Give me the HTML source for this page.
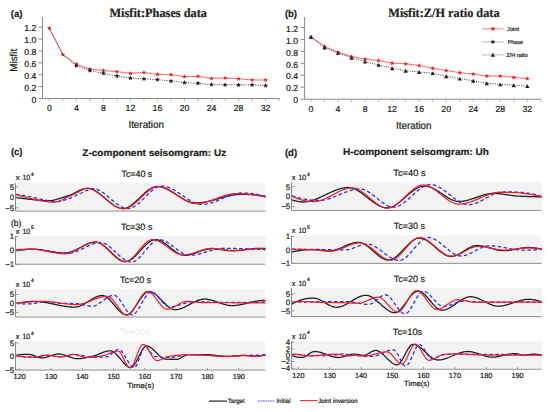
<!DOCTYPE html><html><head><meta charset="utf-8"><style>html,body{margin:0;padding:0;background:#fff;}svg{display:block}text{text-rendering:geometricPrecision}</style></head><body>
<svg width="550" height="412" viewBox="0 0 550 412">
<rect width="550" height="412" fill="#fff"/>
<text x="10.8" y="16.8" font-family="&quot;Liberation Sans&quot;, sans-serif" font-size="9.6" font-weight="bold" text-anchor="start" fill="#231f20" stroke="#231f20" stroke-width="0.22" textLength="11.6" lengthAdjust="spacingAndGlyphs">(a)</text>
<text x="284.9" y="17.0" font-family="&quot;Liberation Sans&quot;, sans-serif" font-size="9.8" font-weight="bold" text-anchor="start" fill="#231f20" stroke="#231f20" stroke-width="0.22" textLength="12.1" lengthAdjust="spacingAndGlyphs">(b)</text>
<text x="10.9" y="155.2" font-family="&quot;Liberation Sans&quot;, sans-serif" font-size="9.6" font-weight="bold" text-anchor="start" fill="#231f20" stroke="#231f20" stroke-width="0.22" textLength="11.6" lengthAdjust="spacingAndGlyphs">(c)</text>
<text x="284.9" y="156.4" font-family="&quot;Liberation Sans&quot;, sans-serif" font-size="9.8" font-weight="bold" text-anchor="start" fill="#231f20" stroke="#231f20" stroke-width="0.22" textLength="12.2" lengthAdjust="spacingAndGlyphs">(d)</text>
<text x="109.5" y="16.6" font-family="&quot;Liberation Serif&quot;, serif" font-size="12.8" font-weight="bold" text-anchor="start" fill="#231f20" stroke="#231f20" stroke-width="0.22" textLength="97.5" lengthAdjust="spacingAndGlyphs">Misfit:Phases data</text>
<text x="388.3" y="17.4" font-family="&quot;Liberation Serif&quot;, serif" font-size="12.8" font-weight="bold" text-anchor="start" fill="#231f20" stroke="#231f20" stroke-width="0.22" textLength="111.3" lengthAdjust="spacingAndGlyphs">Misfit:Z/H ratio data</text>
<text transform="translate(17,71.8) rotate(-90)" font-family="&quot;Liberation Sans&quot;, sans-serif" font-size="10.1" fill="#231f20" stroke="#231f20" stroke-width="0.22" textLength="23.1" lengthAdjust="spacingAndGlyphs">Misfit</text>
<path d="M42.5,17 V98.5 H279.7" stroke="#888888" stroke-width="1" fill="none"/>
<path d="M38.5,98.50 H42.5" stroke="#888888" stroke-width="1"/>
<text x="36.4" y="102.70" font-family="&quot;Liberation Sans&quot;, sans-serif" font-size="8.7" text-anchor="end" fill="#231f20" stroke="#231f20" stroke-width="0.22">0</text>
<path d="M38.5,86.62 H42.5" stroke="#888888" stroke-width="1"/>
<text x="36.4" y="90.82" font-family="&quot;Liberation Sans&quot;, sans-serif" font-size="8.7" text-anchor="end" fill="#231f20" stroke="#231f20" stroke-width="0.22">0.2</text>
<path d="M38.5,74.74 H42.5" stroke="#888888" stroke-width="1"/>
<text x="36.4" y="78.94" font-family="&quot;Liberation Sans&quot;, sans-serif" font-size="8.7" text-anchor="end" fill="#231f20" stroke="#231f20" stroke-width="0.22">0.4</text>
<path d="M38.5,62.86 H42.5" stroke="#888888" stroke-width="1"/>
<text x="36.4" y="67.06" font-family="&quot;Liberation Sans&quot;, sans-serif" font-size="8.7" text-anchor="end" fill="#231f20" stroke="#231f20" stroke-width="0.22">0.6</text>
<path d="M38.5,50.98 H42.5" stroke="#888888" stroke-width="1"/>
<text x="36.4" y="55.18" font-family="&quot;Liberation Sans&quot;, sans-serif" font-size="8.7" text-anchor="end" fill="#231f20" stroke="#231f20" stroke-width="0.22">0.8</text>
<path d="M38.5,39.10 H42.5" stroke="#888888" stroke-width="1"/>
<text x="36.4" y="43.30" font-family="&quot;Liberation Sans&quot;, sans-serif" font-size="8.7" text-anchor="end" fill="#231f20" stroke="#231f20" stroke-width="0.22">1.0</text>
<path d="M38.5,27.22 H42.5" stroke="#888888" stroke-width="1"/>
<text x="36.4" y="31.42" font-family="&quot;Liberation Sans&quot;, sans-serif" font-size="8.7" text-anchor="end" fill="#231f20" stroke="#231f20" stroke-width="0.22">1.2</text>
<path d="M49.30,98.5 V101.5" stroke="#9a9a9a" stroke-width="0.7"/>
<text x="49.30" y="111.1" font-family="&quot;Liberation Sans&quot;, sans-serif" font-size="8.7" text-anchor="middle" fill="#231f20" stroke="#231f20" stroke-width="0.22">0</text>
<path d="M62.82,98.5 V101.5" stroke="#9a9a9a" stroke-width="0.7"/>
<path d="M76.34,98.5 V101.5" stroke="#9a9a9a" stroke-width="0.7"/>
<text x="76.34" y="111.1" font-family="&quot;Liberation Sans&quot;, sans-serif" font-size="8.7" text-anchor="middle" fill="#231f20" stroke="#231f20" stroke-width="0.22">4</text>
<path d="M89.86,98.5 V101.5" stroke="#9a9a9a" stroke-width="0.7"/>
<path d="M103.38,98.5 V101.5" stroke="#9a9a9a" stroke-width="0.7"/>
<text x="103.38" y="111.1" font-family="&quot;Liberation Sans&quot;, sans-serif" font-size="8.7" text-anchor="middle" fill="#231f20" stroke="#231f20" stroke-width="0.22">8</text>
<path d="M116.90,98.5 V101.5" stroke="#9a9a9a" stroke-width="0.7"/>
<path d="M130.42,98.5 V101.5" stroke="#9a9a9a" stroke-width="0.7"/>
<text x="130.42" y="111.1" font-family="&quot;Liberation Sans&quot;, sans-serif" font-size="8.7" text-anchor="middle" fill="#231f20" stroke="#231f20" stroke-width="0.22">12</text>
<path d="M143.94,98.5 V101.5" stroke="#9a9a9a" stroke-width="0.7"/>
<path d="M157.46,98.5 V101.5" stroke="#9a9a9a" stroke-width="0.7"/>
<text x="157.46" y="111.1" font-family="&quot;Liberation Sans&quot;, sans-serif" font-size="8.7" text-anchor="middle" fill="#231f20" stroke="#231f20" stroke-width="0.22">16</text>
<path d="M170.98,98.5 V101.5" stroke="#9a9a9a" stroke-width="0.7"/>
<path d="M184.50,98.5 V101.5" stroke="#9a9a9a" stroke-width="0.7"/>
<text x="184.50" y="111.1" font-family="&quot;Liberation Sans&quot;, sans-serif" font-size="8.7" text-anchor="middle" fill="#231f20" stroke="#231f20" stroke-width="0.22">20</text>
<path d="M198.02,98.5 V101.5" stroke="#9a9a9a" stroke-width="0.7"/>
<path d="M211.54,98.5 V101.5" stroke="#9a9a9a" stroke-width="0.7"/>
<text x="211.54" y="111.1" font-family="&quot;Liberation Sans&quot;, sans-serif" font-size="8.7" text-anchor="middle" fill="#231f20" stroke="#231f20" stroke-width="0.22">24</text>
<path d="M225.06,98.5 V101.5" stroke="#9a9a9a" stroke-width="0.7"/>
<path d="M238.58,98.5 V101.5" stroke="#9a9a9a" stroke-width="0.7"/>
<text x="238.58" y="111.1" font-family="&quot;Liberation Sans&quot;, sans-serif" font-size="8.7" text-anchor="middle" fill="#231f20" stroke="#231f20" stroke-width="0.22">28</text>
<path d="M252.10,98.5 V101.5" stroke="#9a9a9a" stroke-width="0.7"/>
<path d="M265.62,98.5 V101.5" stroke="#9a9a9a" stroke-width="0.7"/>
<text x="265.62" y="111.1" font-family="&quot;Liberation Sans&quot;, sans-serif" font-size="8.7" text-anchor="middle" fill="#231f20" stroke="#231f20" stroke-width="0.22">32</text>
<path d="M279.14,98.5 V101.5" stroke="#9a9a9a" stroke-width="0.7"/>
<text x="128.4" y="128.0" font-family="&quot;Liberation Sans&quot;, sans-serif" font-size="10.4" text-anchor="start" fill="#231f20" stroke="#231f20" stroke-width="0.22" textLength="35.6" lengthAdjust="spacingAndGlyphs">Iteration</text>
<path d="M49.30,28.10 62.82,54.60 76.34,64.20 89.86,69.00 103.38,70.50 116.90,71.60 130.42,73.30 143.94,72.50 157.46,74.40 170.98,74.70 184.50,76.70 198.02,76.40 211.54,78.40 225.06,78.00 238.58,78.80 252.10,80.00 265.62,80.00" stroke="#f55a5a" stroke-width="0.9" fill="none"/>
<polygon points="49.30,25.70 49.93,27.23 51.58,27.36 50.33,28.43 50.71,30.04 49.30,29.18 47.89,30.04 48.27,28.43 47.02,27.36 48.67,27.23" fill="#ee1c24"/>
<polygon points="62.82,52.20 63.45,53.73 65.10,53.86 63.85,54.93 64.23,56.54 62.82,55.68 61.41,56.54 61.79,54.93 60.54,53.86 62.19,53.73" fill="#ee1c24"/>
<polygon points="76.34,61.80 76.97,63.33 78.62,63.46 77.37,64.53 77.75,66.14 76.34,65.28 74.93,66.14 75.31,64.53 74.06,63.46 75.71,63.33" fill="#ee1c24"/>
<polygon points="89.86,66.60 90.49,68.13 92.14,68.26 90.89,69.33 91.27,70.94 89.86,70.08 88.45,70.94 88.83,69.33 87.58,68.26 89.23,68.13" fill="#ee1c24"/>
<polygon points="103.38,68.10 104.01,69.63 105.66,69.76 104.41,70.83 104.79,72.44 103.38,71.58 101.97,72.44 102.35,70.83 101.10,69.76 102.75,69.63" fill="#ee1c24"/>
<polygon points="116.90,69.20 117.53,70.73 119.18,70.86 117.93,71.93 118.31,73.54 116.90,72.68 115.49,73.54 115.87,71.93 114.62,70.86 116.27,70.73" fill="#ee1c24"/>
<polygon points="130.42,70.90 131.05,72.43 132.70,72.56 131.45,73.63 131.83,75.24 130.42,74.38 129.01,75.24 129.39,73.63 128.14,72.56 129.79,72.43" fill="#ee1c24"/>
<polygon points="143.94,70.10 144.57,71.63 146.22,71.76 144.97,72.83 145.35,74.44 143.94,73.58 142.53,74.44 142.91,72.83 141.66,71.76 143.31,71.63" fill="#ee1c24"/>
<polygon points="157.46,72.00 158.09,73.53 159.74,73.66 158.49,74.73 158.87,76.34 157.46,75.48 156.05,76.34 156.43,74.73 155.18,73.66 156.83,73.53" fill="#ee1c24"/>
<polygon points="170.98,72.30 171.61,73.83 173.26,73.96 172.01,75.03 172.39,76.64 170.98,75.78 169.57,76.64 169.95,75.03 168.70,73.96 170.35,73.83" fill="#ee1c24"/>
<polygon points="184.50,74.30 185.13,75.83 186.78,75.96 185.53,77.03 185.91,78.64 184.50,77.78 183.09,78.64 183.47,77.03 182.22,75.96 183.87,75.83" fill="#ee1c24"/>
<polygon points="198.02,74.00 198.65,75.53 200.30,75.66 199.05,76.73 199.43,78.34 198.02,77.48 196.61,78.34 196.99,76.73 195.74,75.66 197.39,75.53" fill="#ee1c24"/>
<polygon points="211.54,76.00 212.17,77.53 213.82,77.66 212.57,78.73 212.95,80.34 211.54,79.48 210.13,80.34 210.51,78.73 209.26,77.66 210.91,77.53" fill="#ee1c24"/>
<polygon points="225.06,75.60 225.69,77.13 227.34,77.26 226.09,78.33 226.47,79.94 225.06,79.08 223.65,79.94 224.03,78.33 222.78,77.26 224.43,77.13" fill="#ee1c24"/>
<polygon points="238.58,76.40 239.21,77.93 240.86,78.06 239.61,79.13 239.99,80.74 238.58,79.88 237.17,80.74 237.55,79.13 236.30,78.06 237.95,77.93" fill="#ee1c24"/>
<polygon points="252.10,77.60 252.73,79.13 254.38,79.26 253.13,80.33 253.51,81.94 252.10,81.08 250.69,81.94 251.07,80.33 249.82,79.26 251.47,79.13" fill="#ee1c24"/>
<polygon points="265.62,77.60 266.25,79.13 267.90,79.26 266.65,80.33 267.03,81.94 265.62,81.08 264.21,81.94 264.59,80.33 263.34,79.26 264.99,79.13" fill="#ee1c24"/>
<path d="M49.30,28.10 62.82,54.60 76.34,65.70 89.86,70.50 103.38,73.40 116.90,76.00 130.42,78.20 143.94,78.90 157.46,79.60 170.98,81.10 184.50,82.70 198.02,83.30 211.54,84.60 225.06,84.90 238.58,85.00 252.10,84.90 265.62,85.60" stroke="#231f20" stroke-width="0.9" stroke-dasharray="1 1.4" fill="none"/>
<polygon points="76.34,63.10 77.03,64.75 78.81,64.90 77.45,66.06 77.87,67.80 76.34,66.87 74.81,67.80 75.23,66.06 73.87,64.90 75.65,64.75" fill="#231f20"/>
<polygon points="89.86,67.90 90.55,69.55 92.33,69.70 90.97,70.86 91.39,72.60 89.86,71.67 88.33,72.60 88.75,70.86 87.39,69.70 89.17,69.55" fill="#231f20"/>
<polygon points="103.38,70.80 104.07,72.45 105.85,72.60 104.49,73.76 104.91,75.50 103.38,74.57 101.85,75.50 102.27,73.76 100.91,72.60 102.69,72.45" fill="#231f20"/>
<polygon points="116.90,73.40 117.59,75.05 119.37,75.20 118.01,76.36 118.43,78.10 116.90,77.17 115.37,78.10 115.79,76.36 114.43,75.20 116.21,75.05" fill="#231f20"/>
<polygon points="130.42,75.60 131.11,77.25 132.89,77.40 131.53,78.56 131.95,80.30 130.42,79.37 128.89,80.30 129.31,78.56 127.95,77.40 129.73,77.25" fill="#231f20"/>
<polygon points="143.94,76.30 144.63,77.95 146.41,78.10 145.05,79.26 145.47,81.00 143.94,80.07 142.41,81.00 142.83,79.26 141.47,78.10 143.25,77.95" fill="#231f20"/>
<polygon points="157.46,77.00 158.15,78.65 159.93,78.80 158.57,79.96 158.99,81.70 157.46,80.77 155.93,81.70 156.35,79.96 154.99,78.80 156.77,78.65" fill="#231f20"/>
<polygon points="170.98,78.50 171.67,80.15 173.45,80.30 172.09,81.46 172.51,83.20 170.98,82.27 169.45,83.20 169.87,81.46 168.51,80.30 170.29,80.15" fill="#231f20"/>
<polygon points="184.50,80.10 185.19,81.75 186.97,81.90 185.61,83.06 186.03,84.80 184.50,83.87 182.97,84.80 183.39,83.06 182.03,81.90 183.81,81.75" fill="#231f20"/>
<polygon points="198.02,80.70 198.71,82.35 200.49,82.50 199.13,83.66 199.55,85.40 198.02,84.47 196.49,85.40 196.91,83.66 195.55,82.50 197.33,82.35" fill="#231f20"/>
<polygon points="211.54,82.00 212.23,83.65 214.01,83.80 212.65,84.96 213.07,86.70 211.54,85.77 210.01,86.70 210.43,84.96 209.07,83.80 210.85,83.65" fill="#231f20"/>
<polygon points="225.06,82.30 225.75,83.95 227.53,84.10 226.17,85.26 226.59,87.00 225.06,86.07 223.53,87.00 223.95,85.26 222.59,84.10 224.37,83.95" fill="#231f20"/>
<polygon points="238.58,82.40 239.27,84.05 241.05,84.20 239.69,85.36 240.11,87.10 238.58,86.17 237.05,87.10 237.47,85.36 236.11,84.20 237.89,84.05" fill="#231f20"/>
<polygon points="252.10,82.30 252.79,83.95 254.57,84.10 253.21,85.26 253.63,87.00 252.10,86.07 250.57,87.00 250.99,85.26 249.63,84.10 251.41,83.95" fill="#231f20"/>
<polygon points="265.62,83.00 266.31,84.65 268.09,84.80 266.73,85.96 267.15,87.70 265.62,86.77 264.09,87.70 264.51,85.96 263.15,84.80 264.93,84.65" fill="#231f20"/>
<path d="M304.6,17 V99.2 H541.3" stroke="#888888" stroke-width="1" fill="none"/>
<path d="M300.6,99.20 H304.6" stroke="#888888" stroke-width="1"/>
<text x="298.2" y="103.40" font-family="&quot;Liberation Sans&quot;, sans-serif" font-size="8.7" text-anchor="end" fill="#231f20" stroke="#231f20" stroke-width="0.22">0</text>
<path d="M300.6,87.24 H304.6" stroke="#888888" stroke-width="1"/>
<text x="298.2" y="91.44" font-family="&quot;Liberation Sans&quot;, sans-serif" font-size="8.7" text-anchor="end" fill="#231f20" stroke="#231f20" stroke-width="0.22">0.2</text>
<path d="M300.6,75.28 H304.6" stroke="#888888" stroke-width="1"/>
<text x="298.2" y="79.48" font-family="&quot;Liberation Sans&quot;, sans-serif" font-size="8.7" text-anchor="end" fill="#231f20" stroke="#231f20" stroke-width="0.22">0.4</text>
<path d="M300.6,63.32 H304.6" stroke="#888888" stroke-width="1"/>
<text x="298.2" y="67.52" font-family="&quot;Liberation Sans&quot;, sans-serif" font-size="8.7" text-anchor="end" fill="#231f20" stroke="#231f20" stroke-width="0.22">0.6</text>
<path d="M300.6,51.36 H304.6" stroke="#888888" stroke-width="1"/>
<text x="298.2" y="55.56" font-family="&quot;Liberation Sans&quot;, sans-serif" font-size="8.7" text-anchor="end" fill="#231f20" stroke="#231f20" stroke-width="0.22">0.8</text>
<path d="M300.6,39.40 H304.6" stroke="#888888" stroke-width="1"/>
<text x="298.2" y="43.60" font-family="&quot;Liberation Sans&quot;, sans-serif" font-size="8.7" text-anchor="end" fill="#231f20" stroke="#231f20" stroke-width="0.22">1.0</text>
<path d="M300.6,27.44 H304.6" stroke="#888888" stroke-width="1"/>
<text x="298.2" y="31.64" font-family="&quot;Liberation Sans&quot;, sans-serif" font-size="8.7" text-anchor="end" fill="#231f20" stroke="#231f20" stroke-width="0.22">1.2</text>
<path d="M311.00,99.2 V102.2" stroke="#9a9a9a" stroke-width="0.7"/>
<text x="311.00" y="111.9" font-family="&quot;Liberation Sans&quot;, sans-serif" font-size="8.7" text-anchor="middle" fill="#231f20" stroke="#231f20" stroke-width="0.22">0</text>
<path d="M324.52,99.2 V102.2" stroke="#9a9a9a" stroke-width="0.7"/>
<path d="M338.04,99.2 V102.2" stroke="#9a9a9a" stroke-width="0.7"/>
<text x="338.04" y="111.9" font-family="&quot;Liberation Sans&quot;, sans-serif" font-size="8.7" text-anchor="middle" fill="#231f20" stroke="#231f20" stroke-width="0.22">4</text>
<path d="M351.56,99.2 V102.2" stroke="#9a9a9a" stroke-width="0.7"/>
<path d="M365.08,99.2 V102.2" stroke="#9a9a9a" stroke-width="0.7"/>
<text x="365.08" y="111.9" font-family="&quot;Liberation Sans&quot;, sans-serif" font-size="8.7" text-anchor="middle" fill="#231f20" stroke="#231f20" stroke-width="0.22">8</text>
<path d="M378.60,99.2 V102.2" stroke="#9a9a9a" stroke-width="0.7"/>
<path d="M392.12,99.2 V102.2" stroke="#9a9a9a" stroke-width="0.7"/>
<text x="392.12" y="111.9" font-family="&quot;Liberation Sans&quot;, sans-serif" font-size="8.7" text-anchor="middle" fill="#231f20" stroke="#231f20" stroke-width="0.22">12</text>
<path d="M405.64,99.2 V102.2" stroke="#9a9a9a" stroke-width="0.7"/>
<path d="M419.16,99.2 V102.2" stroke="#9a9a9a" stroke-width="0.7"/>
<text x="419.16" y="111.9" font-family="&quot;Liberation Sans&quot;, sans-serif" font-size="8.7" text-anchor="middle" fill="#231f20" stroke="#231f20" stroke-width="0.22">16</text>
<path d="M432.68,99.2 V102.2" stroke="#9a9a9a" stroke-width="0.7"/>
<path d="M446.20,99.2 V102.2" stroke="#9a9a9a" stroke-width="0.7"/>
<text x="446.20" y="111.9" font-family="&quot;Liberation Sans&quot;, sans-serif" font-size="8.7" text-anchor="middle" fill="#231f20" stroke="#231f20" stroke-width="0.22">20</text>
<path d="M459.72,99.2 V102.2" stroke="#9a9a9a" stroke-width="0.7"/>
<path d="M473.24,99.2 V102.2" stroke="#9a9a9a" stroke-width="0.7"/>
<text x="473.24" y="111.9" font-family="&quot;Liberation Sans&quot;, sans-serif" font-size="8.7" text-anchor="middle" fill="#231f20" stroke="#231f20" stroke-width="0.22">24</text>
<path d="M486.76,99.2 V102.2" stroke="#9a9a9a" stroke-width="0.7"/>
<path d="M500.28,99.2 V102.2" stroke="#9a9a9a" stroke-width="0.7"/>
<text x="500.28" y="111.9" font-family="&quot;Liberation Sans&quot;, sans-serif" font-size="8.7" text-anchor="middle" fill="#231f20" stroke="#231f20" stroke-width="0.22">28</text>
<path d="M513.80,99.2 V102.2" stroke="#9a9a9a" stroke-width="0.7"/>
<path d="M527.32,99.2 V102.2" stroke="#9a9a9a" stroke-width="0.7"/>
<text x="527.32" y="111.9" font-family="&quot;Liberation Sans&quot;, sans-serif" font-size="8.7" text-anchor="middle" fill="#231f20" stroke="#231f20" stroke-width="0.22">32</text>
<path d="M540.84,99.2 V102.2" stroke="#9a9a9a" stroke-width="0.7"/>
<text x="396.0" y="129.3" font-family="&quot;Liberation Sans&quot;, sans-serif" font-size="10.4" text-anchor="start" fill="#231f20" stroke="#231f20" stroke-width="0.22" textLength="35.5" lengthAdjust="spacingAndGlyphs">Iteration</text>
<path d="M311.00,37.00 324.52,46.40 338.04,52.30 351.56,56.60 365.08,59.20 378.60,60.50 392.12,63.20 405.64,63.80 419.16,65.50 432.68,68.30 446.20,70.50 459.72,72.70 473.24,74.00 486.76,76.00 500.28,76.00 513.80,77.30 527.32,78.60" stroke="#f55a5a" stroke-width="0.9" fill="none"/>
<polygon points="311.00,34.60 311.63,36.13 313.28,36.26 312.03,37.33 312.41,38.94 311.00,38.08 309.59,38.94 309.97,37.33 308.72,36.26 310.37,36.13" fill="#ee1c24"/>
<polygon points="324.52,44.00 325.15,45.53 326.80,45.66 325.55,46.73 325.93,48.34 324.52,47.48 323.11,48.34 323.49,46.73 322.24,45.66 323.89,45.53" fill="#ee1c24"/>
<polygon points="338.04,49.90 338.67,51.43 340.32,51.56 339.07,52.63 339.45,54.24 338.04,53.38 336.63,54.24 337.01,52.63 335.76,51.56 337.41,51.43" fill="#ee1c24"/>
<polygon points="351.56,54.20 352.19,55.73 353.84,55.86 352.59,56.93 352.97,58.54 351.56,57.68 350.15,58.54 350.53,56.93 349.28,55.86 350.93,55.73" fill="#ee1c24"/>
<polygon points="365.08,56.80 365.71,58.33 367.36,58.46 366.11,59.53 366.49,61.14 365.08,60.28 363.67,61.14 364.05,59.53 362.80,58.46 364.45,58.33" fill="#ee1c24"/>
<polygon points="378.60,58.10 379.23,59.63 380.88,59.76 379.63,60.83 380.01,62.44 378.60,61.58 377.19,62.44 377.57,60.83 376.32,59.76 377.97,59.63" fill="#ee1c24"/>
<polygon points="392.12,60.80 392.75,62.33 394.40,62.46 393.15,63.53 393.53,65.14 392.12,64.28 390.71,65.14 391.09,63.53 389.84,62.46 391.49,62.33" fill="#ee1c24"/>
<polygon points="405.64,61.40 406.27,62.93 407.92,63.06 406.67,64.13 407.05,65.74 405.64,64.88 404.23,65.74 404.61,64.13 403.36,63.06 405.01,62.93" fill="#ee1c24"/>
<polygon points="419.16,63.10 419.79,64.63 421.44,64.76 420.19,65.83 420.57,67.44 419.16,66.58 417.75,67.44 418.13,65.83 416.88,64.76 418.53,64.63" fill="#ee1c24"/>
<polygon points="432.68,65.90 433.31,67.43 434.96,67.56 433.71,68.63 434.09,70.24 432.68,69.38 431.27,70.24 431.65,68.63 430.40,67.56 432.05,67.43" fill="#ee1c24"/>
<polygon points="446.20,68.10 446.83,69.63 448.48,69.76 447.23,70.83 447.61,72.44 446.20,71.58 444.79,72.44 445.17,70.83 443.92,69.76 445.57,69.63" fill="#ee1c24"/>
<polygon points="459.72,70.30 460.35,71.83 462.00,71.96 460.75,73.03 461.13,74.64 459.72,73.78 458.31,74.64 458.69,73.03 457.44,71.96 459.09,71.83" fill="#ee1c24"/>
<polygon points="473.24,71.60 473.87,73.13 475.52,73.26 474.27,74.33 474.65,75.94 473.24,75.08 471.83,75.94 472.21,74.33 470.96,73.26 472.61,73.13" fill="#ee1c24"/>
<polygon points="486.76,73.60 487.39,75.13 489.04,75.26 487.79,76.33 488.17,77.94 486.76,77.08 485.35,77.94 485.73,76.33 484.48,75.26 486.13,75.13" fill="#ee1c24"/>
<polygon points="500.28,73.60 500.91,75.13 502.56,75.26 501.31,76.33 501.69,77.94 500.28,77.08 498.87,77.94 499.25,76.33 498.00,75.26 499.65,75.13" fill="#ee1c24"/>
<polygon points="513.80,74.90 514.43,76.43 516.08,76.56 514.83,77.63 515.21,79.24 513.80,78.38 512.39,79.24 512.77,77.63 511.52,76.56 513.17,76.43" fill="#ee1c24"/>
<polygon points="527.32,76.20 527.95,77.73 529.60,77.86 528.35,78.93 528.73,80.54 527.32,79.68 525.91,80.54 526.29,78.93 525.04,77.86 526.69,77.73" fill="#ee1c24"/>
<path d="M311.00,37.00 324.52,47.50 338.04,52.90 351.56,57.70 365.08,61.60 378.60,64.90 392.12,68.20 405.64,70.80 419.16,72.00 432.68,73.10 446.20,76.20 459.72,78.60 473.24,80.80 486.76,83.20 500.28,84.40 513.80,85.20 527.32,86.10" stroke="#231f20" stroke-width="0.9" stroke-dasharray="1 1.4" fill="none"/>
<polygon points="308.85,38.94 313.15,38.94 311.00,35.06" fill="#231f20"/>
<polygon points="322.37,49.44 326.67,49.44 324.52,45.56" fill="#231f20"/>
<polygon points="335.89,54.84 340.19,54.84 338.04,50.96" fill="#231f20"/>
<polygon points="349.41,59.64 353.71,59.64 351.56,55.77" fill="#231f20"/>
<polygon points="362.93,63.54 367.23,63.54 365.08,59.66" fill="#231f20"/>
<polygon points="376.45,66.84 380.75,66.84 378.60,62.97" fill="#231f20"/>
<polygon points="389.97,70.14 394.27,70.14 392.12,66.27" fill="#231f20"/>
<polygon points="403.49,72.73 407.79,72.73 405.64,68.86" fill="#231f20"/>
<polygon points="417.01,73.94 421.31,73.94 419.16,70.06" fill="#231f20"/>
<polygon points="430.53,75.03 434.83,75.03 432.68,71.16" fill="#231f20"/>
<polygon points="444.05,78.14 448.35,78.14 446.20,74.27" fill="#231f20"/>
<polygon points="457.57,80.53 461.87,80.53 459.72,76.66" fill="#231f20"/>
<polygon points="471.09,82.73 475.39,82.73 473.24,78.86" fill="#231f20"/>
<polygon points="484.61,85.14 488.91,85.14 486.76,81.27" fill="#231f20"/>
<polygon points="498.13,86.34 502.43,86.34 500.28,82.47" fill="#231f20"/>
<polygon points="511.65,87.14 515.95,87.14 513.80,83.27" fill="#231f20"/>
<polygon points="525.17,88.03 529.47,88.03 527.32,84.16" fill="#231f20"/>
<path d="M481.8,28.8 H503.7" stroke="#f9a0a0" stroke-width="1.3"/>
<polygon points="492.90,26.20 493.59,27.85 495.37,28.00 494.01,29.16 494.43,30.90 492.90,29.97 491.37,30.90 491.79,29.16 490.43,28.00 492.21,27.85" fill="#ee1c24"/>
<path d="M481.8,41.9 H503.7" stroke="#aaa" stroke-width="1.1" stroke-dasharray="1 0.6"/>
<polygon points="492.90,39.30 493.59,40.95 495.37,41.10 494.01,42.26 494.43,44.00 492.90,43.07 491.37,44.00 491.79,42.26 490.43,41.10 492.21,40.95" fill="#231f20"/>
<path d="M481.8,54.9 H503.7" stroke="#aaa" stroke-width="1.1" stroke-dasharray="1 0.6"/>
<polygon points="490.70,56.68 495.10,56.68 492.90,52.72" fill="#231f20"/>
<text x="507.1" y="30.6" font-family="&quot;Liberation Sans&quot;, sans-serif" font-size="5.6" text-anchor="start" fill="#231f20" stroke="#231f20" stroke-width="0.22" textLength="12.0" lengthAdjust="spacingAndGlyphs">Joint</text>
<text x="507.8" y="43.6" font-family="&quot;Liberation Sans&quot;, sans-serif" font-size="5.6" text-anchor="start" fill="#231f20" stroke="#231f20" stroke-width="0.22" textLength="15.1" lengthAdjust="spacingAndGlyphs">Phase</text>
<text x="506.2" y="56.6" font-family="&quot;Liberation Sans&quot;, sans-serif" font-size="5.6" text-anchor="start" fill="#231f20" stroke="#231f20" stroke-width="0.22" textLength="21.4" lengthAdjust="spacingAndGlyphs">Z/H ratio</text>
<text x="82.3" y="156.3" font-family="&quot;Liberation Sans&quot;, sans-serif" font-size="9.6" font-weight="bold" text-anchor="start" fill="#231f20" stroke="#231f20" stroke-width="0.22" textLength="143.9" lengthAdjust="spacingAndGlyphs">Z-component seisomgram: Uz</text>
<text x="342.9" y="154.9" font-family="&quot;Liberation Sans&quot;, sans-serif" font-size="9.6" font-weight="bold" text-anchor="start" fill="#231f20" stroke="#231f20" stroke-width="0.22" textLength="146.0" lengthAdjust="spacingAndGlyphs">H-component seisomgram: Uh</text>
<rect x="15.5" y="182.8" width="250.00" height="27.10" fill="#f3f3f3"/>
<path d="M16.00,197.48 16.60,197.57 17.20,197.66 17.80,197.74 18.40,197.83 19.00,197.92 19.60,198.00 20.20,198.09 20.80,198.17 21.40,198.26 22.00,198.34 22.60,198.42 23.20,198.50 23.80,198.58 24.40,198.65 25.00,198.73 25.60,198.80 26.20,198.87 26.80,198.95 27.40,199.02 28.00,199.08 28.60,199.15 29.20,199.22 29.80,199.28 30.40,199.34 31.00,199.41 31.60,199.47 32.20,199.54 32.80,199.61 33.40,199.67 34.00,199.74 34.60,199.81 35.20,199.88 35.80,199.95 36.40,200.01 37.00,200.08 37.60,200.14 38.20,200.21 38.80,200.27 39.40,200.33 40.00,200.39 40.60,200.44 41.20,200.49 41.80,200.54 42.40,200.59 43.00,200.63 43.60,200.67 44.20,200.70 44.80,200.73 45.40,200.75 46.00,200.77 46.60,200.79 47.20,200.80 47.80,200.80 48.40,200.79 49.00,200.77 49.60,200.73 50.20,200.68 50.80,200.62 51.40,200.54 52.00,200.45 52.60,200.35 53.20,200.24 53.80,200.11 54.40,199.98 55.00,199.84 55.60,199.69 56.20,199.53 56.80,199.37 57.40,199.20 58.00,199.02 58.60,198.84 59.20,198.65 59.80,198.46 60.40,198.27 61.00,198.07 61.60,197.87 62.20,197.67 62.80,197.47 63.40,197.27 64.00,197.06 64.60,196.86 65.20,196.66 65.80,196.46 66.40,196.27 67.00,196.07 67.60,195.88 68.20,195.70 68.80,195.51 69.40,195.30 70.00,195.07 70.60,194.83 71.20,194.57 71.80,194.30 72.40,194.02 73.00,193.73 73.60,193.44 74.20,193.14 74.80,192.83 75.40,192.52 76.00,192.21 76.60,191.90 77.20,191.60 77.80,191.29 78.40,191.00 79.00,190.71 79.60,190.43 80.20,190.15 80.80,189.90 81.40,189.65 82.00,189.42 82.60,189.21 83.20,189.01 83.80,188.84 84.40,188.68 85.00,188.55 85.60,188.45 86.20,188.37 86.80,188.32 87.40,188.30 88.00,188.31 88.60,188.36 89.20,188.44 89.80,188.55 90.40,188.69 91.00,188.86 91.60,189.05 92.20,189.28 92.80,189.53 93.40,189.80 94.00,190.10 94.60,190.42 95.20,190.76 95.80,191.13 96.40,191.50 97.00,191.90 97.60,192.31 98.20,192.74 98.80,193.18 99.40,193.64 100.00,194.10 100.60,194.58 101.20,195.07 101.80,195.56 102.40,196.06 103.00,196.56 103.60,197.07 104.20,197.59 104.80,198.10 105.40,198.61 106.00,199.13 106.60,199.64 107.20,200.15 107.80,200.66 108.40,201.16 109.00,201.65 109.60,202.14 110.20,202.62 110.80,203.08 111.40,203.54 112.00,203.98 112.60,204.41 113.20,204.83 113.80,205.23 114.40,205.61 115.00,205.98 115.60,206.32 116.20,206.65 116.80,206.95 117.40,207.23 118.00,207.48 118.60,207.71 119.20,207.91 119.80,208.09 120.40,208.23 121.00,208.35 121.60,208.43 122.20,208.48 122.80,208.50 123.40,208.48 124.00,208.42 124.60,208.33 125.20,208.19 125.80,208.03 126.40,207.83 127.00,207.60 127.60,207.33 128.20,207.04 128.80,206.73 129.40,206.38 130.00,206.01 130.60,205.62 131.20,205.21 131.80,204.77 132.40,204.32 133.00,203.84 133.60,203.36 134.20,202.85 134.80,202.34 135.40,201.81 136.00,201.27 136.60,200.72 137.20,200.16 137.80,199.60 138.40,199.03 139.00,198.46 139.60,197.88 140.20,197.31 140.80,196.73 141.40,196.16 142.00,195.59 142.60,195.02 143.20,194.47 143.80,193.91 144.40,193.37 145.00,192.84 145.60,192.32 146.20,191.81 146.80,191.32 147.40,190.84 148.00,190.38 148.60,189.94 149.20,189.52 149.80,189.12 150.40,188.74 151.00,188.39 151.60,188.06 152.20,187.76 152.80,187.49 153.40,187.25 154.00,187.04 154.60,186.86 155.20,186.71 155.80,186.61 156.40,186.54 157.00,186.50 157.60,186.51 158.20,186.53 158.80,186.58 159.40,186.66 160.00,186.75 160.60,186.87 161.20,187.00 161.80,187.16 162.40,187.33 163.00,187.52 163.60,187.73 164.20,187.95 164.80,188.19 165.40,188.45 166.00,188.71 166.60,188.99 167.20,189.29 167.80,189.59 168.40,189.91 169.00,190.23 169.60,190.57 170.20,190.91 170.80,191.26 171.40,191.62 172.00,191.99 172.60,192.36 173.20,192.73 173.80,193.11 174.40,193.49 175.00,193.88 175.60,194.27 176.20,194.65 176.80,195.04 177.40,195.43 178.00,195.81 178.60,196.20 179.20,196.58 179.80,196.96 180.40,197.33 181.00,197.70 181.60,198.06 182.20,198.41 182.80,198.76 183.40,199.10 184.00,199.43 184.60,199.75 185.20,200.06 185.80,200.36 186.40,200.65 187.00,200.92 187.60,201.18 188.20,201.43 188.80,201.66 189.40,201.88 190.00,202.08 190.60,202.26 191.20,202.42 191.80,202.57 192.40,202.69 193.00,202.80 193.60,202.88 194.20,202.94 194.80,202.98 195.40,203.00 196.00,203.00 196.60,202.99 197.20,202.97 197.80,202.94 198.40,202.90 199.00,202.86 199.60,202.80 200.20,202.75 200.80,202.68 201.40,202.61 202.00,202.53 202.60,202.44 203.20,202.35 203.80,202.25 204.40,202.15 205.00,202.04 205.60,201.93 206.20,201.81 206.80,201.68 207.40,201.55 208.00,201.42 208.60,201.29 209.20,201.14 209.80,201.00 210.40,200.85 211.00,200.70 211.60,200.55 212.20,200.39 212.80,200.23 213.40,200.07 214.00,199.91 214.60,199.75 215.20,199.58 215.80,199.41 216.40,199.24 217.00,199.07 217.60,198.91 218.20,198.74 218.80,198.56 219.40,198.39 220.00,198.23 220.60,198.06 221.20,197.89 221.80,197.72 222.40,197.55 223.00,197.39 223.60,197.23 224.20,197.07 224.80,196.91 225.40,196.75 226.00,196.60 226.60,196.45 227.20,196.30 227.80,196.16 228.40,196.01 229.00,195.88 229.60,195.75 230.20,195.62 230.80,195.49 231.40,195.37 232.00,195.26 232.60,195.15 233.20,195.05 233.80,194.95 234.40,194.86 235.00,194.77 235.60,194.69 236.20,194.62 236.80,194.55 237.40,194.50 238.00,194.44 238.60,194.40 239.20,194.36 239.80,194.33 240.40,194.31 241.00,194.30 241.60,194.30 242.20,194.30 242.80,194.31 243.40,194.31 244.00,194.32 244.60,194.34 245.20,194.35 245.80,194.37 246.40,194.39 247.00,194.41 247.60,194.44 248.20,194.47 248.80,194.50 249.40,194.53 250.00,194.57 250.60,194.61 251.20,194.65 251.80,194.69 252.40,194.74 253.00,194.79 253.60,194.85 254.20,194.90 254.80,194.96 255.40,195.02 256.00,195.09 256.60,195.15 257.20,195.23 257.80,195.30 258.40,195.37 259.00,195.45 259.60,195.54 260.20,195.62 260.80,195.71 261.40,195.80 262.00,195.89 262.60,195.99 263.20,196.09 263.80,196.19 264.40,196.30 265.00,196.41 265.50,196.50" stroke="#231f20" stroke-width="1.3" fill="none" stroke-linejoin="round"/>
<path d="M16.00,194.37 16.60,194.45 17.20,194.54 17.80,194.63 18.40,194.71 19.00,194.80 19.60,194.90 20.20,194.99 20.80,195.09 21.40,195.18 22.00,195.28 22.60,195.38 23.20,195.48 23.80,195.58 24.40,195.68 25.00,195.79 25.60,195.89 26.20,196.00 26.80,196.11 27.40,196.22 28.00,196.33 28.60,196.44 29.20,196.55 29.80,196.66 30.40,196.78 31.00,196.90 31.60,197.02 32.20,197.15 32.80,197.28 33.40,197.41 34.00,197.55 34.60,197.68 35.20,197.82 35.80,197.96 36.40,198.10 37.00,198.25 37.60,198.39 38.20,198.53 38.80,198.66 39.40,198.80 40.00,198.94 40.60,199.07 41.20,199.20 41.80,199.32 42.40,199.44 43.00,199.56 43.60,199.68 44.20,199.81 44.80,199.94 45.40,200.08 46.00,200.22 46.60,200.36 47.20,200.49 47.80,200.63 48.40,200.77 49.00,200.90 49.60,201.02 50.20,201.15 50.80,201.26 51.40,201.37 52.00,201.46 52.60,201.55 53.20,201.63 53.80,201.69 54.40,201.74 55.00,201.78 55.60,201.80 56.20,201.80 56.80,201.78 57.40,201.74 58.00,201.68 58.60,201.60 59.20,201.50 59.80,201.38 60.40,201.26 61.00,201.11 61.60,200.96 62.20,200.79 62.80,200.62 63.40,200.44 64.00,200.25 64.60,200.06 65.20,199.87 65.80,199.67 66.40,199.48 67.00,199.28 67.60,199.09 68.20,198.90 68.80,198.71 69.40,198.49 70.00,198.27 70.60,198.03 71.20,197.78 71.80,197.51 72.40,197.24 73.00,196.96 73.60,196.67 74.20,196.38 74.80,196.09 75.40,195.79 76.00,195.49 76.60,195.19 77.20,194.90 77.80,194.60 78.40,194.32 79.00,194.03 79.60,193.76 80.20,193.50 80.80,193.24 81.40,192.99 82.00,192.72 82.60,192.44 83.20,192.14 83.80,191.84 84.40,191.54 85.00,191.24 85.60,190.93 86.20,190.64 86.80,190.35 87.40,190.07 88.00,189.81 88.60,189.56 89.20,189.34 89.80,189.14 90.40,188.97 91.00,188.82 91.60,188.71 92.20,188.64 92.80,188.60 93.40,188.61 94.00,188.65 94.60,188.72 95.20,188.83 95.80,188.97 96.40,189.14 97.00,189.33 97.60,189.56 98.20,189.81 98.80,190.08 99.40,190.38 100.00,190.70 100.60,191.05 101.20,191.41 101.80,191.79 102.40,192.19 103.00,192.61 103.60,193.04 104.20,193.48 104.80,193.94 105.40,194.41 106.00,194.89 106.60,195.38 107.20,195.87 107.80,196.38 108.40,196.88 109.00,197.40 109.60,197.91 110.20,198.43 110.80,198.94 111.40,199.46 112.00,199.98 112.60,200.49 113.20,200.99 113.80,201.49 114.40,201.99 115.00,202.47 115.60,202.95 116.20,203.41 116.80,203.87 117.40,204.31 118.00,204.74 118.60,205.15 119.20,205.54 119.80,205.92 120.40,206.27 121.00,206.61 121.60,206.92 122.20,207.21 122.80,207.48 123.40,207.72 124.00,207.94 124.60,208.12 125.20,208.28 125.80,208.41 126.40,208.51 127.00,208.57 127.60,208.60 128.20,208.59 128.80,208.54 129.40,208.46 130.00,208.33 130.60,208.17 131.20,207.98 131.80,207.75 132.40,207.49 133.00,207.20 133.60,206.88 134.20,206.53 134.80,206.16 135.40,205.76 136.00,205.34 136.60,204.90 137.20,204.44 137.80,203.95 138.40,203.46 139.00,202.94 139.60,202.41 140.20,201.87 140.80,201.32 141.40,200.76 142.00,200.18 142.60,199.61 143.20,199.02 143.80,198.43 144.40,197.84 145.00,197.25 145.60,196.66 146.20,196.07 146.80,195.48 147.40,194.90 148.00,194.32 148.60,193.76 149.20,193.20 149.80,192.65 150.40,192.11 151.00,191.59 151.60,191.08 152.20,190.58 152.80,190.11 153.40,189.65 154.00,189.22 154.60,188.80 155.20,188.41 155.80,188.05 156.40,187.71 157.00,187.40 157.60,187.12 158.20,186.87 158.80,186.65 159.40,186.47 160.00,186.32 160.60,186.21 161.20,186.14 161.80,186.10 162.40,186.11 163.00,186.13 163.60,186.19 164.20,186.26 164.80,186.36 165.40,186.47 166.00,186.61 166.60,186.77 167.20,186.94 167.80,187.14 168.40,187.35 169.00,187.58 169.60,187.82 170.20,188.08 170.80,188.36 171.40,188.65 172.00,188.95 172.60,189.26 173.20,189.59 173.80,189.92 174.40,190.27 175.00,190.62 175.60,190.99 176.20,191.36 176.80,191.74 177.40,192.12 178.00,192.52 178.60,192.91 179.20,193.31 179.80,193.72 180.40,194.12 181.00,194.53 181.60,194.94 182.20,195.35 182.80,195.76 183.40,196.17 184.00,196.58 184.60,196.99 185.20,197.39 185.80,197.79 186.40,198.18 187.00,198.57 187.60,198.95 188.20,199.33 188.80,199.70 189.40,200.06 190.00,200.41 190.60,200.75 191.20,201.08 191.80,201.40 192.40,201.71 193.00,202.00 193.60,202.28 194.20,202.55 194.80,202.80 195.40,203.04 196.00,203.26 196.60,203.46 197.20,203.65 197.80,203.81 198.40,203.96 199.00,204.09 199.60,204.20 200.20,204.28 200.80,204.34 201.40,204.38 202.00,204.40 202.60,204.39 203.20,204.37 203.80,204.34 204.40,204.29 205.00,204.23 205.60,204.15 206.20,204.06 206.80,203.96 207.40,203.85 208.00,203.72 208.60,203.59 209.20,203.44 209.80,203.29 210.40,203.12 211.00,202.94 211.60,202.76 212.20,202.57 212.80,202.37 213.40,202.16 214.00,201.95 214.60,201.73 215.20,201.51 215.80,201.28 216.40,201.04 217.00,200.80 217.60,200.56 218.20,200.31 218.80,200.06 219.40,199.81 220.00,199.56 220.60,199.30 221.20,199.04 221.80,198.79 222.40,198.53 223.00,198.27 223.60,198.01 224.20,197.76 224.80,197.50 225.40,197.25 226.00,197.00 226.60,196.76 227.20,196.52 227.80,196.28 228.40,196.05 229.00,195.82 229.60,195.59 230.20,195.38 230.80,195.17 231.40,194.96 232.00,194.77 232.60,194.58 233.20,194.40 233.80,194.22 234.40,194.06 235.00,193.91 235.60,193.77 236.20,193.63 236.80,193.51 237.40,193.40 238.00,193.31 238.60,193.22 239.20,193.15 239.80,193.09 240.40,193.05 241.00,193.02 241.60,193.00 242.20,193.00 242.80,193.00 243.40,193.01 244.00,193.02 244.60,193.04 245.20,193.06 245.80,193.08 246.40,193.11 247.00,193.14 247.60,193.17 248.20,193.21 248.80,193.26 249.40,193.30 250.00,193.35 250.60,193.41 251.20,193.47 251.80,193.54 252.40,193.60 253.00,193.68 253.60,193.76 254.20,193.84 254.80,193.93 255.40,194.02 256.00,194.11 256.60,194.22 257.20,194.32 257.80,194.43 258.40,194.55 259.00,194.67 259.60,194.79 260.20,194.92 260.80,195.06 261.40,195.20 262.00,195.35 262.60,195.50 263.20,195.65 263.80,195.81 264.40,195.98 265.00,196.15 265.50,196.30" stroke="#2b2bff" stroke-width="1.3" fill="none" stroke-dasharray="3.6 2.4"/>
<path d="M16.00,194.46 16.60,194.65 17.20,194.84 17.80,195.03 18.40,195.21 19.00,195.40 19.60,195.58 20.20,195.76 20.80,195.94 21.40,196.11 22.00,196.29 22.60,196.46 23.20,196.63 23.80,196.79 24.40,196.96 25.00,197.12 25.60,197.27 26.20,197.42 26.80,197.57 27.40,197.72 28.00,197.86 28.60,198.00 29.20,198.13 29.80,198.26 30.40,198.38 31.00,198.51 31.60,198.64 32.20,198.77 32.80,198.90 33.40,199.03 34.00,199.17 34.60,199.30 35.20,199.43 35.80,199.57 36.40,199.70 37.00,199.83 37.60,199.96 38.20,200.09 38.80,200.22 39.40,200.34 40.00,200.47 40.60,200.59 41.20,200.71 41.80,200.82 42.40,200.93 43.00,201.04 43.60,201.15 44.20,201.25 44.80,201.35 45.40,201.44 46.00,201.53 46.60,201.61 47.20,201.68 47.80,201.76 48.40,201.82 49.00,201.88 49.60,201.93 50.20,201.98 50.80,202.02 51.40,202.05 52.00,202.07 52.60,202.09 53.20,202.10 53.80,202.10 54.40,202.07 55.00,202.01 55.60,201.92 56.20,201.82 56.80,201.68 57.40,201.53 58.00,201.36 58.60,201.17 59.20,200.96 59.80,200.74 60.40,200.50 61.00,200.26 61.60,200.00 62.20,199.73 62.80,199.46 63.40,199.19 64.00,198.91 64.60,198.63 65.20,198.34 65.80,198.07 66.40,197.79 67.00,197.52 67.60,197.26 68.20,197.00 68.80,196.74 69.40,196.47 70.00,196.18 70.60,195.88 71.20,195.57 71.80,195.25 72.40,194.93 73.00,194.60 73.60,194.28 74.20,193.96 74.80,193.64 75.40,193.33 76.00,193.02 76.60,192.73 77.20,192.45 77.80,192.17 78.40,191.86 79.00,191.54 79.60,191.21 80.20,190.88 80.80,190.55 81.40,190.22 82.00,189.91 82.60,189.61 83.20,189.34 83.80,189.09 84.40,188.87 85.00,188.69 85.60,188.55 86.20,188.45 86.80,188.40 87.40,188.41 88.00,188.44 88.60,188.51 89.20,188.61 89.80,188.74 90.40,188.90 91.00,189.08 91.60,189.29 92.20,189.52 92.80,189.77 93.40,190.05 94.00,190.35 94.60,190.67 95.20,191.01 95.80,191.37 96.40,191.75 97.00,192.14 97.60,192.54 98.20,192.96 98.80,193.39 99.40,193.84 100.00,194.29 100.60,194.76 101.20,195.23 101.80,195.71 102.40,196.20 103.00,196.69 103.60,197.18 104.20,197.68 104.80,198.18 105.40,198.68 106.00,199.18 106.60,199.69 107.20,200.18 107.80,200.68 108.40,201.17 109.00,201.65 109.60,202.13 110.20,202.60 110.80,203.06 111.40,203.51 112.00,203.95 112.60,204.38 113.20,204.79 113.80,205.20 114.40,205.58 115.00,205.95 115.60,206.30 116.20,206.64 116.80,206.95 117.40,207.24 118.00,207.51 118.60,207.76 119.20,207.99 119.80,208.19 120.40,208.36 121.00,208.51 121.60,208.62 122.20,208.71 122.80,208.77 123.40,208.80 124.00,208.79 124.60,208.75 125.20,208.66 125.80,208.54 126.40,208.39 127.00,208.20 127.60,207.98 128.20,207.73 128.80,207.46 129.40,207.15 130.00,206.81 130.60,206.46 131.20,206.07 131.80,205.67 132.40,205.24 133.00,204.80 133.60,204.33 134.20,203.85 134.80,203.36 135.40,202.85 136.00,202.32 136.60,201.79 137.20,201.24 137.80,200.69 138.40,200.13 139.00,199.56 139.60,198.99 140.20,198.42 140.80,197.84 141.40,197.27 142.00,196.69 142.60,196.12 143.20,195.55 143.80,194.98 144.40,194.42 145.00,193.87 145.60,193.33 146.20,192.80 146.80,192.28 147.40,191.78 148.00,191.28 148.60,190.81 149.20,190.35 149.80,189.91 150.40,189.49 151.00,189.10 151.60,188.72 152.20,188.37 152.80,188.05 153.40,187.75 154.00,187.48 154.60,187.24 155.20,187.03 155.80,186.85 156.40,186.71 157.00,186.61 157.60,186.53 158.20,186.50 158.80,186.51 159.40,186.54 160.00,186.59 160.60,186.67 161.20,186.77 161.80,186.89 162.40,187.03 163.00,187.20 163.60,187.38 164.20,187.59 164.80,187.81 165.40,188.04 166.00,188.30 166.60,188.57 167.20,188.85 167.80,189.15 168.40,189.46 169.00,189.78 169.60,190.12 170.20,190.46 170.80,190.82 171.40,191.18 172.00,191.55 172.60,191.93 173.20,192.32 173.80,192.71 174.40,193.11 175.00,193.51 175.60,193.91 176.20,194.32 176.80,194.73 177.40,195.13 178.00,195.54 178.60,195.95 179.20,196.36 179.80,196.76 180.40,197.16 181.00,197.55 181.60,197.94 182.20,198.33 182.80,198.71 183.40,199.08 184.00,199.44 184.60,199.79 185.20,200.14 185.80,200.47 186.40,200.79 187.00,201.10 187.60,201.40 188.20,201.68 188.80,201.95 189.40,202.20 190.00,202.43 190.60,202.65 191.20,202.85 191.80,203.03 192.40,203.19 193.00,203.33 193.60,203.45 194.20,203.55 194.80,203.62 195.40,203.67 196.00,203.70 196.60,203.70 197.20,203.68 197.80,203.66 198.40,203.62 199.00,203.56 199.60,203.50 200.20,203.42 200.80,203.33 201.40,203.24 202.00,203.13 202.60,203.01 203.20,202.88 203.80,202.74 204.40,202.60 205.00,202.44 205.60,202.28 206.20,202.11 206.80,201.93 207.40,201.75 208.00,201.56 208.60,201.36 209.20,201.16 209.80,200.96 210.40,200.75 211.00,200.54 211.60,200.32 212.20,200.10 212.80,199.88 213.40,199.65 214.00,199.42 214.60,199.20 215.20,198.97 215.80,198.74 216.40,198.51 217.00,198.28 217.60,198.05 218.20,197.82 218.80,197.60 219.40,197.37 220.00,197.15 220.60,196.94 221.20,196.72 221.80,196.51 222.40,196.30 223.00,196.10 223.60,195.91 224.20,195.71 224.80,195.53 225.40,195.35 226.00,195.18 226.60,195.01 227.20,194.86 227.80,194.71 228.40,194.57 229.00,194.43 229.60,194.31 230.20,194.20 230.80,194.10 231.40,194.01 232.00,193.92 232.60,193.86 233.20,193.80 233.80,193.75 234.40,193.72 235.00,193.70 235.60,193.70 236.20,193.70 236.80,193.70 237.40,193.71 238.00,193.72 238.60,193.72 239.20,193.74 239.80,193.75 240.40,193.76 241.00,193.78 241.60,193.80 242.20,193.82 242.80,193.85 243.40,193.87 244.00,193.90 244.60,193.94 245.20,193.97 245.80,194.01 246.40,194.05 247.00,194.09 247.60,194.14 248.20,194.19 248.80,194.24 249.40,194.30 250.00,194.36 250.60,194.42 251.20,194.48 251.80,194.55 252.40,194.63 253.00,194.70 253.60,194.78 254.20,194.86 254.80,194.95 255.40,195.04 256.00,195.14 256.60,195.24 257.20,195.34 257.80,195.44 258.40,195.56 259.00,195.67 259.60,195.79 260.20,195.91 260.80,196.04 261.40,196.17 262.00,196.31 262.60,196.45 263.20,196.60 263.80,196.75 264.40,196.90 265.00,197.06 265.50,197.20" stroke="#ee1c24" stroke-width="1.2" fill="none" stroke-linejoin="round"/>
<path d="M15.5,182.8 V211.1 H265.5" stroke="#888888" stroke-width="1" fill="none"/>
<path d="M15.5,186.8 H18.5" stroke="#888888" stroke-width="0.8"/>
<text x="14.20" y="189.60" font-family="&quot;Liberation Sans&quot;, sans-serif" font-size="7.9" text-anchor="end" fill="#231f20" stroke="#231f20" stroke-width="0.22">5</text>
<path d="M15.5,197.2 H18.5" stroke="#888888" stroke-width="0.8"/>
<text x="14.20" y="200.00" font-family="&quot;Liberation Sans&quot;, sans-serif" font-size="7.9" text-anchor="end" fill="#231f20" stroke="#231f20" stroke-width="0.22">0</text>
<path d="M15.5,207.8 H18.5" stroke="#888888" stroke-width="0.8"/>
<text x="14.20" y="210.60" font-family="&quot;Liberation Sans&quot;, sans-serif" font-size="7.9" text-anchor="end" fill="#231f20" stroke="#231f20" stroke-width="0.22">−5</text>
<text x="15.80" y="180.4" font-family="&quot;Liberation Sans&quot;, sans-serif" font-size="7.4" text-anchor="start" fill="#231f20" stroke="#231f20" stroke-width="0.22">x</text>
<text x="22.40" y="180.4" font-family="&quot;Liberation Sans&quot;, sans-serif" font-size="7.6" text-anchor="start" fill="#231f20" stroke="#231f20" stroke-width="0.22" textLength="7.7" lengthAdjust="spacingAndGlyphs">10</text>
<text x="31.00" y="175.90" font-family="&quot;Liberation Sans&quot;, sans-serif" font-size="5.0" text-anchor="start" fill="#231f20" stroke="#231f20" stroke-width="0.22">4</text>
<text x="121.5" y="176.6" font-family="&quot;Liberation Sans&quot;, sans-serif" font-size="9.2" text-anchor="start" fill="#231f20" stroke="#231f20" stroke-width="0.22" textLength="30.8" lengthAdjust="spacingAndGlyphs">Tc=40 s</text>
<rect x="15.5" y="236.0" width="250.00" height="27.00" fill="#f3f3f3"/>
<path d="M16.00,250.81 16.60,250.71 17.20,250.61 17.80,250.51 18.40,250.42 19.00,250.32 19.60,250.23 20.20,250.15 20.80,250.06 21.40,249.98 22.00,249.91 22.60,249.83 23.20,249.76 23.80,249.70 24.40,249.63 25.00,249.57 25.60,249.52 26.20,249.47 26.80,249.42 27.40,249.38 28.00,249.34 28.60,249.31 29.20,249.28 29.80,249.25 30.40,249.23 31.00,249.22 31.60,249.21 32.20,249.20 32.80,249.20 33.40,249.21 34.00,249.22 34.60,249.25 35.20,249.28 35.80,249.32 36.40,249.36 37.00,249.41 37.60,249.47 38.20,249.53 38.80,249.59 39.40,249.67 40.00,249.74 40.60,249.82 41.20,249.91 41.80,250.00 42.40,250.09 43.00,250.18 43.60,250.28 44.20,250.38 44.80,250.49 45.40,250.59 46.00,250.70 46.60,250.80 47.20,250.91 47.80,251.02 48.40,251.13 49.00,251.24 49.60,251.35 50.20,251.46 50.80,251.57 51.40,251.67 52.00,251.78 52.60,251.88 53.20,251.98 53.80,252.08 54.40,252.18 55.00,252.27 55.60,252.36 56.20,252.45 56.80,252.53 57.40,252.61 58.00,252.68 58.60,252.75 59.20,252.81 59.80,252.87 60.40,252.92 61.00,252.97 61.60,253.01 62.20,253.04 62.80,253.07 63.40,253.09 64.00,253.10 64.60,253.10 65.20,253.08 65.80,253.05 66.40,252.98 67.00,252.90 67.60,252.80 68.20,252.68 68.80,252.54 69.40,252.38 70.00,252.21 70.60,252.02 71.20,251.82 71.80,251.60 72.40,251.37 73.00,251.13 73.60,250.87 74.20,250.61 74.80,250.34 75.40,250.06 76.00,249.77 76.60,249.47 77.20,249.17 77.80,248.87 78.40,248.56 79.00,248.25 79.60,247.94 80.20,247.62 80.80,247.31 81.40,247.00 82.00,246.69 82.60,246.38 83.20,246.08 83.80,245.78 84.40,245.48 85.00,245.20 85.60,244.92 86.20,244.65 86.80,244.39 87.40,244.13 88.00,243.89 88.60,243.66 89.20,243.45 89.80,243.25 90.40,243.06 91.00,242.89 91.60,242.74 92.20,242.60 92.80,242.48 93.40,242.38 94.00,242.30 94.60,242.25 95.20,242.21 95.80,242.20 96.40,242.22 97.00,242.29 97.60,242.40 98.20,242.56 98.80,242.75 99.40,242.98 100.00,243.24 100.60,243.54 101.20,243.87 101.80,244.23 102.40,244.62 103.00,245.04 103.60,245.47 104.20,245.94 104.80,246.42 105.40,246.92 106.00,247.44 106.60,247.97 107.20,248.51 107.80,249.07 108.40,249.63 109.00,250.21 109.60,250.78 110.20,251.36 110.80,251.95 111.40,252.53 112.00,253.11 112.60,253.69 113.20,254.26 113.80,254.82 114.40,255.37 115.00,255.91 115.60,256.44 116.20,256.95 116.80,257.44 117.40,257.92 118.00,258.37 118.60,258.81 119.20,259.21 119.80,259.59 120.40,259.94 121.00,260.26 121.60,260.55 122.20,260.80 122.80,261.02 123.40,261.20 124.00,261.34 124.60,261.44 125.20,261.49 125.80,261.50 126.40,261.45 127.00,261.36 127.60,261.22 128.20,261.03 128.80,260.80 129.40,260.53 130.00,260.22 130.60,259.87 131.20,259.48 131.80,259.07 132.40,258.62 133.00,258.14 133.60,257.64 134.20,257.11 134.80,256.56 135.40,255.98 136.00,255.39 136.60,254.79 137.20,254.17 137.80,253.54 138.40,252.90 139.00,252.25 139.60,251.59 140.20,250.93 140.80,250.28 141.40,249.62 142.00,248.96 142.60,248.31 143.20,247.67 143.80,247.04 144.40,246.41 145.00,245.81 145.60,245.21 146.20,244.64 146.80,244.08 147.40,243.55 148.00,243.04 148.60,242.56 149.20,242.11 149.80,241.68 150.40,241.29 151.00,240.94 151.60,240.62 152.20,240.34 152.80,240.10 153.40,239.91 154.00,239.76 154.60,239.66 155.20,239.61 155.80,239.60 156.40,239.64 157.00,239.72 157.60,239.83 158.20,239.98 158.80,240.15 159.40,240.36 160.00,240.60 160.60,240.86 161.20,241.15 161.80,241.47 162.40,241.80 163.00,242.16 163.60,242.54 164.20,242.93 164.80,243.34 165.40,243.77 166.00,244.20 166.60,244.65 167.20,245.11 167.80,245.58 168.40,246.05 169.00,246.53 169.60,247.01 170.20,247.49 170.80,247.97 171.40,248.45 172.00,248.93 172.60,249.40 173.20,249.87 173.80,250.32 174.40,250.77 175.00,251.21 175.60,251.63 176.20,252.04 176.80,252.43 177.40,252.80 178.00,253.16 178.60,253.49 179.20,253.80 179.80,254.08 180.40,254.34 181.00,254.58 181.60,254.78 182.20,254.95 182.80,255.09 183.40,255.20 184.00,255.27 184.60,255.30 185.20,255.30 185.80,255.27 186.40,255.23 187.00,255.17 187.60,255.10 188.20,255.01 188.80,254.90 189.40,254.78 190.00,254.65 190.60,254.50 191.20,254.34 191.80,254.18 192.40,254.00 193.00,253.81 193.60,253.62 194.20,253.42 194.80,253.22 195.40,253.01 196.00,252.79 196.60,252.57 197.20,252.35 197.80,252.13 198.40,251.91 199.00,251.69 199.60,251.46 200.20,251.25 200.80,251.03 201.40,250.82 202.00,250.61 202.60,250.41 203.20,250.22 203.80,250.03 204.40,249.85 205.00,249.68 205.60,249.52 206.20,249.38 206.80,249.24 207.40,249.12 208.00,249.01 208.60,248.92 209.20,248.84 209.80,248.78 210.40,248.73 211.00,248.71 211.60,248.70 212.20,248.71 212.80,248.72 213.40,248.75 214.00,248.78 214.60,248.82 215.20,248.87 215.80,248.92 216.40,248.98 217.00,249.04 217.60,249.11 218.20,249.18 218.80,249.26 219.40,249.34 220.00,249.43 220.60,249.51 221.20,249.60 221.80,249.68 222.40,249.77 223.00,249.86 223.60,249.95 224.20,250.03 224.80,250.12 225.40,250.20 226.00,250.28 226.60,250.35 227.20,250.42 227.80,250.49 228.40,250.55 229.00,250.61 229.60,250.66 230.20,250.70 230.80,250.74 231.40,250.77 232.00,250.79 232.60,250.80 233.20,250.80 233.80,250.79 234.40,250.78 235.00,250.76 235.60,250.73 236.20,250.70 236.80,250.66 237.40,250.62 238.00,250.57 238.60,250.52 239.20,250.46 239.80,250.40 240.40,250.33 241.00,250.26 241.60,250.19 242.20,250.11 242.80,250.04 243.40,249.96 244.00,249.88 244.60,249.79 245.20,249.71 245.80,249.63 246.40,249.54 247.00,249.46 247.60,249.37 248.20,249.29 248.80,249.21 249.40,249.13 250.00,249.05 250.60,248.97 251.20,248.90 251.80,248.83 252.40,248.76 253.00,248.69 253.60,248.63 254.20,248.57 254.80,248.52 255.40,248.47 256.00,248.43 256.60,248.39 257.20,248.36 257.80,248.34 258.40,248.32 259.00,248.31 259.60,248.30 260.20,248.30 260.80,248.31 261.40,248.32 262.00,248.34 262.60,248.36 263.20,248.38 263.80,248.41 264.40,248.44 265.00,248.47 265.50,248.50" stroke="#231f20" stroke-width="1.3" fill="none" stroke-linejoin="round"/>
<path d="M16.00,250.15 16.60,250.09 17.20,250.03 17.80,249.98 18.40,249.92 19.00,249.87 19.60,249.82 20.20,249.77 20.80,249.73 21.40,249.69 22.00,249.64 22.60,249.61 23.20,249.57 23.80,249.53 24.40,249.50 25.00,249.47 25.60,249.44 26.20,249.42 26.80,249.40 27.40,249.38 28.00,249.36 28.60,249.34 29.20,249.33 29.80,249.32 30.40,249.31 31.00,249.30 31.60,249.30 32.20,249.30 32.80,249.31 33.40,249.32 34.00,249.33 34.60,249.35 35.20,249.38 35.80,249.41 36.40,249.45 37.00,249.49 37.60,249.54 38.20,249.59 38.80,249.64 39.40,249.70 40.00,249.76 40.60,249.83 41.20,249.89 41.80,249.96 42.40,250.04 43.00,250.12 43.60,250.19 44.20,250.28 44.80,250.36 45.40,250.44 46.00,250.53 46.60,250.62 47.20,250.71 47.80,250.80 48.40,250.89 49.00,250.98 49.60,251.08 50.20,251.17 50.80,251.26 51.40,251.35 52.00,251.45 52.60,251.54 53.20,251.63 53.80,251.72 54.40,251.81 55.00,251.90 55.60,251.98 56.20,252.07 56.80,252.15 57.40,252.23 58.00,252.31 58.60,252.39 59.20,252.46 59.80,252.53 60.40,252.60 61.00,252.66 61.60,252.72 62.20,252.78 62.80,252.83 63.40,252.88 64.00,252.92 64.60,252.96 65.20,253.00 65.80,253.03 66.40,253.05 67.00,253.07 67.60,253.09 68.20,253.10 68.80,253.10 69.40,253.09 70.00,253.05 70.60,253.00 71.20,252.92 71.80,252.83 72.40,252.71 73.00,252.58 73.60,252.43 74.20,252.27 74.80,252.09 75.40,251.89 76.00,251.68 76.60,251.46 77.20,251.23 77.80,250.99 78.40,250.73 79.00,250.47 79.60,250.20 80.20,249.92 80.80,249.64 81.40,249.35 82.00,249.06 82.60,248.76 83.20,248.46 83.80,248.15 84.40,247.85 85.00,247.55 85.60,247.24 86.20,246.94 86.80,246.64 87.40,246.35 88.00,246.06 88.60,245.77 89.20,245.49 89.80,245.22 90.40,244.95 91.00,244.70 91.60,244.45 92.20,244.21 92.80,243.99 93.40,243.78 94.00,243.58 94.60,243.39 95.20,243.22 95.80,243.07 96.40,242.93 97.00,242.81 97.60,242.71 98.20,242.62 98.80,242.56 99.40,242.52 100.00,242.50 100.60,242.51 101.20,242.56 101.80,242.65 102.40,242.78 103.00,242.94 103.60,243.14 104.20,243.38 104.80,243.65 105.40,243.94 106.00,244.27 106.60,244.62 107.20,245.00 107.80,245.41 108.40,245.83 109.00,246.28 109.60,246.74 110.20,247.22 110.80,247.72 111.40,248.23 112.00,248.76 112.60,249.29 113.20,249.83 113.80,250.39 114.40,250.94 115.00,251.50 115.60,252.07 116.20,252.63 116.80,253.19 117.40,253.75 118.00,254.31 118.60,254.86 119.20,255.40 119.80,255.93 120.40,256.45 121.00,256.96 121.60,257.46 122.20,257.94 122.80,258.40 123.40,258.84 124.00,259.26 124.60,259.66 125.20,260.04 125.80,260.39 126.40,260.71 127.00,261.00 127.60,261.26 128.20,261.49 128.80,261.69 129.40,261.85 130.00,261.97 130.60,262.05 131.20,262.09 131.80,262.09 132.40,262.03 133.00,261.91 133.60,261.73 134.20,261.50 134.80,261.21 135.40,260.88 136.00,260.50 136.60,260.08 137.20,259.62 137.80,259.12 138.40,258.58 139.00,258.02 139.60,257.42 140.20,256.80 140.80,256.16 141.40,255.49 142.00,254.81 142.60,254.11 143.20,253.40 143.80,252.68 144.40,251.95 145.00,251.22 145.60,250.48 146.20,249.75 146.80,249.02 147.40,248.30 148.00,247.59 148.60,246.89 149.20,246.21 149.80,245.54 150.40,244.90 151.00,244.28 151.60,243.68 152.20,243.12 152.80,242.58 153.40,242.08 154.00,241.62 154.60,241.20 155.20,240.82 155.80,240.49 156.40,240.20 157.00,239.97 157.60,239.79 158.20,239.67 158.80,239.61 159.40,239.60 160.00,239.64 160.60,239.71 161.20,239.81 161.80,239.95 162.40,240.11 163.00,240.30 163.60,240.52 164.20,240.76 164.80,241.03 165.40,241.32 166.00,241.63 166.60,241.97 167.20,242.32 167.80,242.69 168.40,243.07 169.00,243.47 169.60,243.88 170.20,244.30 170.80,244.73 171.40,245.17 172.00,245.62 172.60,246.07 173.20,246.53 173.80,246.99 174.40,247.45 175.00,247.91 175.60,248.37 176.20,248.83 176.80,249.28 177.40,249.73 178.00,250.17 178.60,250.60 179.20,251.02 179.80,251.43 180.40,251.83 181.00,252.21 181.60,252.58 182.20,252.93 182.80,253.27 183.40,253.58 184.00,253.87 184.60,254.14 185.20,254.38 185.80,254.60 186.40,254.79 187.00,254.95 187.60,255.09 188.20,255.19 188.80,255.26 189.40,255.30 190.00,255.30 190.60,255.29 191.20,255.26 191.80,255.22 192.40,255.17 193.00,255.11 193.60,255.04 194.20,254.96 194.80,254.87 195.40,254.77 196.00,254.66 196.60,254.54 197.20,254.42 197.80,254.28 198.40,254.15 199.00,254.00 199.60,253.85 200.20,253.69 200.80,253.53 201.40,253.36 202.00,253.19 202.60,253.02 203.20,252.84 203.80,252.66 204.40,252.48 205.00,252.30 205.60,252.11 206.20,251.93 206.80,251.74 207.40,251.56 208.00,251.37 208.60,251.19 209.20,251.01 209.80,250.83 210.40,250.65 211.00,250.48 211.60,250.31 212.20,250.14 212.80,249.98 213.40,249.83 214.00,249.68 214.60,249.53 215.20,249.39 215.80,249.26 216.40,249.14 217.00,249.02 217.60,248.91 218.20,248.82 218.80,248.73 219.40,248.65 220.00,248.58 220.60,248.52 221.20,248.47 221.80,248.44 222.40,248.41 223.00,248.40 223.60,248.40 224.20,248.40 224.80,248.40 225.40,248.40 226.00,248.41 226.60,248.41 227.20,248.42 227.80,248.42 228.40,248.43 229.00,248.43 229.60,248.44 230.20,248.44 230.80,248.45 231.40,248.46 232.00,248.47 232.60,248.48 233.20,248.48 233.80,248.49 234.40,248.50 235.00,248.51 235.60,248.52 236.20,248.53 236.80,248.54 237.40,248.55 238.00,248.56 238.60,248.57 239.20,248.59 239.80,248.60 240.40,248.61 241.00,248.62 241.60,248.63 242.20,248.65 242.80,248.66 243.40,248.68 244.00,248.70 244.60,248.71 245.20,248.73 245.80,248.75 246.40,248.77 247.00,248.79 247.60,248.82 248.20,248.84 248.80,248.86 249.40,248.89 250.00,248.91 250.60,248.94 251.20,248.97 251.80,249.00 252.40,249.02 253.00,249.05 253.60,249.08 254.20,249.11 254.80,249.15 255.40,249.18 256.00,249.21 256.60,249.24 257.20,249.28 257.80,249.31 258.40,249.35 259.00,249.38 259.60,249.42 260.20,249.45 260.80,249.49 261.40,249.53 262.00,249.57 262.60,249.61 263.20,249.65 263.80,249.69 264.40,249.73 265.00,249.77 265.50,249.80" stroke="#2b2bff" stroke-width="1.3" fill="none" stroke-dasharray="3.6 2.4"/>
<path d="M16.00,249.66 16.60,249.61 17.20,249.57 17.80,249.53 18.40,249.49 19.00,249.46 19.60,249.43 20.20,249.40 20.80,249.37 21.40,249.35 22.00,249.33 22.60,249.31 23.20,249.29 23.80,249.27 24.40,249.26 25.00,249.25 25.60,249.24 26.20,249.23 26.80,249.22 27.40,249.21 28.00,249.21 28.60,249.21 29.20,249.20 29.80,249.20 30.40,249.20 31.00,249.20 31.60,249.20 32.20,249.22 32.80,249.24 33.40,249.26 34.00,249.30 34.60,249.34 35.20,249.39 35.80,249.45 36.40,249.51 37.00,249.58 37.60,249.65 38.20,249.73 38.80,249.81 39.40,249.90 40.00,249.99 40.60,250.08 41.20,250.18 41.80,250.29 42.40,250.39 43.00,250.50 43.60,250.61 44.20,250.73 44.80,250.84 45.40,250.96 46.00,251.08 46.60,251.20 47.20,251.32 47.80,251.44 48.40,251.56 49.00,251.68 49.60,251.80 50.20,251.92 50.80,252.04 51.40,252.16 52.00,252.27 52.60,252.39 53.20,252.50 53.80,252.61 54.40,252.71 55.00,252.82 55.60,252.92 56.20,253.01 56.80,253.10 57.40,253.19 58.00,253.27 58.60,253.35 59.20,253.42 59.80,253.49 60.40,253.55 61.00,253.61 61.60,253.66 62.20,253.70 62.80,253.74 63.40,253.76 64.00,253.78 64.60,253.80 65.20,253.80 65.80,253.79 66.40,253.74 67.00,253.68 67.60,253.58 68.20,253.46 68.80,253.32 69.40,253.16 70.00,252.98 70.60,252.78 71.20,252.55 71.80,252.32 72.40,252.06 73.00,251.79 73.60,251.51 74.20,251.21 74.80,250.91 75.40,250.59 76.00,250.26 76.60,249.93 77.20,249.59 77.80,249.24 78.40,248.89 79.00,248.54 79.60,248.18 80.20,247.82 80.80,247.46 81.40,247.11 82.00,246.75 82.60,246.40 83.20,246.05 83.80,245.71 84.40,245.38 85.00,245.06 85.60,244.74 86.20,244.44 86.80,244.14 87.40,243.86 88.00,243.59 88.60,243.34 89.20,243.11 89.80,242.89 90.40,242.69 91.00,242.51 91.60,242.35 92.20,242.21 92.80,242.10 93.40,242.01 94.00,241.95 94.60,241.91 95.20,241.90 95.80,241.93 96.40,242.01 97.00,242.13 97.60,242.30 98.20,242.50 98.80,242.74 99.40,243.02 100.00,243.34 100.60,243.68 101.20,244.06 101.80,244.47 102.40,244.90 103.00,245.35 103.60,245.83 104.20,246.33 104.80,246.85 105.40,247.39 106.00,247.94 106.60,248.50 107.20,249.08 107.80,249.66 108.40,250.25 109.00,250.85 109.60,251.45 110.20,252.05 110.80,252.65 111.40,253.25 112.00,253.84 112.60,254.43 113.20,255.01 113.80,255.57 114.40,256.13 115.00,256.67 115.60,257.20 116.20,257.70 116.80,258.19 117.40,258.65 118.00,259.09 118.60,259.51 119.20,259.89 119.80,260.25 120.40,260.58 121.00,260.87 121.60,261.12 122.20,261.34 122.80,261.52 123.40,261.65 124.00,261.75 124.60,261.79 125.20,261.79 125.80,261.73 126.40,261.61 127.00,261.44 127.60,261.21 128.20,260.93 128.80,260.60 129.40,260.23 130.00,259.82 130.60,259.37 131.20,258.88 131.80,258.35 132.40,257.80 133.00,257.22 133.60,256.61 134.20,255.97 134.80,255.32 135.40,254.65 136.00,253.96 136.60,253.26 137.20,252.56 137.80,251.84 138.40,251.12 139.00,250.40 139.60,249.68 140.20,248.96 140.80,248.25 141.40,247.55 142.00,246.86 142.60,246.19 143.20,245.53 143.80,244.90 144.40,244.28 145.00,243.70 145.60,243.14 146.20,242.61 146.80,242.11 147.40,241.65 148.00,241.23 148.60,240.86 149.20,240.52 149.80,240.23 150.40,240.00 151.00,239.81 151.60,239.68 152.20,239.61 152.80,239.60 153.40,239.63 154.00,239.69 154.60,239.79 155.20,239.91 155.80,240.07 156.40,240.25 157.00,240.46 157.60,240.70 158.20,240.96 158.80,241.24 159.40,241.54 160.00,241.87 160.60,242.21 161.20,242.57 161.80,242.94 162.40,243.33 163.00,243.73 163.60,244.14 164.20,244.56 164.80,244.99 165.40,245.43 166.00,245.87 166.60,246.32 167.20,246.77 167.80,247.22 168.40,247.68 169.00,248.13 169.60,248.58 170.20,249.02 170.80,249.46 171.40,249.90 172.00,250.32 172.60,250.74 173.20,251.14 173.80,251.53 174.40,251.91 175.00,252.28 175.60,252.62 176.20,252.95 176.80,253.26 177.40,253.55 178.00,253.82 178.60,254.06 179.20,254.28 179.80,254.47 180.40,254.64 181.00,254.77 181.60,254.88 182.20,254.95 182.80,254.99 183.40,255.00 184.00,254.98 184.60,254.95 185.20,254.91 185.80,254.84 186.40,254.77 187.00,254.67 187.60,254.57 188.20,254.45 188.80,254.33 189.40,254.19 190.00,254.04 190.60,253.88 191.20,253.72 191.80,253.54 192.40,253.36 193.00,253.17 193.60,252.98 194.20,252.78 194.80,252.58 195.40,252.38 196.00,252.17 196.60,251.96 197.20,251.75 197.80,251.54 198.40,251.33 199.00,251.13 199.60,250.92 200.20,250.72 200.80,250.52 201.40,250.32 202.00,250.13 202.60,249.95 203.20,249.77 203.80,249.60 204.40,249.44 205.00,249.28 205.60,249.14 206.20,249.01 206.80,248.89 207.40,248.78 208.00,248.68 208.60,248.59 209.20,248.52 209.80,248.47 210.40,248.43 211.00,248.41 211.60,248.40 212.20,248.41 212.80,248.42 213.40,248.45 214.00,248.48 214.60,248.52 215.20,248.57 215.80,248.62 216.40,248.68 217.00,248.74 217.60,248.81 218.20,248.88 218.80,248.96 219.40,249.04 220.00,249.13 220.60,249.21 221.20,249.30 221.80,249.38 222.40,249.47 223.00,249.56 223.60,249.65 224.20,249.73 224.80,249.82 225.40,249.90 226.00,249.98 226.60,250.05 227.20,250.12 227.80,250.19 228.40,250.25 229.00,250.31 229.60,250.36 230.20,250.40 230.80,250.44 231.40,250.47 232.00,250.49 232.60,250.50 233.20,250.50 233.80,250.50 234.40,250.49 235.00,250.47 235.60,250.45 236.20,250.43 236.80,250.40 237.40,250.37 238.00,250.34 238.60,250.30 239.20,250.26 239.80,250.21 240.40,250.17 241.00,250.12 241.60,250.07 242.20,250.01 242.80,249.96 243.40,249.90 244.00,249.84 244.60,249.79 245.20,249.73 245.80,249.67 246.40,249.61 247.00,249.55 247.60,249.49 248.20,249.44 248.80,249.38 249.40,249.32 250.00,249.27 250.60,249.22 251.20,249.17 251.80,249.12 252.40,249.07 253.00,249.03 253.60,248.99 254.20,248.95 254.80,248.92 255.40,248.89 256.00,248.86 256.60,248.84 257.20,248.82 257.80,248.81 258.40,248.80 259.00,248.80 259.60,248.81 260.20,248.82 260.80,248.84 261.40,248.87 262.00,248.91 262.60,248.95 263.20,249.00 263.80,249.05 264.40,249.10 265.00,249.16 265.50,249.20" stroke="#ee1c24" stroke-width="1.2" fill="none" stroke-linejoin="round"/>
<path d="M15.5,236.0 V264.2 H265.5" stroke="#888888" stroke-width="1" fill="none"/>
<path d="M15.5,236.4 H18.5" stroke="#888888" stroke-width="0.8"/>
<text x="14.20" y="239.20" font-family="&quot;Liberation Sans&quot;, sans-serif" font-size="7.9" text-anchor="end" fill="#231f20" stroke="#231f20" stroke-width="0.22">1</text>
<path d="M15.5,250.3 H18.5" stroke="#888888" stroke-width="0.8"/>
<text x="14.20" y="253.10" font-family="&quot;Liberation Sans&quot;, sans-serif" font-size="7.9" text-anchor="end" fill="#231f20" stroke="#231f20" stroke-width="0.22">0</text>
<path d="M15.5,264.4 H18.5" stroke="#888888" stroke-width="0.8"/>
<text x="14.20" y="267.20" font-family="&quot;Liberation Sans&quot;, sans-serif" font-size="7.9" text-anchor="end" fill="#231f20" stroke="#231f20" stroke-width="0.22">−1</text>
<text x="15.80" y="233.6" font-family="&quot;Liberation Sans&quot;, sans-serif" font-size="7.4" text-anchor="start" fill="#231f20" stroke="#231f20" stroke-width="0.22">x</text>
<text x="22.40" y="233.6" font-family="&quot;Liberation Sans&quot;, sans-serif" font-size="7.6" text-anchor="start" fill="#231f20" stroke="#231f20" stroke-width="0.22" textLength="7.7" lengthAdjust="spacingAndGlyphs">10</text>
<text x="31.00" y="229.10" font-family="&quot;Liberation Sans&quot;, sans-serif" font-size="5.0" text-anchor="start" fill="#231f20" stroke="#231f20" stroke-width="0.22">5</text>
<text x="121.1" y="229.5" font-family="&quot;Liberation Sans&quot;, sans-serif" font-size="9.2" text-anchor="start" fill="#231f20" stroke="#231f20" stroke-width="0.22" textLength="31.3" lengthAdjust="spacingAndGlyphs">Tc=30 s</text>
<rect x="15.5" y="289.2" width="250.00" height="26.60" fill="#f3f3f3"/>
<path d="M16.00,303.50 16.60,303.38 17.20,303.27 17.80,303.15 18.40,303.04 19.00,302.93 19.60,302.82 20.20,302.72 20.80,302.62 21.40,302.52 22.00,302.43 22.60,302.33 23.20,302.24 23.80,302.16 24.40,302.08 25.00,302.00 25.60,301.93 26.20,301.86 26.80,301.79 27.40,301.73 28.00,301.68 28.60,301.62 29.20,301.58 29.80,301.54 30.40,301.50 31.00,301.47 31.60,301.44 32.20,301.42 32.80,301.41 33.40,301.40 34.00,301.40 34.60,301.41 35.20,301.42 35.80,301.44 36.40,301.46 37.00,301.49 37.60,301.53 38.20,301.58 38.80,301.63 39.40,301.68 40.00,301.75 40.60,301.81 41.20,301.88 41.80,301.96 42.40,302.04 43.00,302.13 43.60,302.22 44.20,302.31 44.80,302.41 45.40,302.51 46.00,302.61 46.60,302.72 47.20,302.83 47.80,302.94 48.40,303.05 49.00,303.17 49.60,303.29 50.20,303.41 50.80,303.53 51.40,303.66 52.00,303.78 52.60,303.90 53.20,304.03 53.80,304.16 54.40,304.28 55.00,304.41 55.60,304.53 56.20,304.66 56.80,304.78 57.40,304.91 58.00,305.03 58.60,305.15 59.20,305.27 59.80,305.39 60.40,305.50 61.00,305.62 61.60,305.73 62.20,305.84 62.80,305.94 63.40,306.04 64.00,306.14 64.60,306.24 65.20,306.33 65.80,306.42 66.40,306.50 67.00,306.58 67.60,306.65 68.20,306.72 68.80,306.79 69.40,306.84 70.00,306.90 70.60,306.95 71.20,306.99 71.80,307.02 72.40,307.05 73.00,307.07 73.60,307.09 74.20,307.10 74.80,307.10 75.40,307.07 76.00,307.01 76.60,306.93 77.20,306.81 77.80,306.67 78.40,306.51 79.00,306.32 79.60,306.11 80.20,305.88 80.80,305.63 81.40,305.36 82.00,305.07 82.60,304.77 83.20,304.46 83.80,304.13 84.40,303.79 85.00,303.44 85.60,303.09 86.20,302.73 86.80,302.36 87.40,301.99 88.00,301.61 88.60,301.24 89.20,300.86 89.80,300.49 90.40,300.12 91.00,299.75 91.60,299.39 92.20,299.04 92.80,298.69 93.40,298.36 94.00,298.04 94.60,297.73 95.20,297.43 95.80,297.15 96.40,296.89 97.00,296.64 97.60,296.42 98.20,296.21 98.80,296.03 99.40,295.88 100.00,295.74 100.60,295.64 101.20,295.56 101.80,295.52 102.40,295.50 103.00,295.54 103.60,295.64 104.20,295.81 104.80,296.04 105.40,296.33 106.00,296.67 106.60,297.07 107.20,297.51 107.80,297.99 108.40,298.52 109.00,299.08 109.60,299.67 110.20,300.29 110.80,300.94 111.40,301.61 112.00,302.29 112.60,303.00 113.20,303.71 113.80,304.43 114.40,305.15 115.00,305.87 115.60,306.59 116.20,307.30 116.80,308.01 117.40,308.69 118.00,309.36 118.60,310.01 119.20,310.63 119.80,311.22 120.40,311.78 121.00,312.31 121.60,312.79 122.20,313.23 122.80,313.63 123.40,313.97 124.00,314.26 124.60,314.49 125.20,314.66 125.80,314.76 126.40,314.80 127.00,314.75 127.60,314.61 128.20,314.38 128.80,314.06 129.40,313.67 130.00,313.20 130.60,312.67 131.20,312.07 131.80,311.42 132.40,310.71 133.00,309.96 133.60,309.17 134.20,308.34 134.80,307.48 135.40,306.60 136.00,305.69 136.60,304.78 137.20,303.85 137.80,302.92 138.40,301.99 139.00,301.06 139.60,300.15 140.20,299.26 140.80,298.38 141.40,297.54 142.00,296.73 142.60,295.96 143.20,295.23 143.80,294.55 144.40,293.92 145.00,293.36 145.60,292.86 146.20,292.43 146.80,292.07 147.40,291.80 148.00,291.61 148.60,291.51 149.20,291.51 149.80,291.56 150.40,291.67 151.00,291.83 151.60,292.04 152.20,292.29 152.80,292.58 153.40,292.92 154.00,293.29 154.60,293.69 155.20,294.13 155.80,294.60 156.40,295.10 157.00,295.62 157.60,296.16 158.20,296.72 158.80,297.30 159.40,297.89 160.00,298.49 160.60,299.10 161.20,299.72 161.80,300.34 162.40,300.96 163.00,301.58 163.60,302.20 164.20,302.81 164.80,303.41 165.40,304.00 166.00,304.58 166.60,305.13 167.20,305.67 167.80,306.19 168.40,306.68 169.00,307.14 169.60,307.58 170.20,307.98 170.80,308.34 171.40,308.67 172.00,308.96 172.60,309.20 173.20,309.40 173.80,309.55 174.40,309.65 175.00,309.70 175.60,309.69 176.20,309.66 176.80,309.61 177.40,309.53 178.00,309.42 178.60,309.30 179.20,309.15 179.80,308.99 180.40,308.81 181.00,308.60 181.60,308.39 182.20,308.16 182.80,307.91 183.40,307.65 184.00,307.38 184.60,307.10 185.20,306.81 185.80,306.51 186.40,306.20 187.00,305.88 187.60,305.57 188.20,305.24 188.80,304.92 189.40,304.59 190.00,304.26 190.60,303.94 191.20,303.61 191.80,303.29 192.40,302.97 193.00,302.65 193.60,302.35 194.20,302.04 194.80,301.75 195.40,301.47 196.00,301.20 196.60,300.93 197.20,300.69 197.80,300.45 198.40,300.23 199.00,300.03 199.60,299.84 200.20,299.67 200.80,299.52 201.40,299.39 202.00,299.29 202.60,299.20 203.20,299.14 203.80,299.11 204.40,299.10 205.00,299.11 205.60,299.14 206.20,299.19 206.80,299.25 207.40,299.32 208.00,299.41 208.60,299.52 209.20,299.63 209.80,299.76 210.40,299.90 211.00,300.04 211.60,300.20 212.20,300.37 212.80,300.54 213.40,300.72 214.00,300.91 214.60,301.10 215.20,301.30 215.80,301.50 216.40,301.71 217.00,301.91 217.60,302.12 218.20,302.33 218.80,302.54 219.40,302.75 220.00,302.96 220.60,303.16 221.20,303.37 221.80,303.56 222.40,303.76 223.00,303.95 223.60,304.13 224.20,304.30 224.80,304.47 225.40,304.63 226.00,304.78 226.60,304.92 227.20,305.05 227.80,305.17 228.40,305.27 229.00,305.36 229.60,305.44 230.20,305.50 230.80,305.55 231.40,305.58 232.00,305.60 232.60,305.60 233.20,305.58 233.80,305.56 234.40,305.53 235.00,305.48 235.60,305.43 236.20,305.37 236.80,305.30 237.40,305.22 238.00,305.14 238.60,305.05 239.20,304.95 239.80,304.84 240.40,304.73 241.00,304.62 241.60,304.50 242.20,304.37 242.80,304.24 243.40,304.11 244.00,303.97 244.60,303.83 245.20,303.69 245.80,303.55 246.40,303.40 247.00,303.26 247.60,303.11 248.20,302.96 248.80,302.82 249.40,302.67 250.00,302.53 250.60,302.38 251.20,302.24 251.80,302.11 252.40,301.97 253.00,301.84 253.60,301.71 254.20,301.58 254.80,301.46 255.40,301.35 256.00,301.24 256.60,301.13 257.20,301.04 257.80,300.95 258.40,300.86 259.00,300.79 259.60,300.72 260.20,300.66 260.80,300.61 261.40,300.57 262.00,300.53 262.60,300.51 263.20,300.50 263.80,300.50 264.40,300.53 265.00,300.57 265.50,300.60" stroke="#231f20" stroke-width="1.3" fill="none" stroke-linejoin="round"/>
<path d="M16.00,303.27 16.60,303.35 17.20,303.42 17.80,303.48 18.40,303.54 19.00,303.59 19.60,303.64 20.20,303.68 20.80,303.72 21.40,303.75 22.00,303.78 22.60,303.81 23.20,303.83 23.80,303.85 24.40,303.86 25.00,303.87 25.60,303.88 26.20,303.89 26.80,303.89 27.40,303.90 28.00,303.90 28.60,303.90 29.20,303.90 29.80,303.90 30.40,303.89 31.00,303.87 31.60,303.82 32.20,303.76 32.80,303.67 33.40,303.58 34.00,303.47 34.60,303.35 35.20,303.22 35.80,303.09 36.40,302.95 37.00,302.81 37.60,302.67 38.20,302.53 38.80,302.40 39.40,302.27 40.00,302.15 40.60,302.04 41.20,301.94 41.80,301.86 42.40,301.79 43.00,301.74 43.60,301.71 44.20,301.70 44.80,301.71 45.40,301.73 46.00,301.76 46.60,301.81 47.20,301.86 47.80,301.93 48.40,302.00 49.00,302.07 49.60,302.15 50.20,302.24 50.80,302.33 51.40,302.42 52.00,302.52 52.60,302.61 53.20,302.71 53.80,302.80 54.40,302.89 55.00,302.97 55.60,303.05 56.20,303.13 56.80,303.20 57.40,303.26 58.00,303.31 58.60,303.35 59.20,303.38 59.80,303.40 60.40,303.40 61.00,303.41 61.60,303.42 62.20,303.42 62.80,303.43 63.40,303.43 64.00,303.43 64.60,303.44 65.20,303.44 65.80,303.44 66.40,303.45 67.00,303.45 67.60,303.45 68.20,303.45 68.80,303.45 69.40,303.46 70.00,303.46 70.60,303.46 71.20,303.47 71.80,303.47 72.40,303.47 73.00,303.48 73.60,303.48 74.20,303.49 74.80,303.50 75.40,303.51 76.00,303.54 76.60,303.58 77.20,303.64 77.80,303.72 78.40,303.81 79.00,303.91 79.60,304.02 80.20,304.13 80.80,304.26 81.40,304.39 82.00,304.53 82.60,304.67 83.20,304.81 83.80,304.95 84.40,305.09 85.00,305.22 85.60,305.36 86.20,305.49 86.80,305.61 87.40,305.73 88.00,305.83 88.60,305.93 89.20,306.01 89.80,306.08 90.40,306.13 91.00,306.17 91.60,306.20 92.20,306.20 92.80,306.16 93.40,306.07 94.00,305.94 94.60,305.78 95.20,305.57 95.80,305.33 96.40,305.06 97.00,304.75 97.60,304.42 98.20,304.07 98.80,303.70 99.40,303.30 100.00,302.89 100.60,302.47 101.20,302.04 101.80,301.60 102.40,301.15 103.00,300.70 103.60,300.25 104.20,299.80 104.80,299.36 105.40,298.93 106.00,298.51 106.60,298.10 107.20,297.70 107.80,297.33 108.40,296.98 109.00,296.65 109.60,296.34 110.20,296.07 110.80,295.83 111.40,295.62 112.00,295.46 112.60,295.33 113.20,295.24 113.80,295.20 114.40,295.23 115.00,295.37 115.60,295.63 116.20,295.99 116.80,296.45 117.40,297.00 118.00,297.62 118.60,298.32 119.20,299.09 119.80,299.90 120.40,300.77 121.00,301.67 121.60,302.60 122.20,303.55 122.80,304.52 123.40,305.48 124.00,306.45 124.60,307.40 125.20,308.33 125.80,309.23 126.40,310.10 127.00,310.91 127.60,311.68 128.20,312.38 128.80,313.00 129.40,313.55 130.00,314.01 130.60,314.37 131.20,314.63 131.80,314.77 132.40,314.79 133.00,314.68 133.60,314.44 134.20,314.09 134.80,313.62 135.40,313.06 136.00,312.41 136.60,311.67 137.20,310.86 137.80,309.98 138.40,309.05 139.00,308.07 139.60,307.05 140.20,306.00 140.80,304.93 141.40,303.85 142.00,302.77 142.60,301.69 143.20,300.62 143.80,299.58 144.40,298.56 145.00,297.59 145.60,296.67 146.20,295.80 146.80,295.00 147.40,294.28 148.00,293.64 148.60,293.09 149.20,292.64 149.80,292.31 150.40,292.09 151.00,292.00 151.60,292.03 152.20,292.15 152.80,292.36 153.40,292.64 154.00,293.00 154.60,293.42 155.20,293.90 155.80,294.43 156.40,295.01 157.00,295.62 157.60,296.28 158.20,296.95 158.80,297.66 159.40,298.37 160.00,299.10 160.60,299.82 161.20,300.55 161.80,301.26 162.40,301.96 163.00,302.64 163.60,303.28 164.20,303.89 164.80,304.46 165.40,304.99 166.00,305.46 166.60,305.87 167.20,306.21 167.80,306.48 168.40,306.67 169.00,306.78 169.60,306.80 170.20,306.78 170.80,306.75 171.40,306.71 172.00,306.64 172.60,306.57 173.20,306.48 173.80,306.37 174.40,306.26 175.00,306.13 175.60,306.00 176.20,305.85 176.80,305.70 177.40,305.54 178.00,305.38 178.60,305.20 179.20,305.03 179.80,304.85 180.40,304.67 181.00,304.48 181.60,304.30 182.20,304.11 182.80,303.93 183.40,303.74 184.00,303.56 184.60,303.38 185.20,303.21 185.80,303.04 186.40,302.88 187.00,302.72 187.60,302.57 188.20,302.43 188.80,302.30 189.40,302.18 190.00,302.07 190.60,301.98 191.20,301.89 191.80,301.82 192.40,301.77 193.00,301.73 193.60,301.71 194.20,301.70 194.80,301.70 195.40,301.70 196.00,301.71 196.60,301.72 197.20,301.72 197.80,301.73 198.40,301.74 199.00,301.76 199.60,301.77 200.20,301.78 200.80,301.80 201.40,301.82 202.00,301.83 202.60,301.85 203.20,301.87 203.80,301.89 204.40,301.91 205.00,301.93 205.60,301.95 206.20,301.97 206.80,301.99 207.40,302.01 208.00,302.03 208.60,302.05 209.20,302.07 209.80,302.09 210.40,302.11 211.00,302.13 211.60,302.15 212.20,302.17 212.80,302.19 213.40,302.20 214.00,302.22 214.60,302.23 215.20,302.25 215.80,302.26 216.40,302.27 217.00,302.28 217.60,302.29 218.20,302.29 218.80,302.30 219.40,302.30 220.00,302.30 220.60,302.30 221.20,302.30 221.80,302.30 222.40,302.30 223.00,302.30 223.60,302.30 224.20,302.30 224.80,302.30 225.40,302.30 226.00,302.30 226.60,302.30 227.20,302.30 227.80,302.30 228.40,302.30 229.00,302.30 229.60,302.30 230.20,302.30 230.80,302.30 231.40,302.30 232.00,302.30 232.60,302.30 233.20,302.30 233.80,302.30 234.40,302.30 235.00,302.30 235.60,302.30 236.20,302.30 236.80,302.29 237.40,302.29 238.00,302.29 238.60,302.29 239.20,302.29 239.80,302.29 240.40,302.29 241.00,302.29 241.60,302.29 242.20,302.29 242.80,302.29 243.40,302.29 244.00,302.29 244.60,302.28 245.20,302.28 245.80,302.28 246.40,302.28 247.00,302.28 247.60,302.28 248.20,302.28 248.80,302.27 249.40,302.27 250.00,302.27 250.60,302.27 251.20,302.27 251.80,302.27 252.40,302.26 253.00,302.26 253.60,302.26 254.20,302.26 254.80,302.26 255.40,302.25 256.00,302.25 256.60,302.25 257.20,302.25 257.80,302.24 258.40,302.24 259.00,302.24 259.60,302.23 260.20,302.23 260.80,302.23 261.40,302.22 262.00,302.22 262.60,302.22 263.20,302.21 263.80,302.21 264.40,302.21 265.00,302.20 265.50,302.20" stroke="#2b2bff" stroke-width="1.3" fill="none" stroke-dasharray="3.6 2.4"/>
<path d="M16.00,303.52 16.60,303.43 17.20,303.34 17.80,303.25 18.40,303.16 19.00,303.08 19.60,302.99 20.20,302.91 20.80,302.84 21.40,302.76 22.00,302.69 22.60,302.62 23.20,302.55 23.80,302.48 24.40,302.42 25.00,302.35 25.60,302.29 26.20,302.23 26.80,302.18 27.40,302.12 28.00,302.07 28.60,302.02 29.20,301.97 29.80,301.93 30.40,301.88 31.00,301.84 31.60,301.80 32.20,301.76 32.80,301.73 33.40,301.69 34.00,301.66 34.60,301.63 35.20,301.60 35.80,301.57 36.40,301.55 37.00,301.53 37.60,301.51 38.20,301.49 38.80,301.47 39.40,301.46 40.00,301.44 40.60,301.43 41.20,301.42 41.80,301.41 42.40,301.41 43.00,301.40 43.60,301.40 44.20,301.40 44.80,301.40 45.40,301.42 46.00,301.43 46.60,301.46 47.20,301.48 47.80,301.52 48.40,301.56 49.00,301.60 49.60,301.65 50.20,301.70 50.80,301.76 51.40,301.82 52.00,301.89 52.60,301.96 53.20,302.03 53.80,302.10 54.40,302.18 55.00,302.26 55.60,302.34 56.20,302.43 56.80,302.51 57.40,302.60 58.00,302.69 58.60,302.78 59.20,302.87 59.80,302.96 60.40,303.04 61.00,303.13 61.60,303.22 62.20,303.31 62.80,303.40 63.40,303.49 64.00,303.57 64.60,303.66 65.20,303.74 65.80,303.82 66.40,303.90 67.00,303.97 67.60,304.04 68.20,304.11 68.80,304.18 69.40,304.24 70.00,304.30 70.60,304.35 71.20,304.40 71.80,304.44 72.40,304.48 73.00,304.52 73.60,304.54 74.20,304.57 74.80,304.58 75.40,304.60 76.00,304.60 76.60,304.59 77.20,304.57 77.80,304.53 78.40,304.47 79.00,304.40 79.60,304.31 80.20,304.21 80.80,304.09 81.40,303.96 82.00,303.82 82.60,303.66 83.20,303.50 83.80,303.33 84.40,303.14 85.00,302.95 85.60,302.75 86.20,302.54 86.80,302.33 87.40,302.11 88.00,301.88 88.60,301.66 89.20,301.42 89.80,301.19 90.40,300.95 91.00,300.71 91.60,300.47 92.20,300.23 92.80,299.99 93.40,299.75 94.00,299.52 94.60,299.28 95.20,299.05 95.80,298.83 96.40,298.61 97.00,298.39 97.60,298.18 98.20,297.98 98.80,297.79 99.40,297.60 100.00,297.43 100.60,297.26 101.20,297.11 101.80,296.96 102.40,296.83 103.00,296.71 103.60,296.61 104.20,296.52 104.80,296.44 105.40,296.38 106.00,296.34 106.60,296.31 107.20,296.30 107.80,296.35 108.40,296.50 109.00,296.73 109.60,297.05 110.20,297.45 110.80,297.92 111.40,298.46 112.00,299.05 112.60,299.70 113.20,300.40 113.80,301.13 114.40,301.90 115.00,302.70 115.60,303.52 116.20,304.36 116.80,305.20 117.40,306.05 118.00,306.90 118.60,307.74 119.20,308.56 119.80,309.37 120.40,310.14 121.00,310.88 121.60,311.59 122.20,312.24 122.80,312.85 123.40,313.39 124.00,313.87 124.60,314.28 125.20,314.62 125.80,314.87 126.40,315.03 127.00,315.10 127.60,315.06 128.20,314.90 128.80,314.64 129.40,314.27 130.00,313.80 130.60,313.25 131.20,312.62 131.80,311.92 132.40,311.15 133.00,310.32 133.60,309.44 134.20,308.51 134.80,307.55 135.40,306.56 136.00,305.54 136.60,304.51 137.20,303.47 137.80,302.43 138.40,301.40 139.00,300.38 139.60,299.38 140.20,298.40 140.80,297.46 141.40,296.57 142.00,295.72 142.60,294.93 143.20,294.20 143.80,293.55 144.40,292.97 145.00,292.48 145.60,292.08 146.20,291.78 146.80,291.58 147.40,291.50 148.00,291.53 148.60,291.66 149.20,291.88 149.80,292.17 150.40,292.55 151.00,292.99 151.60,293.50 152.20,294.07 152.80,294.68 153.40,295.35 154.00,296.05 154.60,296.79 155.20,297.55 155.80,298.33 156.40,299.13 157.00,299.94 157.60,300.76 158.20,301.57 158.80,302.37 159.40,303.15 160.00,303.91 160.60,304.65 161.20,305.35 161.80,306.02 162.40,306.63 163.00,307.20 163.60,307.71 164.20,308.15 164.80,308.53 165.40,308.82 166.00,309.04 166.60,309.17 167.20,309.20 167.80,309.17 168.40,309.10 169.00,309.00 169.60,308.86 170.20,308.68 170.80,308.48 171.40,308.25 172.00,307.99 172.60,307.72 173.20,307.42 173.80,307.11 174.40,306.78 175.00,306.44 175.60,306.10 176.20,305.74 176.80,305.39 177.40,305.03 178.00,304.68 178.60,304.33 179.20,303.99 179.80,303.65 180.40,303.33 181.00,303.03 181.60,302.74 182.20,302.48 182.80,302.23 183.40,302.02 184.00,301.83 184.60,301.67 185.20,301.55 185.80,301.46 186.40,301.41 187.00,301.40 187.60,301.41 188.20,301.42 188.80,301.44 189.40,301.47 190.00,301.50 190.60,301.54 191.20,301.59 191.80,301.64 192.40,301.69 193.00,301.74 193.60,301.80 194.20,301.86 194.80,301.93 195.40,301.99 196.00,302.05 196.60,302.12 197.20,302.18 197.80,302.24 198.40,302.30 199.00,302.36 199.60,302.41 200.20,302.47 200.80,302.51 201.40,302.56 202.00,302.60 202.60,302.63 203.20,302.66 203.80,302.68 204.40,302.69 205.00,302.70 205.60,302.70 206.20,302.70 206.80,302.71 207.40,302.71 208.00,302.71 208.60,302.71 209.20,302.72 209.80,302.72 210.40,302.72 211.00,302.72 211.60,302.72 212.20,302.73 212.80,302.73 213.40,302.73 214.00,302.73 214.60,302.73 215.20,302.74 215.80,302.74 216.40,302.74 217.00,302.74 217.60,302.74 218.20,302.74 218.80,302.75 219.40,302.75 220.00,302.75 220.60,302.75 221.20,302.75 221.80,302.75 222.40,302.75 223.00,302.76 223.60,302.76 224.20,302.76 224.80,302.76 225.40,302.76 226.00,302.76 226.60,302.76 227.20,302.77 227.80,302.77 228.40,302.77 229.00,302.77 229.60,302.77 230.20,302.77 230.80,302.77 231.40,302.77 232.00,302.77 232.60,302.78 233.20,302.78 233.80,302.78 234.40,302.78 235.00,302.78 235.60,302.78 236.20,302.78 236.80,302.78 237.40,302.78 238.00,302.78 238.60,302.78 239.20,302.78 239.80,302.79 240.40,302.79 241.00,302.79 241.60,302.79 242.20,302.79 242.80,302.79 243.40,302.79 244.00,302.79 244.60,302.79 245.20,302.79 245.80,302.79 246.40,302.79 247.00,302.79 247.60,302.79 248.20,302.79 248.80,302.79 249.40,302.79 250.00,302.80 250.60,302.80 251.20,302.80 251.80,302.80 252.40,302.80 253.00,302.80 253.60,302.80 254.20,302.80 254.80,302.80 255.40,302.80 256.00,302.80 256.60,302.80 257.20,302.80 257.80,302.80 258.40,302.80 259.00,302.80 259.60,302.80 260.20,302.80 260.80,302.80 261.40,302.80 262.00,302.80 262.60,302.80 263.20,302.80 263.80,302.80 264.40,302.80 265.00,302.80 265.50,302.80" stroke="#ee1c24" stroke-width="1.2" fill="none" stroke-linejoin="round"/>
<path d="M15.5,289.2 V317.0 H265.5" stroke="#888888" stroke-width="1" fill="none"/>
<path d="M15.5,294.5 H18.5" stroke="#888888" stroke-width="0.8"/>
<text x="14.20" y="297.30" font-family="&quot;Liberation Sans&quot;, sans-serif" font-size="7.9" text-anchor="end" fill="#231f20" stroke="#231f20" stroke-width="0.22">5</text>
<path d="M15.5,303.3 H18.5" stroke="#888888" stroke-width="0.8"/>
<text x="14.20" y="306.10" font-family="&quot;Liberation Sans&quot;, sans-serif" font-size="7.9" text-anchor="end" fill="#231f20" stroke="#231f20" stroke-width="0.22">0</text>
<path d="M15.5,312.6 H18.5" stroke="#888888" stroke-width="0.8"/>
<text x="14.20" y="315.40" font-family="&quot;Liberation Sans&quot;, sans-serif" font-size="7.9" text-anchor="end" fill="#231f20" stroke="#231f20" stroke-width="0.22">−5</text>
<text x="15.80" y="286.5" font-family="&quot;Liberation Sans&quot;, sans-serif" font-size="7.4" text-anchor="start" fill="#231f20" stroke="#231f20" stroke-width="0.22">x</text>
<text x="22.40" y="286.5" font-family="&quot;Liberation Sans&quot;, sans-serif" font-size="7.6" text-anchor="start" fill="#231f20" stroke="#231f20" stroke-width="0.22" textLength="7.7" lengthAdjust="spacingAndGlyphs">10</text>
<text x="31.00" y="282.00" font-family="&quot;Liberation Sans&quot;, sans-serif" font-size="5.0" text-anchor="start" fill="#231f20" stroke="#231f20" stroke-width="0.22">4</text>
<text x="120.1" y="282.5" font-family="&quot;Liberation Sans&quot;, sans-serif" font-size="9.2" text-anchor="start" fill="#231f20" stroke="#231f20" stroke-width="0.22" textLength="31.1" lengthAdjust="spacingAndGlyphs">Tc=20 s</text>
<rect x="15.5" y="341.7" width="250.00" height="27.10" fill="#f3f3f3"/>
<path d="M16.00,355.38 16.60,355.25 17.20,355.13 17.80,355.02 18.40,354.93 19.00,354.84 19.60,354.76 20.20,354.70 20.80,354.64 21.40,354.59 22.00,354.55 22.60,354.51 23.20,354.48 23.80,354.46 24.40,354.44 25.00,354.43 25.60,354.42 26.20,354.41 26.80,354.40 27.40,354.40 28.00,354.40 28.60,354.40 29.20,354.41 29.80,354.46 30.40,354.54 31.00,354.66 31.60,354.81 32.20,354.98 32.80,355.18 33.40,355.39 34.00,355.62 34.60,355.85 35.20,356.09 35.80,356.33 36.40,356.57 37.00,356.80 37.60,357.02 38.20,357.22 38.80,357.40 39.40,357.57 40.00,357.70 40.60,357.80 41.20,357.87 41.80,357.90 42.40,357.89 43.00,357.85 43.60,357.79 44.20,357.70 44.80,357.59 45.40,357.46 46.00,357.31 46.60,357.15 47.20,356.97 47.80,356.78 48.40,356.59 49.00,356.38 49.60,356.18 50.20,355.97 50.80,355.76 51.40,355.55 52.00,355.35 52.60,355.15 53.20,354.96 53.80,354.78 54.40,354.62 55.00,354.47 55.60,354.33 56.20,354.22 56.80,354.13 57.40,354.06 58.00,354.01 58.60,354.00 59.20,354.01 59.80,354.05 60.40,354.12 61.00,354.21 61.60,354.32 62.20,354.45 62.80,354.59 63.40,354.76 64.00,354.93 64.60,355.12 65.20,355.32 65.80,355.53 66.40,355.74 67.00,355.96 67.60,356.18 68.20,356.41 68.80,356.63 69.40,356.85 70.00,357.07 70.60,357.28 71.20,357.48 71.80,357.68 72.40,357.86 73.00,358.03 73.60,358.18 74.20,358.32 74.80,358.44 75.40,358.54 76.00,358.62 76.60,358.67 77.20,358.70 77.80,358.70 78.40,358.69 79.00,358.66 79.60,358.62 80.20,358.57 80.80,358.52 81.40,358.45 82.00,358.37 82.60,358.29 83.20,358.19 83.80,358.09 84.40,357.99 85.00,357.88 85.60,357.76 86.20,357.64 86.80,357.52 87.40,357.39 88.00,357.26 88.60,357.13 89.20,357.00 89.80,356.87 90.40,356.74 91.00,356.61 91.60,356.48 92.20,356.36 92.80,356.22 93.40,356.06 94.00,355.89 94.60,355.70 95.20,355.50 95.80,355.29 96.40,355.07 97.00,354.84 97.60,354.60 98.20,354.36 98.80,354.11 99.40,353.87 100.00,353.62 100.60,353.37 101.20,353.13 101.80,352.89 102.40,352.65 103.00,352.42 103.60,352.20 104.20,351.99 104.80,351.80 105.40,351.61 106.00,351.44 106.60,351.29 107.20,351.15 107.80,351.04 108.40,350.94 109.00,350.87 109.60,350.82 110.20,350.80 110.80,350.82 111.40,350.92 112.00,351.09 112.60,351.35 113.20,351.67 113.80,352.05 114.40,352.49 115.00,352.98 115.60,353.53 116.20,354.11 116.80,354.73 117.40,355.39 118.00,356.07 118.60,356.77 119.20,357.49 119.80,358.23 120.40,358.96 121.00,359.70 121.60,360.44 122.20,361.17 122.80,361.88 123.40,362.57 124.00,363.24 124.60,363.88 125.20,364.49 125.80,365.05 126.40,365.57 127.00,366.04 127.60,366.45 128.20,366.80 128.80,367.09 129.40,367.30 130.00,367.44 130.60,367.50 131.20,367.44 131.80,367.21 132.40,366.82 133.00,366.29 133.60,365.64 134.20,364.86 134.80,363.99 135.40,363.02 136.00,361.99 136.60,360.89 137.20,359.74 137.80,358.56 138.40,357.35 139.00,356.15 139.60,354.94 140.20,353.76 140.80,352.61 141.40,351.51 142.00,350.48 142.60,349.51 143.20,348.64 143.80,347.86 144.40,347.21 145.00,346.68 145.60,346.29 146.20,346.06 146.80,346.00 147.40,346.05 148.00,346.17 148.60,346.36 149.20,346.62 149.80,346.93 150.40,347.29 151.00,347.70 151.60,348.15 152.20,348.65 152.80,349.17 153.40,349.72 154.00,350.30 154.60,350.89 155.20,351.50 155.80,352.11 156.40,352.73 157.00,353.35 157.60,353.96 158.20,354.56 158.80,355.14 159.40,355.70 160.00,356.24 160.60,356.75 161.20,357.22 161.80,357.64 162.40,358.03 163.00,358.36 163.60,358.64 164.20,358.86 164.80,359.01 165.40,359.09 166.00,359.11 166.60,359.13 167.20,359.15 167.80,359.17 168.40,359.18 169.00,359.20 169.60,359.21 170.20,359.23 170.80,359.24 171.40,359.25 172.00,359.26 172.60,359.27 173.20,359.28 173.80,359.29 174.40,359.29 175.00,359.30 175.60,359.30 176.20,359.30 176.80,359.30 177.40,359.24 178.00,359.12 178.60,358.95 179.20,358.72 179.80,358.46 180.40,358.17 181.00,357.85 181.60,357.51 182.20,357.16 182.80,356.81 183.40,356.46 184.00,356.13 184.60,355.81 185.20,355.52 185.80,355.26 186.40,355.04 187.00,354.87 187.60,354.75 188.20,354.70 188.80,354.69 189.40,354.69 190.00,354.68 190.60,354.67 191.20,354.67 191.80,354.66 192.40,354.66 193.00,354.65 193.60,354.65 194.20,354.64 194.80,354.64 195.40,354.63 196.00,354.63 196.60,354.63 197.20,354.62 197.80,354.62 198.40,354.62 199.00,354.61 199.60,354.61 200.20,354.61 200.80,354.61 201.40,354.61 202.00,354.60 202.60,354.60 203.20,354.60 203.80,354.60 204.40,354.60 205.00,354.60 205.60,354.60 206.20,354.60 206.80,354.61 207.40,354.63 208.00,354.66 208.60,354.69 209.20,354.73 209.80,354.77 210.40,354.82 211.00,354.87 211.60,354.93 212.20,354.99 212.80,355.06 213.40,355.13 214.00,355.20 214.60,355.27 215.20,355.35 215.80,355.42 216.40,355.50 217.00,355.58 217.60,355.65 218.20,355.73 218.80,355.80 219.40,355.88 220.00,355.95 220.60,356.02 221.20,356.09 221.80,356.15 222.40,356.21 223.00,356.26 223.60,356.31 224.20,356.36 224.80,356.40 225.40,356.43 226.00,356.46 226.60,356.48 227.20,356.49 227.80,356.50 228.40,356.50 229.00,356.48 229.60,356.46 230.20,356.43 230.80,356.40 231.40,356.35 232.00,356.31 232.60,356.25 233.20,356.20 233.80,356.14 234.40,356.07 235.00,356.01 235.60,355.94 236.20,355.88 236.80,355.82 237.40,355.75 238.00,355.69 238.60,355.64 239.20,355.59 239.80,355.54 240.40,355.50 241.00,355.46 241.60,355.43 242.20,355.41 242.80,355.40 243.40,355.40 244.00,355.41 244.60,355.43 245.20,355.45 245.80,355.49 246.40,355.53 247.00,355.57 247.60,355.62 248.20,355.67 248.80,355.73 249.40,355.79 250.00,355.84 250.60,355.90 251.20,355.95 251.80,356.00 252.40,356.05 253.00,356.09 253.60,356.13 254.20,356.16 254.80,356.18 255.40,356.20 256.00,356.20 256.60,356.19 257.20,356.16 257.80,356.11 258.40,356.05 259.00,355.97 259.60,355.88 260.20,355.78 260.80,355.67 261.40,355.54 262.00,355.41 262.60,355.27 263.20,355.12 263.80,354.96 264.40,354.80 265.00,354.64 265.50,354.50" stroke="#231f20" stroke-width="1.3" fill="none" stroke-linejoin="round"/>
<path d="M16.00,355.60 16.60,355.71 17.20,355.82 17.80,355.93 18.40,356.02 19.00,356.11 19.60,356.20 20.20,356.28 20.80,356.35 21.40,356.42 22.00,356.49 22.60,356.55 23.20,356.60 23.80,356.65 24.40,356.70 25.00,356.74 25.60,356.78 26.20,356.82 26.80,356.85 27.40,356.88 28.00,356.90 28.60,356.92 29.20,356.94 29.80,356.96 30.40,356.97 31.00,356.98 31.60,356.99 32.20,356.99 32.80,357.00 33.40,357.00 34.00,357.00 34.60,356.99 35.20,356.95 35.80,356.90 36.40,356.84 37.00,356.76 37.60,356.67 38.20,356.57 38.80,356.46 39.40,356.35 40.00,356.24 40.60,356.12 41.20,356.00 41.80,355.89 42.40,355.78 43.00,355.68 43.60,355.58 44.20,355.50 44.80,355.43 45.40,355.37 46.00,355.33 46.60,355.30 47.20,355.30 47.80,355.31 48.40,355.34 49.00,355.38 49.60,355.43 50.20,355.49 50.80,355.56 51.40,355.63 52.00,355.71 52.60,355.80 53.20,355.89 53.80,355.98 54.40,356.07 55.00,356.17 55.60,356.26 56.20,356.35 56.80,356.43 57.40,356.51 58.00,356.58 58.60,356.64 59.20,356.70 59.80,356.74 60.40,356.78 61.00,356.79 61.60,356.80 62.20,356.78 62.80,356.72 63.40,356.64 64.00,356.54 64.60,356.42 65.20,356.28 65.80,356.13 66.40,355.97 67.00,355.80 67.60,355.63 68.20,355.46 68.80,355.30 69.40,355.15 70.00,355.00 70.60,354.88 71.20,354.77 71.80,354.69 72.40,354.63 73.00,354.60 73.60,354.60 74.20,354.62 74.80,354.64 75.40,354.67 76.00,354.72 76.60,354.76 77.20,354.82 77.80,354.88 78.40,354.94 79.00,355.00 79.60,355.06 80.20,355.12 80.80,355.20 81.40,355.29 82.00,355.40 82.60,355.52 83.20,355.64 83.80,355.78 84.40,355.93 85.00,356.07 85.60,356.22 86.20,356.37 86.80,356.51 87.40,356.65 88.00,356.78 88.60,356.90 89.20,357.01 89.80,357.10 90.40,357.18 91.00,357.24 91.60,357.28 92.20,357.30 92.80,357.30 93.40,357.30 94.00,357.29 94.60,357.29 95.20,357.28 95.80,357.27 96.40,357.26 97.00,357.25 97.60,357.24 98.20,357.23 98.80,357.21 99.40,357.19 100.00,357.17 100.60,357.15 101.20,357.13 101.80,357.10 102.40,357.07 103.00,357.04 103.60,357.01 104.20,356.98 104.80,356.95 105.40,356.91 106.00,356.87 106.60,356.83 107.20,356.78 107.80,356.63 108.40,356.36 109.00,356.00 109.60,355.57 110.20,355.07 110.80,354.54 111.40,353.98 112.00,353.42 112.60,352.87 113.20,352.36 113.80,351.89 114.40,351.50 115.00,351.12 115.60,350.71 116.20,350.31 116.80,349.94 117.40,349.65 118.00,349.45 118.60,349.40 119.20,349.51 119.80,349.75 120.40,350.14 121.00,350.64 121.60,351.25 122.20,351.96 122.80,352.75 123.40,353.61 124.00,354.54 124.60,355.51 125.20,356.51 125.80,357.55 126.40,358.59 127.00,359.63 127.60,360.66 128.20,361.66 128.80,362.62 129.40,363.54 130.00,364.39 130.60,365.17 131.20,365.86 131.80,366.45 132.40,366.94 133.00,367.30 133.60,367.52 134.20,367.60 134.80,367.43 135.40,366.93 136.00,366.15 136.60,365.12 137.20,363.89 137.80,362.49 138.40,360.96 139.00,359.33 139.60,357.66 140.20,355.98 140.80,354.32 141.40,352.72 142.00,351.23 142.60,349.88 143.20,348.71 143.80,347.76 144.40,347.07 145.00,346.68 145.60,346.61 146.20,346.80 146.80,347.18 147.40,347.72 148.00,348.40 148.60,349.19 149.20,350.06 149.80,350.97 150.40,351.90 151.00,352.82 151.60,353.70 152.20,354.50 152.80,355.21 153.40,355.78 154.00,356.20 154.60,356.43 155.20,356.58 155.80,356.72 156.40,356.86 157.00,356.98 157.60,357.09 158.20,357.19 158.80,357.27 159.40,357.33 160.00,357.37 160.60,357.40 161.20,357.40 161.80,357.40 162.40,357.39 163.00,357.39 163.60,357.38 164.20,357.37 164.80,357.36 165.40,357.34 166.00,357.33 166.60,357.31 167.20,357.29 167.80,357.27 168.40,357.25 169.00,357.23 169.60,357.20 170.20,357.18 170.80,357.15 171.40,357.13 172.00,357.10 172.60,357.07 173.20,357.04 173.80,357.01 174.40,356.98 175.00,356.92 175.60,356.85 176.20,356.77 176.80,356.67 177.40,356.56 178.00,356.44 178.60,356.31 179.20,356.18 179.80,356.04 180.40,355.90 181.00,355.76 181.60,355.62 182.20,355.49 182.80,355.35 183.40,355.23 184.00,355.11 184.60,355.01 185.20,354.92 185.80,354.84 186.40,354.77 187.00,354.73 187.60,354.70 188.20,354.70 188.80,354.70 189.40,354.71 190.00,354.71 190.60,354.72 191.20,354.73 191.80,354.74 192.40,354.75 193.00,354.77 193.60,354.78 194.20,354.80 194.80,354.82 195.40,354.84 196.00,354.86 196.60,354.88 197.20,354.90 197.80,354.92 198.40,354.94 199.00,354.97 199.60,354.99 200.20,355.01 200.80,355.04 201.40,355.06 202.00,355.09 202.60,355.11 203.20,355.13 203.80,355.16 204.40,355.18 205.00,355.20 205.60,355.22 206.20,355.25 206.80,355.27 207.40,355.30 208.00,355.33 208.60,355.37 209.20,355.40 209.80,355.43 210.40,355.47 211.00,355.50 211.60,355.54 212.20,355.58 212.80,355.62 213.40,355.66 214.00,355.70 214.60,355.73 215.20,355.77 215.80,355.81 216.40,355.85 217.00,355.89 217.60,355.92 218.20,355.96 218.80,356.00 219.40,356.03 220.00,356.06 220.60,356.09 221.20,356.12 221.80,356.15 222.40,356.18 223.00,356.20 223.60,356.22 224.20,356.24 224.80,356.26 225.40,356.27 226.00,356.28 226.60,356.29 227.20,356.30 227.80,356.30 228.40,356.30 229.00,356.29 229.60,356.28 230.20,356.26 230.80,356.24 231.40,356.21 232.00,356.18 232.60,356.15 233.20,356.12 233.80,356.08 234.40,356.04 235.00,356.00 235.60,355.96 236.20,355.92 236.80,355.87 237.40,355.83 238.00,355.79 238.60,355.75 239.20,355.71 239.80,355.67 240.40,355.63 241.00,355.60 241.60,355.57 242.20,355.54 242.80,355.51 243.40,355.49 244.00,355.47 244.60,355.46 245.20,355.44 245.80,355.42 246.40,355.40 247.00,355.38 247.60,355.36 248.20,355.34 248.80,355.33 249.40,355.31 250.00,355.29 250.60,355.27 251.20,355.26 251.80,355.24 252.40,355.22 253.00,355.21 253.60,355.19 254.20,355.18 254.80,355.16 255.40,355.15 256.00,355.13 256.60,355.12 257.20,355.11 257.80,355.10 258.40,355.09 259.00,355.07 259.60,355.06 260.20,355.05 260.80,355.05 261.40,355.04 262.00,355.03 262.60,355.02 263.20,355.02 263.80,355.01 264.40,355.01 265.00,355.00 265.50,355.00" stroke="#2b2bff" stroke-width="1.3" fill="none" stroke-dasharray="3.6 2.4"/>
<path d="M16.00,355.62 16.60,355.75 17.20,355.87 17.80,355.99 18.40,356.10 19.00,356.20 19.60,356.30 20.20,356.39 20.80,356.47 21.40,356.55 22.00,356.63 22.60,356.69 23.20,356.76 23.80,356.81 24.40,356.87 25.00,356.92 25.60,356.96 26.20,357.00 26.80,357.03 27.40,357.06 28.00,357.09 28.60,357.11 29.20,357.13 29.80,357.15 30.40,357.17 31.00,357.18 31.60,357.19 32.20,357.19 32.80,357.20 33.40,357.20 34.00,357.20 34.60,357.18 35.20,357.14 35.80,357.09 36.40,357.01 37.00,356.92 37.60,356.81 38.20,356.69 38.80,356.57 39.40,356.44 40.00,356.30 40.60,356.17 41.20,356.03 41.80,355.90 42.40,355.77 43.00,355.65 43.60,355.53 44.20,355.44 44.80,355.35 45.40,355.28 46.00,355.23 46.60,355.21 47.20,355.20 47.80,355.21 48.40,355.24 49.00,355.29 49.60,355.34 50.20,355.41 50.80,355.49 51.40,355.57 52.00,355.67 52.60,355.76 53.20,355.87 53.80,355.97 54.40,356.08 55.00,356.18 55.60,356.28 56.20,356.38 56.80,356.48 57.40,356.57 58.00,356.65 58.60,356.72 59.20,356.79 59.80,356.84 60.40,356.87 61.00,356.89 61.60,356.90 62.20,356.87 62.80,356.81 63.40,356.72 64.00,356.61 64.60,356.47 65.20,356.31 65.80,356.14 66.40,355.95 67.00,355.76 67.60,355.57 68.20,355.38 68.80,355.19 69.40,355.02 70.00,354.86 70.60,354.72 71.20,354.59 71.80,354.50 72.40,354.43 73.00,354.40 73.60,354.41 74.20,354.45 74.80,354.52 75.40,354.61 76.00,354.73 76.60,354.87 77.20,355.03 77.80,355.20 78.40,355.38 79.00,355.57 79.60,355.77 80.20,355.96 80.80,356.16 81.40,356.35 82.00,356.53 82.60,356.70 83.20,356.85 83.80,356.99 84.40,357.11 85.00,357.20 85.60,357.26 86.20,357.30 86.80,357.30 87.40,357.29 88.00,357.29 88.60,357.27 89.20,357.25 89.80,357.23 90.40,357.20 91.00,357.17 91.60,357.13 92.20,357.09 92.80,357.05 93.40,357.00 94.00,356.95 94.60,356.90 95.20,356.84 95.80,356.77 96.40,356.71 97.00,356.64 97.60,356.56 98.20,356.49 98.80,356.41 99.40,356.32 100.00,356.24 100.60,356.15 101.20,356.06 101.80,355.96 102.40,355.86 103.00,355.76 103.60,355.66 104.20,355.55 104.80,355.44 105.40,355.27 106.00,355.05 106.60,354.79 107.20,354.51 107.80,354.21 108.40,353.91 109.00,353.63 109.60,353.36 110.20,353.13 110.80,352.93 111.40,352.72 112.00,352.50 112.60,352.27 113.20,352.06 113.80,351.85 114.40,351.65 115.00,351.47 115.60,351.31 116.20,351.18 116.80,351.08 117.40,351.02 118.00,351.00 118.60,351.12 119.20,351.47 119.80,352.02 120.40,352.75 121.00,353.63 121.60,354.63 122.20,355.73 122.80,356.91 123.40,358.14 124.00,359.40 124.60,360.66 125.20,361.89 125.80,363.07 126.40,364.17 127.00,365.18 127.60,366.05 128.20,366.78 128.80,367.33 129.40,367.68 130.00,367.80 130.60,367.66 131.20,367.25 131.80,366.60 132.40,365.74 133.00,364.69 133.60,363.49 134.20,362.15 134.80,360.71 135.40,359.19 136.00,357.61 136.60,356.02 137.20,354.42 137.80,352.86 138.40,351.35 139.00,349.92 139.60,348.60 140.20,347.42 140.80,346.40 141.40,345.58 142.00,344.97 142.60,344.60 143.20,344.50 143.80,344.62 144.40,344.90 145.00,345.33 145.60,345.89 146.20,346.56 146.80,347.33 147.40,348.19 148.00,349.12 148.60,350.10 149.20,351.11 149.80,352.15 150.40,353.19 151.00,354.23 151.60,355.23 152.20,356.20 152.80,357.10 153.40,357.93 154.00,358.68 154.60,359.31 155.20,359.83 155.80,360.21 156.40,360.44 157.00,360.50 157.60,360.47 158.20,360.40 158.80,360.29 159.40,360.14 160.00,359.97 160.60,359.77 161.20,359.54 161.80,359.30 162.40,359.05 163.00,358.78 163.60,358.51 164.20,358.23 164.80,357.95 165.40,357.68 166.00,357.42 166.60,357.17 167.20,356.94 167.80,356.73 168.40,356.55 169.00,356.39 169.60,356.26 170.20,356.17 170.80,356.09 171.40,356.01 172.00,355.93 172.60,355.85 173.20,355.78 173.80,355.70 174.40,355.63 175.00,355.56 175.60,355.49 176.20,355.42 176.80,355.36 177.40,355.30 178.00,355.24 178.60,355.18 179.20,355.12 179.80,355.07 180.40,355.02 181.00,354.98 181.60,354.93 182.20,354.89 182.80,354.86 183.40,354.82 184.00,354.79 184.60,354.77 185.20,354.75 185.80,354.73 186.40,354.72 187.00,354.71 187.60,354.70 188.20,354.70 188.80,354.70 189.40,354.71 190.00,354.71 190.60,354.72 191.20,354.74 191.80,354.75 192.40,354.76 193.00,354.78 193.60,354.80 194.20,354.82 194.80,354.84 195.40,354.87 196.00,354.89 196.60,354.92 197.20,354.94 197.80,354.97 198.40,355.00 199.00,355.02 199.60,355.05 200.20,355.08 200.80,355.11 201.40,355.14 202.00,355.17 202.60,355.19 203.20,355.22 203.80,355.25 204.40,355.27 205.00,355.30 205.60,355.33 206.20,355.35 206.80,355.38 207.40,355.42 208.00,355.45 208.60,355.49 209.20,355.52 209.80,355.56 210.40,355.60 211.00,355.64 211.60,355.68 212.20,355.72 212.80,355.76 213.40,355.81 214.00,355.85 214.60,355.89 215.20,355.93 215.80,355.97 216.40,356.02 217.00,356.06 217.60,356.10 218.20,356.14 218.80,356.17 219.40,356.21 220.00,356.24 220.60,356.28 221.20,356.31 221.80,356.34 222.40,356.37 223.00,356.39 223.60,356.42 224.20,356.44 224.80,356.46 225.40,356.47 226.00,356.48 226.60,356.49 227.20,356.50 227.80,356.50 228.40,356.50 229.00,356.49 229.60,356.47 230.20,356.45 230.80,356.42 231.40,356.38 232.00,356.34 232.60,356.30 233.20,356.25 233.80,356.20 234.40,356.15 235.00,356.10 235.60,356.05 236.20,355.99 236.80,355.94 237.40,355.89 238.00,355.84 238.60,355.80 239.20,355.75 239.80,355.71 240.40,355.68 241.00,355.65 241.60,355.63 242.20,355.61 242.80,355.60 243.40,355.60 244.00,355.61 244.60,355.62 245.20,355.65 245.80,355.68 246.40,355.71 247.00,355.75 247.60,355.79 248.20,355.84 248.80,355.89 249.40,355.94 250.00,355.99 250.60,356.04 251.20,356.08 251.80,356.13 252.40,356.17 253.00,356.21 253.60,356.24 254.20,356.27 254.80,356.29 255.40,356.30 256.00,356.30 256.60,356.29 257.20,356.27 257.80,356.23 258.40,356.19 259.00,356.13 259.60,356.06 260.20,355.98 260.80,355.90 261.40,355.80 262.00,355.70 262.60,355.59 263.20,355.48 263.80,355.36 264.40,355.23 265.00,355.11 265.50,355.00" stroke="#ee1c24" stroke-width="1.2" fill="none" stroke-linejoin="round"/>
<path d="M15.5,341.7 V370.0 H265.5" stroke="#888888" stroke-width="1" fill="none"/>
<path d="M15.5,343.0 H18.5" stroke="#888888" stroke-width="0.8"/>
<text x="14.20" y="345.80" font-family="&quot;Liberation Sans&quot;, sans-serif" font-size="7.9" text-anchor="end" fill="#231f20" stroke="#231f20" stroke-width="0.22">5</text>
<path d="M15.5,356.0 H18.5" stroke="#888888" stroke-width="0.8"/>
<text x="14.20" y="358.80" font-family="&quot;Liberation Sans&quot;, sans-serif" font-size="7.9" text-anchor="end" fill="#231f20" stroke="#231f20" stroke-width="0.22">0</text>
<path d="M15.5,369.8 H18.5" stroke="#888888" stroke-width="0.8"/>
<text x="14.20" y="372.60" font-family="&quot;Liberation Sans&quot;, sans-serif" font-size="7.9" text-anchor="end" fill="#231f20" stroke="#231f20" stroke-width="0.22">−5</text>
<text x="15.80" y="339.4" font-family="&quot;Liberation Sans&quot;, sans-serif" font-size="7.4" text-anchor="start" fill="#231f20" stroke="#231f20" stroke-width="0.22">x</text>
<text x="22.40" y="339.4" font-family="&quot;Liberation Sans&quot;, sans-serif" font-size="7.6" text-anchor="start" fill="#231f20" stroke="#231f20" stroke-width="0.22" textLength="7.7" lengthAdjust="spacingAndGlyphs">10</text>
<text x="31.00" y="334.90" font-family="&quot;Liberation Sans&quot;, sans-serif" font-size="5.0" text-anchor="start" fill="#231f20" stroke="#231f20" stroke-width="0.22">4</text>
<text x="120.4" y="334.5" font-family="&quot;Liberation Sans&quot;, sans-serif" font-size="9.2" text-anchor="start" fill="#f2f2f2" stroke="#f2f2f2" stroke-width="0.5" textLength="29.8" lengthAdjust="spacingAndGlyphs">Tc=10s</text>
<path d="M19.70,370.0 V367.8" stroke="#888888" stroke-width="0.8"/>
<text x="19.70" y="379.40" font-family="&quot;Liberation Sans&quot;, sans-serif" font-size="7.3" text-anchor="middle" fill="#231f20" stroke="#231f20" stroke-width="0.22">120</text>
<path d="M51.00,370.0 V367.8" stroke="#888888" stroke-width="0.8"/>
<text x="51.00" y="379.40" font-family="&quot;Liberation Sans&quot;, sans-serif" font-size="7.3" text-anchor="middle" fill="#231f20" stroke="#231f20" stroke-width="0.22">130</text>
<path d="M82.30,370.0 V367.8" stroke="#888888" stroke-width="0.8"/>
<text x="82.30" y="379.40" font-family="&quot;Liberation Sans&quot;, sans-serif" font-size="7.3" text-anchor="middle" fill="#231f20" stroke="#231f20" stroke-width="0.22">140</text>
<path d="M113.60,370.0 V367.8" stroke="#888888" stroke-width="0.8"/>
<text x="113.60" y="379.40" font-family="&quot;Liberation Sans&quot;, sans-serif" font-size="7.3" text-anchor="middle" fill="#231f20" stroke="#231f20" stroke-width="0.22">150</text>
<path d="M144.90,370.0 V367.8" stroke="#888888" stroke-width="0.8"/>
<text x="144.90" y="379.40" font-family="&quot;Liberation Sans&quot;, sans-serif" font-size="7.3" text-anchor="middle" fill="#231f20" stroke="#231f20" stroke-width="0.22">160</text>
<path d="M176.20,370.0 V367.8" stroke="#888888" stroke-width="0.8"/>
<text x="176.20" y="379.40" font-family="&quot;Liberation Sans&quot;, sans-serif" font-size="7.3" text-anchor="middle" fill="#231f20" stroke="#231f20" stroke-width="0.22">170</text>
<path d="M207.50,370.0 V367.8" stroke="#888888" stroke-width="0.8"/>
<text x="207.50" y="379.40" font-family="&quot;Liberation Sans&quot;, sans-serif" font-size="7.3" text-anchor="middle" fill="#231f20" stroke="#231f20" stroke-width="0.22">180</text>
<path d="M238.80,370.0 V367.8" stroke="#888888" stroke-width="0.8"/>
<text x="238.80" y="379.40" font-family="&quot;Liberation Sans&quot;, sans-serif" font-size="7.3" text-anchor="middle" fill="#231f20" stroke="#231f20" stroke-width="0.22">190</text>
<rect x="291.5" y="182.2" width="250.20" height="27.00" fill="#f3f3f3"/>
<path d="M292.00,199.95 292.60,200.12 293.20,200.29 293.80,200.46 294.40,200.62 295.00,200.78 295.60,200.93 296.20,201.08 296.80,201.22 297.40,201.35 298.00,201.47 298.60,201.58 299.20,201.68 299.80,201.76 300.40,201.84 301.00,201.90 301.60,201.95 302.20,201.98 302.80,202.00 303.40,202.00 304.00,201.98 304.60,201.95 305.20,201.91 305.80,201.85 306.40,201.78 307.00,201.69 307.60,201.60 308.20,201.49 308.80,201.36 309.40,201.23 310.00,201.09 310.60,200.93 311.20,200.76 311.80,200.59 312.40,200.40 313.00,200.21 313.60,200.01 314.20,199.80 314.80,199.58 315.40,199.35 316.00,199.12 316.60,198.88 317.20,198.63 317.80,198.38 318.40,198.13 319.00,197.86 319.60,197.60 320.20,197.33 320.80,197.05 321.40,196.78 322.00,196.49 322.60,196.21 323.20,195.93 323.80,195.64 324.40,195.35 325.00,195.06 325.60,194.77 326.20,194.48 326.80,194.20 327.40,193.91 328.00,193.62 328.60,193.34 329.20,193.05 329.80,192.77 330.40,192.49 331.00,192.22 331.60,191.95 332.20,191.68 332.80,191.42 333.40,191.16 334.00,190.91 334.60,190.66 335.20,190.42 335.80,190.19 336.40,189.96 337.00,189.74 337.60,189.53 338.20,189.32 338.80,189.13 339.40,188.94 340.00,188.76 340.60,188.60 341.20,188.44 341.80,188.29 342.40,188.16 343.00,188.03 343.60,187.92 344.20,187.82 344.80,187.73 345.40,187.66 346.00,187.60 346.60,187.55 347.20,187.52 347.80,187.50 348.40,187.50 349.00,187.53 349.60,187.58 350.20,187.66 350.80,187.76 351.40,187.90 352.00,188.05 352.60,188.23 353.20,188.43 353.80,188.66 354.40,188.90 355.00,189.17 355.60,189.45 356.20,189.75 356.80,190.07 357.40,190.41 358.00,190.76 358.60,191.13 359.20,191.51 359.80,191.90 360.40,192.30 361.00,192.72 361.60,193.14 362.20,193.57 362.80,194.02 363.40,194.46 364.00,194.92 364.60,195.38 365.20,195.84 365.80,196.31 366.40,196.78 367.00,197.26 367.60,197.73 368.20,198.20 368.80,198.67 369.40,199.14 370.00,199.61 370.60,200.07 371.20,200.53 371.80,200.99 372.40,201.43 373.00,201.87 373.60,202.30 374.20,202.72 374.80,203.13 375.40,203.53 376.00,203.92 376.60,204.30 377.20,204.66 377.80,205.00 378.40,205.33 379.00,205.65 379.60,205.94 380.20,206.22 380.80,206.48 381.40,206.72 382.00,206.94 382.60,207.13 383.20,207.30 383.80,207.45 384.40,207.57 385.00,207.67 385.60,207.74 386.20,207.79 386.80,207.80 387.40,207.78 388.00,207.74 388.60,207.66 389.20,207.55 389.80,207.41 390.40,207.24 391.00,207.05 391.60,206.83 392.20,206.59 392.80,206.33 393.40,206.04 394.00,205.73 394.60,205.40 395.20,205.05 395.80,204.68 396.40,204.30 397.00,203.89 397.60,203.48 398.20,203.05 398.80,202.60 399.40,202.15 400.00,201.68 400.60,201.20 401.20,200.72 401.80,200.23 402.40,199.73 403.00,199.22 403.60,198.71 404.20,198.19 404.80,197.68 405.40,197.16 406.00,196.64 406.60,196.12 407.20,195.61 407.80,195.09 408.40,194.58 409.00,194.07 409.60,193.57 410.20,193.08 410.80,192.60 411.40,192.12 412.00,191.65 412.60,191.20 413.20,190.75 413.80,190.32 414.40,189.91 415.00,189.50 415.60,189.12 416.20,188.75 416.80,188.40 417.40,188.07 418.00,187.76 418.60,187.47 419.20,187.21 419.80,186.97 420.40,186.75 421.00,186.56 421.60,186.39 422.20,186.25 422.80,186.14 423.40,186.06 424.00,186.02 424.60,186.00 425.20,186.01 425.80,186.06 426.40,186.12 427.00,186.22 427.60,186.33 428.20,186.47 428.80,186.64 429.40,186.82 430.00,187.03 430.60,187.25 431.20,187.49 431.80,187.75 432.40,188.03 433.00,188.32 433.60,188.63 434.20,188.95 434.80,189.28 435.40,189.62 436.00,189.98 436.60,190.34 437.20,190.72 437.80,191.10 438.40,191.48 439.00,191.87 439.60,192.27 440.20,192.67 440.80,193.07 441.40,193.48 442.00,193.89 442.60,194.29 443.20,194.69 443.80,195.10 444.40,195.49 445.00,195.89 445.60,196.28 446.20,196.66 446.80,197.03 447.40,197.40 448.00,197.76 448.60,198.11 449.20,198.44 449.80,198.77 450.40,199.08 451.00,199.38 451.60,199.66 452.20,199.92 452.80,200.17 453.40,200.40 454.00,200.61 454.60,200.80 455.20,200.97 455.80,201.12 456.40,201.25 457.00,201.35 457.60,201.43 458.20,201.48 458.80,201.50 459.40,201.50 460.00,201.48 460.60,201.45 461.20,201.41 461.80,201.35 462.40,201.28 463.00,201.20 463.60,201.11 464.20,201.00 464.80,200.89 465.40,200.77 466.00,200.63 466.60,200.49 467.20,200.34 467.80,200.19 468.40,200.02 469.00,199.85 469.60,199.68 470.20,199.49 470.80,199.31 471.40,199.11 472.00,198.92 472.60,198.72 473.20,198.51 473.80,198.31 474.40,198.10 475.00,197.89 475.60,197.68 476.20,197.47 476.80,197.26 477.40,197.05 478.00,196.84 478.60,196.63 479.20,196.42 479.80,196.22 480.40,196.02 481.00,195.82 481.60,195.63 482.20,195.44 482.80,195.25 483.40,195.08 484.00,194.90 484.60,194.74 485.20,194.58 485.80,194.43 486.40,194.29 487.00,194.15 487.60,194.03 488.20,193.91 488.80,193.81 489.40,193.72 490.00,193.63 490.60,193.56 491.20,193.50 491.80,193.46 492.40,193.42 493.00,193.41 493.60,193.40 494.20,193.41 494.80,193.42 495.40,193.44 496.00,193.47 496.60,193.50 497.20,193.54 497.80,193.59 498.40,193.64 499.00,193.70 499.60,193.76 500.20,193.83 500.80,193.90 501.40,193.97 502.00,194.05 502.60,194.13 503.20,194.21 503.80,194.30 504.40,194.39 505.00,194.48 505.60,194.57 506.20,194.66 506.80,194.75 507.40,194.84 508.00,194.94 508.60,195.03 509.20,195.12 509.80,195.21 510.40,195.29 511.00,195.38 511.60,195.46 512.20,195.54 512.80,195.62 513.40,195.69 514.00,195.76 514.60,195.82 515.20,195.88 515.80,195.94 516.40,195.99 517.00,196.03 517.60,196.07 518.20,196.10 518.80,196.13 519.40,196.16 520.00,196.18 520.60,196.21 521.20,196.24 521.80,196.26 522.40,196.29 523.00,196.32 523.60,196.34 524.20,196.37 524.80,196.39 525.40,196.42 526.00,196.44 526.60,196.47 527.20,196.49 527.80,196.51 528.40,196.53 529.00,196.55 529.60,196.58 530.20,196.60 530.80,196.61 531.40,196.63 532.00,196.65 532.60,196.67 533.20,196.68 533.80,196.70 534.40,196.71 535.00,196.73 535.60,196.74 536.20,196.75 536.80,196.76 537.40,196.77 538.00,196.78 538.60,196.78 539.20,196.79 539.80,196.79 540.40,196.80 541.00,196.80 541.60,196.80 541.70,196.80" stroke="#231f20" stroke-width="1.3" fill="none" stroke-linejoin="round"/>
<path d="M292.00,195.68 292.60,195.90 293.20,196.11 293.80,196.31 294.40,196.51 295.00,196.71 295.60,196.90 296.20,197.08 296.80,197.26 297.40,197.44 298.00,197.61 298.60,197.77 299.20,197.93 299.80,198.08 300.40,198.23 301.00,198.38 301.60,198.52 302.20,198.65 302.80,198.78 303.40,198.91 304.00,199.03 304.60,199.15 305.20,199.26 305.80,199.36 306.40,199.46 307.00,199.56 307.60,199.65 308.20,199.74 308.80,199.82 309.40,199.90 310.00,199.97 310.60,200.04 311.20,200.10 311.80,200.16 312.40,200.21 313.00,200.26 313.60,200.31 314.20,200.35 314.80,200.38 315.40,200.41 316.00,200.44 316.60,200.46 317.20,200.48 317.80,200.49 318.40,200.50 319.00,200.50 319.60,200.49 320.20,200.48 320.80,200.44 321.40,200.39 322.00,200.33 322.60,200.26 323.20,200.17 323.80,200.07 324.40,199.96 325.00,199.84 325.60,199.71 326.20,199.56 326.80,199.41 327.40,199.25 328.00,199.08 328.60,198.90 329.20,198.71 329.80,198.52 330.40,198.31 331.00,198.10 331.60,197.89 332.20,197.67 332.80,197.44 333.40,197.21 334.00,196.97 334.60,196.73 335.20,196.49 335.80,196.24 336.40,195.99 337.00,195.74 337.60,195.49 338.20,195.23 338.80,194.98 339.40,194.72 340.00,194.46 340.60,194.21 341.20,193.95 341.80,193.70 342.40,193.45 343.00,193.20 343.60,192.95 344.20,192.71 344.80,192.47 345.40,192.23 346.00,192.00 346.60,191.77 347.20,191.55 347.80,191.33 348.40,191.12 349.00,190.92 349.60,190.72 350.20,190.53 350.80,190.35 351.40,190.18 352.00,190.01 352.60,189.86 353.20,189.72 353.80,189.58 354.40,189.46 355.00,189.35 355.60,189.25 356.20,189.16 356.80,189.08 357.40,189.02 358.00,188.97 358.60,188.93 359.20,188.91 359.80,188.90 360.40,188.92 361.00,188.97 361.60,189.05 362.20,189.17 362.80,189.31 363.40,189.48 364.00,189.68 364.60,189.91 365.20,190.16 365.80,190.43 366.40,190.73 367.00,191.05 367.60,191.39 368.20,191.74 368.80,192.12 369.40,192.51 370.00,192.91 370.60,193.33 371.20,193.76 371.80,194.21 372.40,194.66 373.00,195.12 373.60,195.59 374.20,196.06 374.80,196.54 375.40,197.03 376.00,197.51 376.60,198.00 377.20,198.49 377.80,198.97 378.40,199.46 379.00,199.94 379.60,200.41 380.20,200.88 380.80,201.34 381.40,201.79 382.00,202.24 382.60,202.67 383.20,203.09 383.80,203.49 384.40,203.88 385.00,204.26 385.60,204.61 386.20,204.95 386.80,205.27 387.40,205.57 388.00,205.84 388.60,206.09 389.20,206.32 389.80,206.52 390.40,206.69 391.00,206.83 391.60,206.95 392.20,207.03 392.80,207.08 393.40,207.10 394.00,207.08 394.60,207.03 395.20,206.95 395.80,206.83 396.40,206.68 397.00,206.50 397.60,206.30 398.20,206.06 398.80,205.80 399.40,205.52 400.00,205.21 400.60,204.88 401.20,204.52 401.80,204.15 402.40,203.76 403.00,203.34 403.60,202.91 404.20,202.47 404.80,202.01 405.40,201.54 406.00,201.05 406.60,200.55 407.20,200.05 407.80,199.53 408.40,199.00 409.00,198.47 409.60,197.94 410.20,197.39 410.80,196.85 411.40,196.30 412.00,195.75 412.60,195.21 413.20,194.66 413.80,194.12 414.40,193.57 415.00,193.04 415.60,192.51 416.20,191.98 416.80,191.47 417.40,190.96 418.00,190.47 418.60,189.98 419.20,189.51 419.80,189.06 420.40,188.61 421.00,188.19 421.60,187.78 422.20,187.39 422.80,187.02 423.40,186.67 424.00,186.34 424.60,186.03 425.20,185.75 425.80,185.50 426.40,185.27 427.00,185.07 427.60,184.89 428.20,184.75 428.80,184.64 429.40,184.56 430.00,184.51 430.60,184.50 431.20,184.52 431.80,184.57 432.40,184.65 433.00,184.75 433.60,184.88 434.20,185.04 434.80,185.22 435.40,185.42 436.00,185.65 436.60,185.89 437.20,186.16 437.80,186.45 438.40,186.76 439.00,187.08 439.60,187.42 440.20,187.78 440.80,188.15 441.40,188.53 442.00,188.93 442.60,189.34 443.20,189.76 443.80,190.19 444.40,190.63 445.00,191.08 445.60,191.53 446.20,192.00 446.80,192.46 447.40,192.93 448.00,193.41 448.60,193.88 449.20,194.36 449.80,194.84 450.40,195.32 451.00,195.79 451.60,196.27 452.20,196.74 452.80,197.20 453.40,197.67 454.00,198.12 454.60,198.57 455.20,199.01 455.80,199.44 456.40,199.86 457.00,200.27 457.60,200.67 458.20,201.05 458.80,201.42 459.40,201.78 460.00,202.12 460.60,202.44 461.20,202.75 461.80,203.04 462.40,203.31 463.00,203.55 463.60,203.78 464.20,203.98 464.80,204.16 465.40,204.32 466.00,204.45 466.60,204.55 467.20,204.63 467.80,204.68 468.40,204.70 469.00,204.69 469.60,204.66 470.20,204.61 470.80,204.54 471.40,204.44 472.00,204.33 472.60,204.20 473.20,204.05 473.80,203.89 474.40,203.70 475.00,203.51 475.60,203.30 476.20,203.07 476.80,202.83 477.40,202.58 478.00,202.32 478.60,202.05 479.20,201.77 479.80,201.48 480.40,201.18 481.00,200.88 481.60,200.57 482.20,200.25 482.80,199.93 483.40,199.60 484.00,199.27 484.60,198.94 485.20,198.61 485.80,198.27 486.40,197.94 487.00,197.61 487.60,197.27 488.20,196.95 488.80,196.62 489.40,196.30 490.00,195.98 490.60,195.67 491.20,195.37 491.80,195.07 492.40,194.78 493.00,194.50 493.60,194.23 494.20,193.97 494.80,193.73 495.40,193.49 496.00,193.27 496.60,193.06 497.20,192.86 497.80,192.68 498.40,192.52 499.00,192.38 499.60,192.25 500.20,192.14 500.80,192.05 501.40,191.98 502.00,191.93 502.60,191.91 503.20,191.90 503.80,191.90 504.40,191.90 505.00,191.90 505.60,191.90 506.20,191.90 506.80,191.90 507.40,191.91 508.00,191.91 508.60,191.91 509.20,191.92 509.80,191.92 510.40,191.93 511.00,191.94 511.60,191.95 512.20,191.96 512.80,191.97 513.40,191.99 514.00,192.01 514.60,192.02 515.20,192.04 515.80,192.07 516.40,192.09 517.00,192.12 517.60,192.15 518.20,192.18 518.80,192.21 519.40,192.25 520.00,192.29 520.60,192.33 521.20,192.38 521.80,192.43 522.40,192.48 523.00,192.53 523.60,192.59 524.20,192.66 524.80,192.72 525.40,192.79 526.00,192.87 526.60,192.94 527.20,193.02 527.80,193.11 528.40,193.20 529.00,193.29 529.60,193.39 530.20,193.50 530.80,193.61 531.40,193.72 532.00,193.84 532.60,193.96 533.20,194.09 533.80,194.22 534.40,194.36 535.00,194.50 535.60,194.65 536.20,194.80 536.80,194.96 537.40,195.13 538.00,195.30 538.60,195.48 539.20,195.66 539.80,195.86 540.40,196.05 541.00,196.25 541.60,196.46 541.70,196.50" stroke="#2b2bff" stroke-width="1.3" fill="none" stroke-dasharray="3.6 2.4"/>
<path d="M292.00,196.43 292.60,196.70 293.20,196.96 293.80,197.22 294.40,197.47 295.00,197.71 295.60,197.95 296.20,198.18 296.80,198.40 297.40,198.61 298.00,198.82 298.60,199.02 299.20,199.21 299.80,199.40 300.40,199.58 301.00,199.75 301.60,199.91 302.20,200.07 302.80,200.22 303.40,200.36 304.00,200.50 304.60,200.62 305.20,200.74 305.80,200.85 306.40,200.96 307.00,201.05 307.60,201.14 308.20,201.22 308.80,201.30 309.40,201.36 310.00,201.42 310.60,201.47 311.20,201.51 311.80,201.55 312.40,201.57 313.00,201.59 313.60,201.60 314.20,201.60 314.80,201.58 315.40,201.55 316.00,201.49 316.60,201.41 317.20,201.32 317.80,201.21 318.40,201.09 319.00,200.94 319.60,200.79 320.20,200.62 320.80,200.43 321.40,200.23 322.00,200.02 322.60,199.80 323.20,199.56 323.80,199.31 324.40,199.06 325.00,198.79 325.60,198.52 326.20,198.24 326.80,197.95 327.40,197.66 328.00,197.35 328.60,197.05 329.20,196.74 329.80,196.42 330.40,196.10 331.00,195.78 331.60,195.46 332.20,195.13 332.80,194.80 333.40,194.48 334.00,194.15 334.60,193.83 335.20,193.51 335.80,193.19 336.40,192.87 337.00,192.56 337.60,192.25 338.20,191.94 338.80,191.65 339.40,191.36 340.00,191.07 340.60,190.80 341.20,190.53 341.80,190.27 342.40,190.02 343.00,189.78 343.60,189.55 344.20,189.34 344.80,189.14 345.40,188.95 346.00,188.77 346.60,188.61 347.20,188.46 347.80,188.33 348.40,188.21 349.00,188.11 349.60,188.03 350.20,187.97 350.80,187.93 351.40,187.90 352.00,187.90 352.60,187.93 353.20,187.99 353.80,188.08 354.40,188.21 355.00,188.36 355.60,188.54 356.20,188.74 356.80,188.98 357.40,189.24 358.00,189.52 358.60,189.82 359.20,190.14 359.80,190.49 360.40,190.85 361.00,191.23 361.60,191.63 362.20,192.04 362.80,192.47 363.40,192.91 364.00,193.36 364.60,193.83 365.20,194.30 365.80,194.78 366.40,195.27 367.00,195.77 367.60,196.27 368.20,196.77 368.80,197.28 369.40,197.79 370.00,198.30 370.60,198.81 371.20,199.31 371.80,199.82 372.40,200.32 373.00,200.81 373.60,201.30 374.20,201.78 374.80,202.25 375.40,202.71 376.00,203.16 376.60,203.60 377.20,204.03 377.80,204.44 378.40,204.83 379.00,205.21 379.60,205.57 380.20,205.91 380.80,206.23 381.40,206.53 382.00,206.81 382.60,207.06 383.20,207.29 383.80,207.49 384.40,207.67 385.00,207.82 385.60,207.93 386.20,208.02 386.80,208.08 387.40,208.10 388.00,208.09 388.60,208.04 389.20,207.95 389.80,207.82 390.40,207.67 391.00,207.48 391.60,207.26 392.20,207.00 392.80,206.72 393.40,206.42 394.00,206.08 394.60,205.72 395.20,205.34 395.80,204.93 396.40,204.51 397.00,204.06 397.60,203.60 398.20,203.12 398.80,202.62 399.40,202.11 400.00,201.59 400.60,201.05 401.20,200.51 401.80,199.95 402.40,199.39 403.00,198.82 403.60,198.24 404.20,197.66 404.80,197.08 405.40,196.50 406.00,195.92 406.60,195.34 407.20,194.76 407.80,194.19 408.40,193.62 409.00,193.06 409.60,192.50 410.20,191.96 410.80,191.42 411.40,190.90 412.00,190.39 412.60,189.90 413.20,189.42 413.80,188.96 414.40,188.52 415.00,188.10 415.60,187.69 416.20,187.32 416.80,186.96 417.40,186.63 418.00,186.33 418.60,186.05 419.20,185.81 419.80,185.59 420.40,185.40 421.00,185.25 421.60,185.14 422.20,185.05 422.80,185.01 423.40,185.00 424.00,185.03 424.60,185.09 425.20,185.17 425.80,185.29 426.40,185.44 427.00,185.61 427.60,185.80 428.20,186.02 428.80,186.27 429.40,186.54 430.00,186.82 430.60,187.13 431.20,187.46 431.80,187.81 432.40,188.17 433.00,188.55 433.60,188.94 434.20,189.35 434.80,189.76 435.40,190.19 436.00,190.63 436.60,191.08 437.20,191.54 437.80,192.01 438.40,192.48 439.00,192.95 439.60,193.43 440.20,193.91 440.80,194.40 441.40,194.88 442.00,195.37 442.60,195.85 443.20,196.33 443.80,196.80 444.40,197.27 445.00,197.73 445.60,198.19 446.20,198.64 446.80,199.08 447.40,199.51 448.00,199.92 448.60,200.33 449.20,200.72 449.80,201.09 450.40,201.45 451.00,201.80 451.60,202.12 452.20,202.43 452.80,202.71 453.40,202.97 454.00,203.21 454.60,203.43 455.20,203.62 455.80,203.79 456.40,203.93 457.00,204.04 457.60,204.13 458.20,204.18 458.80,204.20 459.40,204.19 460.00,204.17 460.60,204.14 461.20,204.09 461.80,204.03 462.40,203.96 463.00,203.87 463.60,203.77 464.20,203.66 464.80,203.53 465.40,203.40 466.00,203.26 466.60,203.10 467.20,202.94 467.80,202.77 468.40,202.59 469.00,202.40 469.60,202.20 470.20,202.00 470.80,201.78 471.40,201.57 472.00,201.34 472.60,201.11 473.20,200.88 473.80,200.64 474.40,200.40 475.00,200.15 475.60,199.90 476.20,199.65 476.80,199.39 477.40,199.14 478.00,198.88 478.60,198.62 479.20,198.36 479.80,198.10 480.40,197.84 481.00,197.58 481.60,197.32 482.20,197.06 482.80,196.81 483.40,196.56 484.00,196.31 484.60,196.06 485.20,195.82 485.80,195.58 486.40,195.35 487.00,195.12 487.60,194.90 488.20,194.68 488.80,194.47 489.40,194.27 490.00,194.07 490.60,193.88 491.20,193.70 491.80,193.53 492.40,193.37 493.00,193.22 493.60,193.08 494.20,192.94 494.80,192.82 495.40,192.71 496.00,192.62 496.60,192.53 497.20,192.46 497.80,192.40 498.40,192.35 499.00,192.32 499.60,192.30 500.20,192.30 500.80,192.30 501.40,192.30 502.00,192.30 502.60,192.31 503.20,192.31 503.80,192.31 504.40,192.32 505.00,192.32 505.60,192.33 506.20,192.34 506.80,192.35 507.40,192.36 508.00,192.37 508.60,192.38 509.20,192.39 509.80,192.41 510.40,192.43 511.00,192.44 511.60,192.46 512.20,192.49 512.80,192.51 513.40,192.54 514.00,192.56 514.60,192.59 515.20,192.63 515.80,192.66 516.40,192.70 517.00,192.73 517.60,192.77 518.20,192.82 518.80,192.86 519.40,192.91 520.00,192.96 520.60,193.01 521.20,193.07 521.80,193.13 522.40,193.19 523.00,193.26 523.60,193.32 524.20,193.39 524.80,193.47 525.40,193.54 526.00,193.62 526.60,193.71 527.20,193.80 527.80,193.89 528.40,193.98 529.00,194.08 529.60,194.18 530.20,194.28 530.80,194.39 531.40,194.50 532.00,194.62 532.60,194.74 533.20,194.86 533.80,194.99 534.40,195.13 535.00,195.26 535.60,195.40 536.20,195.55 536.80,195.70 537.40,195.85 538.00,196.01 538.60,196.18 539.20,196.35 539.80,196.52 540.40,196.70 541.00,196.88 541.60,197.07 541.70,197.10" stroke="#ee1c24" stroke-width="1.2" fill="none" stroke-linejoin="round"/>
<path d="M291.5,182.2 V210.4 H541.7" stroke="#888888" stroke-width="1" fill="none"/>
<path d="M291.5,186.7 H294.5" stroke="#888888" stroke-width="0.8"/>
<text x="290.20" y="189.50" font-family="&quot;Liberation Sans&quot;, sans-serif" font-size="7.9" text-anchor="end" fill="#231f20" stroke="#231f20" stroke-width="0.22">5</text>
<path d="M291.5,196.6 H294.5" stroke="#888888" stroke-width="0.8"/>
<text x="290.20" y="199.40" font-family="&quot;Liberation Sans&quot;, sans-serif" font-size="7.9" text-anchor="end" fill="#231f20" stroke="#231f20" stroke-width="0.22">0</text>
<path d="M291.5,206.6 H294.5" stroke="#888888" stroke-width="0.8"/>
<text x="290.20" y="209.40" font-family="&quot;Liberation Sans&quot;, sans-serif" font-size="7.9" text-anchor="end" fill="#231f20" stroke="#231f20" stroke-width="0.22">−5</text>
<text x="291.80" y="180.0" font-family="&quot;Liberation Sans&quot;, sans-serif" font-size="7.4" text-anchor="start" fill="#231f20" stroke="#231f20" stroke-width="0.22">x</text>
<text x="298.40" y="180.0" font-family="&quot;Liberation Sans&quot;, sans-serif" font-size="7.6" text-anchor="start" fill="#231f20" stroke="#231f20" stroke-width="0.22" textLength="7.7" lengthAdjust="spacingAndGlyphs">10</text>
<text x="307.00" y="175.50" font-family="&quot;Liberation Sans&quot;, sans-serif" font-size="5.0" text-anchor="start" fill="#231f20" stroke="#231f20" stroke-width="0.22">4</text>
<text x="393.3" y="176.0" font-family="&quot;Liberation Sans&quot;, sans-serif" font-size="9.2" text-anchor="start" fill="#231f20" stroke="#231f20" stroke-width="0.22" textLength="32.4" lengthAdjust="spacingAndGlyphs">Tc=40 s</text>
<rect x="291.5" y="235.3" width="250.20" height="26.80" fill="#f3f3f3"/>
<path d="M292.00,251.99 292.60,251.86 293.20,251.73 293.80,251.60 294.40,251.48 295.00,251.37 295.60,251.25 296.20,251.14 296.80,251.04 297.40,250.94 298.00,250.84 298.60,250.74 299.20,250.65 299.80,250.56 300.40,250.48 301.00,250.40 301.60,250.33 302.20,250.25 302.80,250.18 303.40,250.12 304.00,250.06 304.60,250.00 305.20,249.95 305.80,249.90 306.40,249.85 307.00,249.81 307.60,249.77 308.20,249.74 308.80,249.71 309.40,249.68 310.00,249.66 310.60,249.64 311.20,249.62 311.80,249.61 312.40,249.60 313.00,249.60 313.60,249.60 314.20,249.61 314.80,249.63 315.40,249.66 316.00,249.70 316.60,249.74 317.20,249.79 317.80,249.85 318.40,249.91 319.00,249.98 319.60,250.05 320.20,250.12 320.80,250.19 321.40,250.26 322.00,250.34 322.60,250.41 323.20,250.48 323.80,250.54 324.40,250.61 325.00,250.67 325.60,250.72 326.20,250.77 326.80,250.81 327.40,250.85 328.00,250.88 328.60,250.89 329.20,250.90 329.80,250.89 330.40,250.86 331.00,250.82 331.60,250.75 332.20,250.66 332.80,250.56 333.40,250.44 334.00,250.30 334.60,250.15 335.20,249.98 335.80,249.80 336.40,249.61 337.00,249.41 337.60,249.20 338.20,248.98 338.80,248.75 339.40,248.51 340.00,248.27 340.60,248.02 341.20,247.76 341.80,247.50 342.40,247.24 343.00,246.98 343.60,246.71 344.20,246.44 344.80,246.18 345.40,245.92 346.00,245.65 346.60,245.40 347.20,245.14 347.80,244.89 348.40,244.65 349.00,244.41 349.60,244.18 350.20,243.96 350.80,243.75 351.40,243.55 352.00,243.36 352.60,243.19 353.20,243.03 353.80,242.88 354.40,242.74 355.00,242.62 355.60,242.52 356.20,242.44 356.80,242.38 357.40,242.33 358.00,242.30 358.60,242.30 359.20,242.34 359.80,242.41 360.40,242.53 361.00,242.68 361.60,242.87 362.20,243.09 362.80,243.34 363.40,243.63 364.00,243.94 364.60,244.28 365.20,244.64 365.80,245.03 366.40,245.44 367.00,245.87 367.60,246.32 368.20,246.78 368.80,247.26 369.40,247.75 370.00,248.26 370.60,248.77 371.20,249.29 371.80,249.82 372.40,250.35 373.00,250.89 373.60,251.42 374.20,251.96 374.80,252.49 375.40,253.02 376.00,253.54 376.60,254.06 377.20,254.56 377.80,255.06 378.40,255.54 379.00,256.01 379.60,256.46 380.20,256.89 380.80,257.30 381.40,257.69 382.00,258.06 382.60,258.41 383.20,258.72 383.80,259.01 384.40,259.27 385.00,259.50 385.60,259.69 386.20,259.85 386.80,259.97 387.40,260.05 388.00,260.09 388.60,260.09 389.20,260.05 389.80,259.95 390.40,259.81 391.00,259.63 391.60,259.41 392.20,259.15 392.80,258.85 393.40,258.52 394.00,258.16 394.60,257.76 395.20,257.34 395.80,256.88 396.40,256.40 397.00,255.90 397.60,255.38 398.20,254.84 398.80,254.28 399.40,253.70 400.00,253.11 400.60,252.50 401.20,251.89 401.80,251.27 402.40,250.64 403.00,250.01 403.60,249.37 404.20,248.73 404.80,248.09 405.40,247.46 406.00,246.83 406.60,246.21 407.20,245.60 407.80,244.99 408.40,244.40 409.00,243.82 409.60,243.26 410.20,242.72 410.80,242.20 411.40,241.70 412.00,241.22 412.60,240.76 413.20,240.34 413.80,239.94 414.40,239.58 415.00,239.25 415.60,238.95 416.20,238.69 416.80,238.47 417.40,238.29 418.00,238.15 418.60,238.05 419.20,238.01 419.80,238.01 420.40,238.04 421.00,238.12 421.60,238.24 422.20,238.38 422.80,238.57 423.40,238.78 424.00,239.02 424.60,239.30 425.20,239.60 425.80,239.92 426.40,240.27 427.00,240.65 427.60,241.04 428.20,241.45 428.80,241.89 429.40,242.33 430.00,242.80 430.60,243.27 431.20,243.76 431.80,244.26 432.40,244.77 433.00,245.28 433.60,245.80 434.20,246.33 434.80,246.85 435.40,247.38 436.00,247.91 436.60,248.44 437.20,248.96 437.80,249.48 438.40,249.99 439.00,250.49 439.60,250.98 440.20,251.47 440.80,251.94 441.40,252.39 442.00,252.83 442.60,253.25 443.20,253.66 443.80,254.04 444.40,254.40 445.00,254.74 445.60,255.06 446.20,255.34 446.80,255.60 447.40,255.83 448.00,256.03 448.60,256.19 449.20,256.33 449.80,256.42 450.40,256.48 451.00,256.50 451.60,256.48 452.20,256.43 452.80,256.35 453.40,256.24 454.00,256.10 454.60,255.93 455.20,255.74 455.80,255.52 456.40,255.28 457.00,255.02 457.60,254.75 458.20,254.45 458.80,254.14 459.40,253.82 460.00,253.48 460.60,253.13 461.20,252.77 461.80,252.41 462.40,252.04 463.00,251.66 463.60,251.28 464.20,250.91 464.80,250.53 465.40,250.15 466.00,249.78 466.60,249.41 467.20,249.05 467.80,248.69 468.40,248.35 469.00,248.02 469.60,247.70 470.20,247.40 470.80,247.11 471.40,246.84 472.00,246.60 472.60,246.37 473.20,246.16 473.80,245.98 474.40,245.83 475.00,245.70 475.60,245.60 476.20,245.54 476.80,245.50 477.40,245.50 478.00,245.52 478.60,245.55 479.20,245.59 479.80,245.65 480.40,245.72 481.00,245.80 481.60,245.89 482.20,246.00 482.80,246.11 483.40,246.23 484.00,246.36 484.60,246.50 485.20,246.65 485.80,246.80 486.40,246.95 487.00,247.11 487.60,247.28 488.20,247.45 488.80,247.62 489.40,247.79 490.00,247.97 490.60,248.14 491.20,248.32 491.80,248.49 492.40,248.67 493.00,248.84 493.60,249.00 494.20,249.17 494.80,249.33 495.40,249.48 496.00,249.63 496.60,249.77 497.20,249.90 497.80,250.03 498.40,250.15 499.00,250.26 499.60,250.35 500.20,250.44 500.80,250.52 501.40,250.58 502.00,250.63 502.60,250.67 503.20,250.69 503.80,250.70 504.40,250.69 505.00,250.68 505.60,250.65 506.20,250.61 506.80,250.57 507.40,250.51 508.00,250.45 508.60,250.38 509.20,250.31 509.80,250.22 510.40,250.13 511.00,250.04 511.60,249.94 512.20,249.84 512.80,249.73 513.40,249.62 514.00,249.51 514.60,249.39 515.20,249.28 515.80,249.16 516.40,249.04 517.00,248.92 517.60,248.81 518.20,248.69 518.80,248.58 519.40,248.47 520.00,248.36 520.60,248.26 521.20,248.16 521.80,248.07 522.40,247.98 523.00,247.89 523.60,247.82 524.20,247.75 524.80,247.69 525.40,247.63 526.00,247.59 526.60,247.55 527.20,247.52 527.80,247.51 528.40,247.50 529.00,247.50 529.60,247.52 530.20,247.54 530.80,247.57 531.40,247.61 532.00,247.65 532.60,247.70 533.20,247.76 533.80,247.83 534.40,247.90 535.00,247.98 535.60,248.06 536.20,248.16 536.80,248.25 537.40,248.35 538.00,248.46 538.60,248.57 539.20,248.68 539.80,248.80 540.40,248.92 541.00,249.05 541.60,249.18 541.70,249.20" stroke="#231f20" stroke-width="1.3" fill="none" stroke-linejoin="round"/>
<path d="M292.00,249.20 292.60,249.21 293.20,249.21 293.80,249.22 294.40,249.22 295.00,249.23 295.60,249.23 296.20,249.24 296.80,249.24 297.40,249.25 298.00,249.26 298.60,249.26 299.20,249.27 299.80,249.27 300.40,249.28 301.00,249.28 301.60,249.29 302.20,249.30 302.80,249.30 303.40,249.31 304.00,249.31 304.60,249.32 305.20,249.33 305.80,249.33 306.40,249.34 307.00,249.35 307.60,249.35 308.20,249.36 308.80,249.37 309.40,249.37 310.00,249.38 310.60,249.39 311.20,249.39 311.80,249.40 312.40,249.41 313.00,249.41 313.60,249.42 314.20,249.43 314.80,249.44 315.40,249.44 316.00,249.45 316.60,249.46 317.20,249.46 317.80,249.47 318.40,249.48 319.00,249.49 319.60,249.49 320.20,249.50 320.80,249.51 321.40,249.52 322.00,249.53 322.60,249.54 323.20,249.55 323.80,249.56 324.40,249.57 325.00,249.58 325.60,249.59 326.20,249.61 326.80,249.62 327.40,249.63 328.00,249.64 328.60,249.65 329.20,249.67 329.80,249.68 330.40,249.69 331.00,249.71 331.60,249.72 332.20,249.73 332.80,249.74 333.40,249.76 334.00,249.77 334.60,249.78 335.20,249.79 335.80,249.80 336.40,249.81 337.00,249.82 337.60,249.83 338.20,249.84 338.80,249.85 339.40,249.86 340.00,249.87 340.60,249.87 341.20,249.88 341.80,249.88 342.40,249.89 343.00,249.89 343.60,249.90 344.20,249.90 344.80,249.90 345.40,249.90 346.00,249.88 346.60,249.84 347.20,249.77 347.80,249.68 348.40,249.57 349.00,249.44 349.60,249.30 350.20,249.13 350.80,248.96 351.40,248.76 352.00,248.56 352.60,248.35 353.20,248.12 353.80,247.89 354.40,247.66 355.00,247.42 355.60,247.17 356.20,246.93 356.80,246.69 357.40,246.44 358.00,246.20 358.60,245.97 359.20,245.74 359.80,245.52 360.40,245.31 361.00,245.10 361.60,244.91 362.20,244.74 362.80,244.58 363.40,244.43 364.00,244.31 364.60,244.20 365.20,244.12 365.80,244.05 366.40,244.01 367.00,244.00 367.60,244.02 368.20,244.07 368.80,244.15 369.40,244.26 370.00,244.40 370.60,244.57 371.20,244.77 371.80,244.99 372.40,245.24 373.00,245.51 373.60,245.80 374.20,246.11 374.80,246.44 375.40,246.78 376.00,247.15 376.60,247.53 377.20,247.92 377.80,248.32 378.40,248.74 379.00,249.17 379.60,249.60 380.20,250.05 380.80,250.49 381.40,250.95 382.00,251.41 382.60,251.87 383.20,252.33 383.80,252.79 384.40,253.25 385.00,253.70 385.60,254.16 386.20,254.60 386.80,255.04 387.40,255.48 388.00,255.90 388.60,256.31 389.20,256.71 389.80,257.10 390.40,257.48 391.00,257.83 391.60,258.18 392.20,258.50 392.80,258.80 393.40,259.09 394.00,259.35 394.60,259.59 395.20,259.80 395.80,259.99 396.40,260.15 397.00,260.28 397.60,260.38 398.20,260.45 398.80,260.49 399.40,260.50 400.00,260.45 400.60,260.35 401.20,260.19 401.80,259.98 402.40,259.73 403.00,259.43 403.60,259.08 404.20,258.70 404.80,258.27 405.40,257.81 406.00,257.32 406.60,256.79 407.20,256.24 407.80,255.66 408.40,255.06 409.00,254.43 409.60,253.79 410.20,253.13 410.80,252.45 411.40,251.76 412.00,251.06 412.60,250.36 413.20,249.65 413.80,248.94 414.40,248.23 415.00,247.52 415.60,246.82 416.20,246.12 416.80,245.44 417.40,244.76 418.00,244.10 418.60,243.46 419.20,242.84 419.80,242.24 420.40,241.66 421.00,241.12 421.60,240.60 422.20,240.11 422.80,239.65 423.40,239.24 424.00,238.86 424.60,238.52 425.20,238.23 425.80,237.98 426.40,237.78 427.00,237.63 427.60,237.54 428.20,237.50 428.80,237.51 429.40,237.56 430.00,237.64 430.60,237.76 431.20,237.91 431.80,238.09 432.40,238.30 433.00,238.54 433.60,238.80 434.20,239.09 434.80,239.40 435.40,239.74 436.00,240.09 436.60,240.47 437.20,240.87 437.80,241.28 438.40,241.70 439.00,242.15 439.60,242.60 440.20,243.07 440.80,243.54 441.40,244.03 442.00,244.52 442.60,245.02 443.20,245.52 443.80,246.03 444.40,246.54 445.00,247.05 445.60,247.56 446.20,248.06 446.80,248.56 447.40,249.06 448.00,249.55 448.60,250.04 449.20,250.51 449.80,250.98 450.40,251.43 451.00,251.87 451.60,252.29 452.20,252.70 452.80,253.09 453.40,253.47 454.00,253.82 454.60,254.15 455.20,254.46 455.80,254.75 456.40,255.00 457.00,255.24 457.60,255.44 458.20,255.62 458.80,255.76 459.40,255.87 460.00,255.95 460.60,255.99 461.20,256.00 461.80,255.98 462.40,255.93 463.00,255.85 463.60,255.75 464.20,255.63 464.80,255.49 465.40,255.32 466.00,255.14 466.60,254.94 467.20,254.72 467.80,254.49 468.40,254.24 469.00,253.98 469.60,253.70 470.20,253.42 470.80,253.13 471.40,252.82 472.00,252.51 472.60,252.20 473.20,251.88 473.80,251.55 474.40,251.23 475.00,250.90 475.60,250.57 476.20,250.25 476.80,249.92 477.40,249.60 478.00,249.29 478.60,248.98 479.20,248.67 479.80,248.38 480.40,248.10 481.00,247.82 481.60,247.56 482.20,247.31 482.80,247.08 483.40,246.86 484.00,246.66 484.60,246.48 485.20,246.31 485.80,246.17 486.40,246.05 487.00,245.95 487.60,245.87 488.20,245.82 488.80,245.80 489.40,245.80 490.00,245.81 490.60,245.83 491.20,245.85 491.80,245.88 492.40,245.92 493.00,245.96 493.60,246.01 494.20,246.07 494.80,246.13 495.40,246.19 496.00,246.26 496.60,246.34 497.20,246.42 497.80,246.50 498.40,246.59 499.00,246.68 499.60,246.78 500.20,246.88 500.80,246.98 501.40,247.08 502.00,247.18 502.60,247.29 503.20,247.40 503.80,247.51 504.40,247.62 505.00,247.73 505.60,247.85 506.20,247.96 506.80,248.07 507.40,248.18 508.00,248.30 508.60,248.41 509.20,248.52 509.80,248.63 510.40,248.73 511.00,248.84 511.60,248.94 512.20,249.04 512.80,249.14 513.40,249.23 514.00,249.32 514.60,249.41 515.20,249.49 515.80,249.57 516.40,249.65 517.00,249.72 517.60,249.78 518.20,249.84 518.80,249.90 519.40,249.95 520.00,249.99 520.60,250.02 521.20,250.05 521.80,250.08 522.40,250.09 523.00,250.10 523.60,250.10 524.20,250.10 524.80,250.10 525.40,250.09 526.00,250.08 526.60,250.08 527.20,250.07 527.80,250.06 528.40,250.04 529.00,250.03 529.60,250.01 530.20,249.99 530.80,249.97 531.40,249.95 532.00,249.92 532.60,249.90 533.20,249.87 533.80,249.84 534.40,249.80 535.00,249.77 535.60,249.73 536.20,249.69 536.80,249.65 537.40,249.60 538.00,249.55 538.60,249.50 539.20,249.45 539.80,249.39 540.40,249.34 541.00,249.27 541.60,249.21 541.70,249.20" stroke="#2b2bff" stroke-width="1.3" fill="none" stroke-dasharray="3.6 2.4"/>
<path d="M292.00,249.20 292.60,249.21 293.20,249.21 293.80,249.22 294.40,249.22 295.00,249.23 295.60,249.24 296.20,249.25 296.80,249.26 297.40,249.27 298.00,249.28 298.60,249.30 299.20,249.31 299.80,249.33 300.40,249.34 301.00,249.36 301.60,249.38 302.20,249.40 302.80,249.41 303.40,249.43 304.00,249.45 304.60,249.47 305.20,249.50 305.80,249.52 306.40,249.54 307.00,249.56 307.60,249.58 308.20,249.61 308.80,249.63 309.40,249.65 310.00,249.68 310.60,249.70 311.20,249.73 311.80,249.75 312.40,249.78 313.00,249.80 313.60,249.83 314.20,249.86 314.80,249.90 315.40,249.94 316.00,249.98 316.60,250.03 317.20,250.09 317.80,250.14 318.40,250.20 319.00,250.25 319.60,250.31 320.20,250.37 320.80,250.44 321.40,250.50 322.00,250.56 322.60,250.61 323.20,250.67 323.80,250.73 324.40,250.78 325.00,250.83 325.60,250.88 326.20,250.93 326.80,250.97 327.40,251.00 328.00,251.03 328.60,251.06 329.20,251.08 329.80,251.09 330.40,251.10 331.00,251.10 331.60,251.08 332.20,251.04 332.80,250.98 333.40,250.90 334.00,250.81 334.60,250.70 335.20,250.57 335.80,250.43 336.40,250.28 337.00,250.11 337.60,249.94 338.20,249.75 338.80,249.55 339.40,249.34 340.00,249.12 340.60,248.90 341.20,248.67 341.80,248.43 342.40,248.19 343.00,247.94 343.60,247.69 344.20,247.44 344.80,247.19 345.40,246.94 346.00,246.68 346.60,246.43 347.20,246.18 347.80,245.93 348.40,245.69 349.00,245.45 349.60,245.22 350.20,244.99 350.80,244.77 351.40,244.56 352.00,244.35 352.60,244.16 353.20,243.97 353.80,243.80 354.40,243.64 355.00,243.50 355.60,243.36 356.20,243.25 356.80,243.14 357.40,243.06 358.00,242.99 358.60,242.94 359.20,242.91 359.80,242.90 360.40,242.92 361.00,242.97 361.60,243.06 362.20,243.19 362.80,243.34 363.40,243.53 364.00,243.74 364.60,243.98 365.20,244.25 365.80,244.54 366.40,244.86 367.00,245.20 367.60,245.56 368.20,245.93 368.80,246.33 369.40,246.74 370.00,247.17 370.60,247.60 371.20,248.06 371.80,248.52 372.40,248.99 373.00,249.46 373.60,249.95 374.20,250.43 374.80,250.93 375.40,251.42 376.00,251.91 376.60,252.40 377.20,252.89 377.80,253.38 378.40,253.86 379.00,254.33 379.60,254.79 380.20,255.25 380.80,255.69 381.40,256.12 382.00,256.54 382.60,256.94 383.20,257.32 383.80,257.68 384.40,258.03 385.00,258.35 385.60,258.65 386.20,258.93 386.80,259.18 387.40,259.41 388.00,259.60 388.60,259.77 389.20,259.90 389.80,260.00 390.40,260.07 391.00,260.10 391.60,260.09 392.20,260.02 392.80,259.89 393.40,259.71 394.00,259.48 394.60,259.20 395.20,258.87 395.80,258.50 396.40,258.09 397.00,257.64 397.60,257.16 398.20,256.64 398.80,256.09 399.40,255.51 400.00,254.90 400.60,254.28 401.20,253.63 401.80,252.96 402.40,252.28 403.00,251.59 403.60,250.89 404.20,250.17 404.80,249.46 405.40,248.74 406.00,248.02 406.60,247.31 407.20,246.60 407.80,245.89 408.40,245.20 409.00,244.52 409.60,243.86 410.20,243.22 410.80,242.59 411.40,241.99 412.00,241.42 412.60,240.88 413.20,240.36 413.80,239.88 414.40,239.44 415.00,239.03 415.60,238.67 416.20,238.35 416.80,238.08 417.40,237.85 418.00,237.68 418.60,237.57 419.20,237.51 419.80,237.50 420.40,237.54 421.00,237.62 421.60,237.73 422.20,237.88 422.80,238.06 423.40,238.27 424.00,238.51 424.60,238.77 425.20,239.07 425.80,239.39 426.40,239.73 427.00,240.10 427.60,240.49 428.20,240.90 428.80,241.32 429.40,241.76 430.00,242.22 430.60,242.69 431.20,243.17 431.80,243.66 432.40,244.17 433.00,244.68 433.60,245.19 434.20,245.71 434.80,246.24 435.40,246.76 436.00,247.29 436.60,247.81 437.20,248.33 437.80,248.85 438.40,249.36 439.00,249.87 439.60,250.37 440.20,250.85 440.80,251.33 441.40,251.79 442.00,252.23 442.60,252.67 443.20,253.08 443.80,253.47 444.40,253.85 445.00,254.20 445.60,254.53 446.20,254.83 446.80,255.11 447.40,255.36 448.00,255.58 448.60,255.77 449.20,255.92 449.80,256.05 450.40,256.14 451.00,256.19 451.60,256.20 452.20,256.18 452.80,256.13 453.40,256.06 454.00,255.96 454.60,255.84 455.20,255.69 455.80,255.53 456.40,255.34 457.00,255.13 457.60,254.91 458.20,254.67 458.80,254.42 459.40,254.15 460.00,253.87 460.60,253.58 461.20,253.28 461.80,252.98 462.40,252.66 463.00,252.34 463.60,252.02 464.20,251.69 464.80,251.36 465.40,251.03 466.00,250.70 466.60,250.37 467.20,250.05 467.80,249.73 468.40,249.42 469.00,249.11 469.60,248.82 470.20,248.53 470.80,248.26 471.40,247.99 472.00,247.75 472.60,247.51 473.20,247.29 473.80,247.10 474.40,246.92 475.00,246.76 475.60,246.62 476.20,246.50 476.80,246.41 477.40,246.35 478.00,246.31 478.60,246.30 479.20,246.31 479.80,246.33 480.40,246.36 481.00,246.40 481.60,246.46 482.20,246.52 482.80,246.59 483.40,246.67 484.00,246.76 484.60,246.86 485.20,246.96 485.80,247.07 486.40,247.18 487.00,247.30 487.60,247.42 488.20,247.55 488.80,247.68 489.40,247.81 490.00,247.94 490.60,248.08 491.20,248.21 491.80,248.35 492.40,248.48 493.00,248.61 493.60,248.75 494.20,248.87 494.80,249.00 495.40,249.12 496.00,249.24 496.60,249.35 497.20,249.46 497.80,249.56 498.40,249.65 499.00,249.74 499.60,249.82 500.20,249.89 500.80,249.95 501.40,250.00 502.00,250.05 502.60,250.08 503.20,250.09 503.80,250.10 504.40,250.10 505.00,250.08 505.60,250.07 506.20,250.04 506.80,250.01 507.40,249.97 508.00,249.93 508.60,249.88 509.20,249.82 509.80,249.77 510.40,249.70 511.00,249.64 511.60,249.57 512.20,249.50 512.80,249.42 513.40,249.35 514.00,249.27 514.60,249.19 515.20,249.11 515.80,249.03 516.40,248.95 517.00,248.87 517.60,248.78 518.20,248.71 518.80,248.63 519.40,248.55 520.00,248.48 520.60,248.41 521.20,248.34 521.80,248.27 522.40,248.21 523.00,248.16 523.60,248.11 524.20,248.06 524.80,248.02 525.40,247.98 526.00,247.95 526.60,247.93 527.20,247.91 527.80,247.90 528.40,247.90 529.00,247.90 529.60,247.91 530.20,247.93 530.80,247.95 531.40,247.97 532.00,248.00 532.60,248.04 533.20,248.07 533.80,248.12 534.40,248.16 535.00,248.21 535.60,248.27 536.20,248.33 536.80,248.39 537.40,248.45 538.00,248.52 538.60,248.59 539.20,248.66 539.80,248.74 540.40,248.82 541.00,248.90 541.60,248.99 541.70,249.00" stroke="#ee1c24" stroke-width="1.2" fill="none" stroke-linejoin="round"/>
<path d="M291.5,235.3 V263.3 H541.7" stroke="#888888" stroke-width="1" fill="none"/>
<path d="M291.5,236.5 H294.5" stroke="#888888" stroke-width="0.8"/>
<text x="290.20" y="239.30" font-family="&quot;Liberation Sans&quot;, sans-serif" font-size="7.9" text-anchor="end" fill="#231f20" stroke="#231f20" stroke-width="0.22">1</text>
<path d="M291.5,249.8 H294.5" stroke="#888888" stroke-width="0.8"/>
<text x="290.20" y="252.60" font-family="&quot;Liberation Sans&quot;, sans-serif" font-size="7.9" text-anchor="end" fill="#231f20" stroke="#231f20" stroke-width="0.22">0</text>
<path d="M291.5,263.3 H294.5" stroke="#888888" stroke-width="0.8"/>
<text x="290.20" y="266.10" font-family="&quot;Liberation Sans&quot;, sans-serif" font-size="7.9" text-anchor="end" fill="#231f20" stroke="#231f20" stroke-width="0.22">−1</text>
<text x="291.80" y="233.0" font-family="&quot;Liberation Sans&quot;, sans-serif" font-size="7.4" text-anchor="start" fill="#231f20" stroke="#231f20" stroke-width="0.22">x</text>
<text x="298.40" y="233.0" font-family="&quot;Liberation Sans&quot;, sans-serif" font-size="7.6" text-anchor="start" fill="#231f20" stroke="#231f20" stroke-width="0.22" textLength="7.7" lengthAdjust="spacingAndGlyphs">10</text>
<text x="307.00" y="228.50" font-family="&quot;Liberation Sans&quot;, sans-serif" font-size="5.0" text-anchor="start" fill="#231f20" stroke="#231f20" stroke-width="0.22">5</text>
<text x="393.8" y="228.8" font-family="&quot;Liberation Sans&quot;, sans-serif" font-size="9.2" text-anchor="start" fill="#231f20" stroke="#231f20" stroke-width="0.22" textLength="31.3" lengthAdjust="spacingAndGlyphs">Tc=30 s</text>
<rect x="291.5" y="288.0" width="250.20" height="27.40" fill="#f3f3f3"/>
<path d="M292.00,304.09 292.60,303.74 293.20,303.39 293.80,303.06 294.40,302.74 295.00,302.43 295.60,302.14 296.20,301.85 296.80,301.58 297.40,301.32 298.00,301.07 298.60,300.83 299.20,300.60 299.80,300.38 300.40,300.17 301.00,299.98 301.60,299.79 302.20,299.61 302.80,299.45 303.40,299.29 304.00,299.15 304.60,299.01 305.20,298.89 305.80,298.77 306.40,298.67 307.00,298.57 307.60,298.48 308.20,298.41 308.80,298.34 309.40,298.28 310.00,298.23 310.60,298.18 311.20,298.15 311.80,298.13 312.40,298.11 313.00,298.10 313.60,298.10 314.20,298.14 314.80,298.21 315.40,298.31 316.00,298.44 316.60,298.61 317.20,298.79 317.80,299.00 318.40,299.24 319.00,299.49 319.60,299.77 320.20,300.06 320.80,300.36 321.40,300.68 322.00,301.01 322.60,301.35 323.20,301.70 323.80,302.05 324.40,302.40 325.00,302.76 325.60,303.12 326.20,303.47 326.80,303.82 327.40,304.16 328.00,304.50 328.60,304.83 329.20,305.14 329.80,305.44 330.40,305.73 331.00,305.99 331.60,306.24 332.20,306.47 332.80,306.67 333.40,306.85 334.00,307.00 334.60,307.12 335.20,307.22 335.80,307.28 336.40,307.30 337.00,307.29 337.60,307.25 338.20,307.19 338.80,307.09 339.40,306.97 340.00,306.83 340.60,306.67 341.20,306.48 341.80,306.28 342.40,306.05 343.00,305.81 343.60,305.55 344.20,305.27 344.80,304.98 345.40,304.68 346.00,304.37 346.60,304.04 347.20,303.71 347.80,303.37 348.40,303.02 349.00,302.66 349.60,302.30 350.20,301.94 350.80,301.57 351.40,301.21 352.00,300.84 352.60,300.48 353.20,300.12 353.80,299.76 354.40,299.41 355.00,299.06 355.60,298.72 356.20,298.39 356.80,298.07 357.40,297.76 358.00,297.47 358.60,297.19 359.20,296.92 359.80,296.67 360.40,296.43 361.00,296.22 361.60,296.02 362.20,295.85 362.80,295.69 363.40,295.56 364.00,295.46 364.60,295.38 365.20,295.33 365.80,295.30 366.40,295.31 367.00,295.36 367.60,295.46 368.20,295.59 368.80,295.76 369.40,295.97 370.00,296.21 370.60,296.49 371.20,296.80 371.80,297.13 372.40,297.50 373.00,297.88 373.60,298.30 374.20,298.73 374.80,299.18 375.40,299.65 376.00,300.14 376.60,300.64 377.20,301.15 377.80,301.67 378.40,302.20 379.00,302.74 379.60,303.28 380.20,303.82 380.80,304.36 381.40,304.90 382.00,305.44 382.60,305.98 383.20,306.51 383.80,307.02 384.40,307.53 385.00,308.03 385.60,308.51 386.20,308.97 386.80,309.42 387.40,309.84 388.00,310.25 388.60,310.63 389.20,310.98 389.80,311.31 390.40,311.61 391.00,311.87 391.60,312.10 392.20,312.30 392.80,312.46 393.40,312.58 394.00,312.66 394.60,312.70 395.20,312.68 395.80,312.58 396.40,312.41 397.00,312.16 397.60,311.84 398.20,311.45 398.80,311.00 399.40,310.50 400.00,309.94 400.60,309.34 401.20,308.69 401.80,308.00 402.40,307.28 403.00,306.53 403.60,305.75 404.20,304.95 404.80,304.14 405.40,303.31 406.00,302.48 406.60,301.64 407.20,300.80 407.80,299.97 408.40,299.15 409.00,298.34 409.60,297.56 410.20,296.79 410.80,296.06 411.40,295.35 412.00,294.68 412.60,294.06 413.20,293.48 413.80,292.94 414.40,292.47 415.00,292.05 415.60,291.70 416.20,291.41 416.80,291.20 417.40,291.06 418.00,291.00 418.60,291.02 419.20,291.12 419.80,291.28 420.40,291.50 421.00,291.78 421.60,292.11 422.20,292.50 422.80,292.94 423.40,293.41 424.00,293.93 424.60,294.49 425.20,295.08 425.80,295.69 426.40,296.34 427.00,297.00 427.60,297.69 428.20,298.39 428.80,299.10 429.40,299.82 430.00,300.54 430.60,301.26 431.20,301.98 431.80,302.69 432.40,303.40 433.00,304.08 433.60,304.75 434.20,305.40 434.80,306.02 435.40,306.62 436.00,307.18 436.60,307.70 437.20,308.19 437.80,308.63 438.40,309.02 439.00,309.37 439.60,309.66 440.20,309.89 440.80,310.06 441.40,310.16 442.00,310.20 442.60,310.18 443.20,310.13 443.80,310.05 444.40,309.93 445.00,309.78 445.60,309.61 446.20,309.41 446.80,309.18 447.40,308.93 448.00,308.66 448.60,308.36 449.20,308.05 449.80,307.72 450.40,307.37 451.00,307.01 451.60,306.64 452.20,306.25 452.80,305.85 453.40,305.45 454.00,305.04 454.60,304.62 455.20,304.19 455.80,303.77 456.40,303.34 457.00,302.92 457.60,302.49 458.20,302.07 458.80,301.66 459.40,301.25 460.00,300.85 460.60,300.46 461.20,300.07 461.80,299.71 462.40,299.35 463.00,299.01 463.60,298.69 464.20,298.39 464.80,298.10 465.40,297.84 466.00,297.60 466.60,297.39 467.20,297.20 467.80,297.04 468.40,296.91 469.00,296.81 469.60,296.74 470.20,296.70 470.80,296.70 471.40,296.73 472.00,296.78 472.60,296.85 473.20,296.95 473.80,297.07 474.40,297.20 475.00,297.36 475.60,297.54 476.20,297.73 476.80,297.93 477.40,298.16 478.00,298.39 478.60,298.64 479.20,298.90 479.80,299.16 480.40,299.44 481.00,299.72 481.60,300.01 482.20,300.31 482.80,300.61 483.40,300.91 484.00,301.22 484.60,301.53 485.20,301.83 485.80,302.14 486.40,302.44 487.00,302.74 487.60,303.03 488.20,303.32 488.80,303.60 489.40,303.87 490.00,304.14 490.60,304.39 491.20,304.63 491.80,304.86 492.40,305.07 493.00,305.27 493.60,305.45 494.20,305.62 494.80,305.77 495.40,305.89 496.00,306.00 496.60,306.09 497.20,306.15 497.80,306.19 498.40,306.20 499.00,306.19 499.60,306.17 500.20,306.13 500.80,306.07 501.40,306.01 502.00,305.93 502.60,305.83 503.20,305.73 503.80,305.61 504.40,305.48 505.00,305.35 505.60,305.20 506.20,305.04 506.80,304.88 507.40,304.71 508.00,304.53 508.60,304.35 509.20,304.16 509.80,303.97 510.40,303.77 511.00,303.57 511.60,303.37 512.20,303.16 512.80,302.96 513.40,302.75 514.00,302.54 514.60,302.34 515.20,302.13 515.80,301.93 516.40,301.73 517.00,301.53 517.60,301.34 518.20,301.15 518.80,300.97 519.40,300.79 520.00,300.62 520.60,300.46 521.20,300.30 521.80,300.15 522.40,300.02 523.00,299.89 523.60,299.77 524.20,299.67 524.80,299.57 525.40,299.49 526.00,299.43 526.60,299.37 527.20,299.33 527.80,299.31 528.40,299.30 529.00,299.31 529.60,299.33 530.20,299.36 530.80,299.40 531.40,299.46 532.00,299.53 532.60,299.60 533.20,299.69 533.80,299.79 534.40,299.90 535.00,300.01 535.60,300.14 536.20,300.27 536.80,300.41 537.40,300.56 538.00,300.72 538.60,300.88 539.20,301.05 539.80,301.22 540.40,301.40 541.00,301.58 541.60,301.77 541.70,301.80" stroke="#231f20" stroke-width="1.3" fill="none" stroke-linejoin="round"/>
<path d="M292.00,302.38 292.60,302.36 293.20,302.34 293.80,302.32 294.40,302.30 295.00,302.28 295.60,302.26 296.20,302.24 296.80,302.22 297.40,302.20 298.00,302.18 298.60,302.16 299.20,302.15 299.80,302.13 300.40,302.11 301.00,302.10 301.60,302.08 302.20,302.07 302.80,302.05 303.40,302.04 304.00,302.02 304.60,302.01 305.20,302.00 305.80,301.98 306.40,301.97 307.00,301.96 307.60,301.95 308.20,301.94 308.80,301.93 309.40,301.92 310.00,301.91 310.60,301.90 311.20,301.89 311.80,301.88 312.40,301.87 313.00,301.86 313.60,301.85 314.20,301.84 314.80,301.84 315.40,301.83 316.00,301.82 316.60,301.81 317.20,301.81 317.80,301.80 318.40,301.79 319.00,301.79 319.60,301.78 320.20,301.78 320.80,301.77 321.40,301.77 322.00,301.76 322.60,301.76 323.20,301.75 323.80,301.75 324.40,301.75 325.00,301.74 325.60,301.74 326.20,301.74 326.80,301.73 327.40,301.73 328.00,301.73 328.60,301.72 329.20,301.72 329.80,301.72 330.40,301.72 331.00,301.72 331.60,301.71 332.20,301.71 332.80,301.71 333.40,301.71 334.00,301.71 334.60,301.71 335.20,301.71 335.80,301.71 336.40,301.70 337.00,301.70 337.60,301.70 338.20,301.70 338.80,301.70 339.40,301.70 340.00,301.70 340.60,301.70 341.20,301.70 341.80,301.70 342.40,301.70 343.00,301.70 343.60,301.70 344.20,301.70 344.80,301.70 345.40,301.70 346.00,301.70 346.60,301.70 347.20,301.70 347.80,301.72 348.40,301.75 349.00,301.78 349.60,301.83 350.20,301.89 350.80,301.95 351.40,302.02 352.00,302.10 352.60,302.19 353.20,302.28 353.80,302.37 354.40,302.47 355.00,302.58 355.60,302.68 356.20,302.79 356.80,302.90 357.40,303.01 358.00,303.12 358.60,303.24 359.20,303.35 359.80,303.45 360.40,303.56 361.00,303.66 361.60,303.76 362.20,303.85 362.80,303.94 363.40,304.03 364.00,304.10 364.60,304.17 365.20,304.23 365.80,304.29 366.40,304.33 367.00,304.36 367.60,304.39 368.20,304.40 368.80,304.39 369.40,304.32 370.00,304.19 370.60,304.00 371.20,303.75 371.80,303.45 372.40,303.12 373.00,302.74 373.60,302.33 374.20,301.89 374.80,301.42 375.40,300.94 376.00,300.45 376.60,299.94 377.20,299.44 377.80,298.94 378.40,298.44 379.00,297.96 379.60,297.49 380.20,297.04 380.80,296.63 381.40,296.24 382.00,295.90 382.60,295.60 383.20,295.34 383.80,295.14 384.40,295.00 385.00,294.92 385.60,294.91 386.20,294.99 386.80,295.18 387.40,295.45 388.00,295.81 388.60,296.25 389.20,296.76 389.80,297.33 390.40,297.96 391.00,298.65 391.60,299.38 392.20,300.15 392.80,300.95 393.40,301.78 394.00,302.62 394.60,303.48 395.20,304.35 395.80,305.22 396.40,306.08 397.00,306.92 397.60,307.75 398.20,308.55 398.80,309.32 399.40,310.05 400.00,310.74 400.60,311.37 401.20,311.94 401.80,312.45 402.40,312.89 403.00,313.25 403.60,313.52 404.20,313.71 404.80,313.79 405.40,313.77 406.00,313.60 406.60,313.31 407.20,312.89 407.80,312.37 408.40,311.74 409.00,311.02 409.60,310.21 410.20,309.34 410.80,308.40 411.40,307.41 412.00,306.38 412.60,305.31 413.20,304.21 413.80,303.11 414.40,301.99 415.00,300.89 415.60,299.79 416.20,298.72 416.80,297.69 417.40,296.70 418.00,295.76 418.60,294.89 419.20,294.08 419.80,293.36 420.40,292.73 421.00,292.21 421.60,291.79 422.20,291.50 422.80,291.33 423.40,291.30 424.00,291.37 424.60,291.51 425.20,291.71 425.80,291.98 426.40,292.31 427.00,292.70 427.60,293.13 428.20,293.61 428.80,294.13 429.40,294.69 430.00,295.27 430.60,295.89 431.20,296.52 431.80,297.17 432.40,297.84 433.00,298.51 433.60,299.18 434.20,299.85 434.80,300.52 435.40,301.17 436.00,301.81 436.60,302.43 437.20,303.02 437.80,303.58 438.40,304.10 439.00,304.59 439.60,305.03 440.20,305.43 440.80,305.76 441.40,306.05 442.00,306.26 442.60,306.41 443.20,306.49 443.80,306.50 444.40,306.47 445.00,306.41 445.60,306.33 446.20,306.23 446.80,306.11 447.40,305.96 448.00,305.80 448.60,305.63 449.20,305.44 449.80,305.23 450.40,305.02 451.00,304.79 451.60,304.56 452.20,304.33 452.80,304.09 453.40,303.85 454.00,303.61 454.60,303.37 455.20,303.14 455.80,302.91 456.40,302.68 457.00,302.47 457.60,302.26 458.20,302.07 458.80,301.90 459.40,301.74 460.00,301.59 460.60,301.47 461.20,301.37 461.80,301.29 462.40,301.23 463.00,301.20 463.60,301.20 464.20,301.21 464.80,301.22 465.40,301.24 466.00,301.27 466.60,301.30 467.20,301.34 467.80,301.38 468.40,301.42 469.00,301.47 469.60,301.52 470.20,301.57 470.80,301.62 471.40,301.68 472.00,301.73 472.60,301.78 473.20,301.84 473.80,301.89 474.40,301.94 475.00,301.98 475.60,302.03 476.20,302.07 476.80,302.10 477.40,302.13 478.00,302.16 478.60,302.18 479.20,302.19 479.80,302.20 480.40,302.20 481.00,302.20 481.60,302.20 482.20,302.20 482.80,302.20 483.40,302.20 484.00,302.20 484.60,302.20 485.20,302.20 485.80,302.20 486.40,302.20 487.00,302.20 487.60,302.20 488.20,302.20 488.80,302.20 489.40,302.20 490.00,302.20 490.60,302.20 491.20,302.20 491.80,302.20 492.40,302.20 493.00,302.20 493.60,302.20 494.20,302.20 494.80,302.20 495.40,302.20 496.00,302.20 496.60,302.20 497.20,302.20 497.80,302.20 498.40,302.20 499.00,302.20 499.60,302.20 500.20,302.20 500.80,302.20 501.40,302.20 502.00,302.20 502.60,302.20 503.20,302.20 503.80,302.20 504.40,302.20 505.00,302.20 505.60,302.20 506.20,302.20 506.80,302.20 507.40,302.20 508.00,302.20 508.60,302.20 509.20,302.20 509.80,302.20 510.40,302.20 511.00,302.20 511.60,302.20 512.20,302.20 512.80,302.20 513.40,302.20 514.00,302.20 514.60,302.20 515.20,302.20 515.80,302.20 516.40,302.20 517.00,302.20 517.60,302.20 518.20,302.20 518.80,302.20 519.40,302.20 520.00,302.20 520.60,302.20 521.20,302.20 521.80,302.20 522.40,302.20 523.00,302.20 523.60,302.20 524.20,302.20 524.80,302.20 525.40,302.20 526.00,302.20 526.60,302.20 527.20,302.20 527.80,302.20 528.40,302.20 529.00,302.20 529.60,302.20 530.20,302.20 530.80,302.20 531.40,302.20 532.00,302.20 532.60,302.20 533.20,302.20 533.80,302.20 534.40,302.20 535.00,302.20 535.60,302.20 536.20,302.20 536.80,302.20 537.40,302.20 538.00,302.20 538.60,302.20 539.20,302.20 539.80,302.20 540.40,302.20 541.00,302.20 541.60,302.20 541.70,302.20" stroke="#2b2bff" stroke-width="1.3" fill="none" stroke-dasharray="3.6 2.4"/>
<path d="M292.00,302.14 292.60,302.08 293.20,302.02 293.80,301.96 294.40,301.90 295.00,301.84 295.60,301.79 296.20,301.74 296.80,301.69 297.40,301.65 298.00,301.61 298.60,301.58 299.20,301.55 299.80,301.53 300.40,301.51 301.00,301.50 301.60,301.50 302.20,301.50 302.80,301.51 303.40,301.52 304.00,301.54 304.60,301.56 305.20,301.58 305.80,301.61 306.40,301.64 307.00,301.67 307.60,301.70 308.20,301.74 308.80,301.78 309.40,301.82 310.00,301.86 310.60,301.90 311.20,301.94 311.80,301.98 312.40,302.02 313.00,302.06 313.60,302.10 314.20,302.14 314.80,302.18 315.40,302.22 316.00,302.25 316.60,302.28 317.20,302.31 317.80,302.34 318.40,302.36 319.00,302.38 319.60,302.39 320.20,302.40 320.80,302.41 321.40,302.42 322.00,302.43 322.60,302.44 323.20,302.44 323.80,302.45 324.40,302.46 325.00,302.46 325.60,302.47 326.20,302.47 326.80,302.48 327.40,302.48 328.00,302.49 328.60,302.49 329.20,302.50 329.80,302.50 330.40,302.51 331.00,302.51 331.60,302.51 332.20,302.52 332.80,302.52 333.40,302.53 334.00,302.53 334.60,302.54 335.20,302.54 335.80,302.55 336.40,302.55 337.00,302.56 337.60,302.57 338.20,302.57 338.80,302.58 339.40,302.59 340.00,302.60 340.60,302.61 341.20,302.62 341.80,302.64 342.40,302.66 343.00,302.68 343.60,302.70 344.20,302.72 344.80,302.74 345.40,302.77 346.00,302.79 346.60,302.82 347.20,302.84 347.80,302.87 348.40,302.90 349.00,302.93 349.60,302.95 350.20,302.98 350.80,303.01 351.40,303.03 352.00,303.06 352.60,303.08 353.20,303.10 353.80,303.12 354.40,303.14 355.00,303.15 355.60,303.17 356.20,303.18 356.80,303.19 357.40,303.20 358.00,303.20 358.60,303.20 359.20,303.17 359.80,303.11 360.40,303.02 361.00,302.91 361.60,302.77 362.20,302.61 362.80,302.42 363.40,302.22 364.00,302.00 364.60,301.77 365.20,301.52 365.80,301.26 366.40,301.00 367.00,300.73 367.60,300.45 368.20,300.17 368.80,299.89 369.40,299.62 370.00,299.35 370.60,299.08 371.20,298.82 371.80,298.57 372.40,298.34 373.00,298.11 373.60,297.91 374.20,297.72 374.80,297.56 375.40,297.41 376.00,297.29 376.60,297.20 377.20,297.14 377.80,297.10 378.40,297.11 379.00,297.19 379.60,297.35 380.20,297.58 380.80,297.88 381.40,298.23 382.00,298.65 382.60,299.11 383.20,299.62 383.80,300.17 384.40,300.75 385.00,301.37 385.60,302.01 386.20,302.67 386.80,303.34 387.40,304.03 388.00,304.71 388.60,305.40 389.20,306.08 389.80,306.75 390.40,307.41 391.00,308.04 391.60,308.65 392.20,309.22 392.80,309.76 393.40,310.25 394.00,310.70 394.60,311.09 395.20,311.43 395.80,311.70 396.40,311.91 397.00,312.04 397.60,312.10 398.20,312.06 398.80,311.89 399.40,311.61 400.00,311.22 400.60,310.73 401.20,310.15 401.80,309.49 402.40,308.76 403.00,307.96 403.60,307.10 404.20,306.19 404.80,305.25 405.40,304.27 406.00,303.26 406.60,302.24 407.20,301.21 407.80,300.19 408.40,299.17 409.00,298.17 409.60,297.19 410.20,296.25 410.80,295.35 411.40,294.51 412.00,293.72 412.60,292.99 413.20,292.35 413.80,291.78 414.40,291.31 415.00,290.94 415.60,290.68 416.20,290.53 416.80,290.51 417.40,290.59 418.00,290.76 418.60,291.01 419.20,291.35 419.80,291.76 420.40,292.23 421.00,292.77 421.60,293.36 422.20,294.01 422.80,294.70 423.40,295.43 424.00,296.19 424.60,296.97 425.20,297.78 425.80,298.61 426.40,299.44 427.00,300.28 427.60,301.12 428.20,301.94 428.80,302.76 429.40,303.55 430.00,304.32 430.60,305.06 431.20,305.77 431.80,306.43 432.40,307.04 433.00,307.60 433.60,308.09 434.20,308.52 434.80,308.88 435.40,309.17 436.00,309.37 436.60,309.48 437.20,309.50 437.80,309.46 438.40,309.37 439.00,309.24 439.60,309.07 440.20,308.86 440.80,308.61 441.40,308.34 442.00,308.04 442.60,307.71 443.20,307.35 443.80,306.98 444.40,306.59 445.00,306.19 445.60,305.77 446.20,305.35 446.80,304.92 447.40,304.49 448.00,304.06 448.60,303.64 449.20,303.22 449.80,302.81 450.40,302.41 451.00,302.03 451.60,301.67 452.20,301.33 452.80,301.01 453.40,300.72 454.00,300.46 454.60,300.23 455.20,300.04 455.80,299.89 456.40,299.78 457.00,299.72 457.60,299.70 458.20,299.71 458.80,299.74 459.40,299.78 460.00,299.84 460.60,299.91 461.20,299.99 461.80,300.08 462.40,300.18 463.00,300.29 463.60,300.40 464.20,300.52 464.80,300.64 465.40,300.77 466.00,300.90 466.60,301.02 467.20,301.15 467.80,301.28 468.40,301.40 469.00,301.52 469.60,301.63 470.20,301.74 470.80,301.84 471.40,301.93 472.00,302.00 472.60,302.07 473.20,302.13 473.80,302.17 474.40,302.19 475.00,302.20 475.60,302.20 476.20,302.20 476.80,302.20 477.40,302.20 478.00,302.20 478.60,302.20 479.20,302.20 479.80,302.20 480.40,302.20 481.00,302.20 481.60,302.20 482.20,302.20 482.80,302.20 483.40,302.20 484.00,302.20 484.60,302.20 485.20,302.20 485.80,302.20 486.40,302.20 487.00,302.20 487.60,302.20 488.20,302.20 488.80,302.20 489.40,302.20 490.00,302.20 490.60,302.20 491.20,302.20 491.80,302.20 492.40,302.20 493.00,302.20 493.60,302.20 494.20,302.20 494.80,302.20 495.40,302.20 496.00,302.20 496.60,302.20 497.20,302.20 497.80,302.20 498.40,302.20 499.00,302.20 499.60,302.19 500.20,302.19 500.80,302.19 501.40,302.19 502.00,302.19 502.60,302.19 503.20,302.19 503.80,302.19 504.40,302.19 505.00,302.19 505.60,302.19 506.20,302.19 506.80,302.19 507.40,302.19 508.00,302.19 508.60,302.19 509.20,302.19 509.80,302.19 510.40,302.19 511.00,302.18 511.60,302.18 512.20,302.18 512.80,302.18 513.40,302.18 514.00,302.18 514.60,302.18 515.20,302.18 515.80,302.18 516.40,302.18 517.00,302.18 517.60,302.17 518.20,302.17 518.80,302.17 519.40,302.17 520.00,302.17 520.60,302.17 521.20,302.17 521.80,302.17 522.40,302.16 523.00,302.16 523.60,302.16 524.20,302.16 524.80,302.16 525.40,302.16 526.00,302.16 526.60,302.15 527.20,302.15 527.80,302.15 528.40,302.15 529.00,302.15 529.60,302.15 530.20,302.14 530.80,302.14 531.40,302.14 532.00,302.14 532.60,302.14 533.20,302.13 533.80,302.13 534.40,302.13 535.00,302.13 535.60,302.13 536.20,302.12 536.80,302.12 537.40,302.12 538.00,302.12 538.60,302.11 539.20,302.11 539.80,302.11 540.40,302.11 541.00,302.10 541.60,302.10 541.70,302.10" stroke="#ee1c24" stroke-width="1.2" fill="none" stroke-linejoin="round"/>
<path d="M291.5,288.0 V316.6 H541.7" stroke="#888888" stroke-width="1" fill="none"/>
<path d="M291.5,294.0 H294.5" stroke="#888888" stroke-width="0.8"/>
<text x="290.20" y="296.80" font-family="&quot;Liberation Sans&quot;, sans-serif" font-size="7.9" text-anchor="end" fill="#231f20" stroke="#231f20" stroke-width="0.22">5</text>
<path d="M291.5,302.5 H294.5" stroke="#888888" stroke-width="0.8"/>
<text x="290.20" y="305.30" font-family="&quot;Liberation Sans&quot;, sans-serif" font-size="7.9" text-anchor="end" fill="#231f20" stroke="#231f20" stroke-width="0.22">0</text>
<path d="M291.5,311.0 H294.5" stroke="#888888" stroke-width="0.8"/>
<text x="290.20" y="313.80" font-family="&quot;Liberation Sans&quot;, sans-serif" font-size="7.9" text-anchor="end" fill="#231f20" stroke="#231f20" stroke-width="0.22">−5</text>
<text x="291.80" y="285.9" font-family="&quot;Liberation Sans&quot;, sans-serif" font-size="7.4" text-anchor="start" fill="#231f20" stroke="#231f20" stroke-width="0.22">x</text>
<text x="298.40" y="285.9" font-family="&quot;Liberation Sans&quot;, sans-serif" font-size="7.6" text-anchor="start" fill="#231f20" stroke="#231f20" stroke-width="0.22" textLength="7.7" lengthAdjust="spacingAndGlyphs">10</text>
<text x="307.00" y="281.40" font-family="&quot;Liberation Sans&quot;, sans-serif" font-size="5.0" text-anchor="start" fill="#231f20" stroke="#231f20" stroke-width="0.22">4</text>
<text x="393.8" y="281.8" font-family="&quot;Liberation Sans&quot;, sans-serif" font-size="9.2" text-anchor="start" fill="#231f20" stroke="#231f20" stroke-width="0.22" textLength="31.3" lengthAdjust="spacingAndGlyphs">Tc=20 s</text>
<rect x="291.5" y="341.2" width="250.20" height="26.80" fill="#f3f3f3"/>
<path d="M292.00,355.45 292.60,355.72 293.20,355.96 293.80,356.19 294.40,356.39 295.00,356.57 295.60,356.73 296.20,356.87 296.80,356.99 297.40,357.09 298.00,357.18 298.60,357.25 299.20,357.31 299.80,357.35 300.40,357.38 301.00,357.39 301.60,357.40 302.20,357.36 302.80,357.26 303.40,357.10 304.00,356.88 304.60,356.61 305.20,356.31 305.80,355.97 306.40,355.60 307.00,355.22 307.60,354.82 308.20,354.42 308.80,354.01 309.40,353.62 310.00,353.23 310.60,352.87 311.20,352.54 311.80,352.24 312.40,351.98 313.00,351.77 313.60,351.62 314.20,351.53 314.80,351.50 315.40,351.52 316.00,351.55 316.60,351.61 317.20,351.69 317.80,351.79 318.40,351.90 319.00,352.03 319.60,352.17 320.20,352.33 320.80,352.50 321.40,352.69 322.00,352.88 322.60,353.08 323.20,353.29 323.80,353.50 324.40,353.72 325.00,353.95 325.60,354.18 326.20,354.40 326.80,354.63 327.40,354.86 328.00,355.09 328.60,355.31 329.20,355.53 329.80,355.75 330.40,355.96 331.00,356.16 331.60,356.35 332.20,356.53 332.80,356.70 333.40,356.85 334.00,356.99 334.60,357.12 335.20,357.23 335.80,357.33 336.40,357.40 337.00,357.45 337.60,357.49 338.20,357.50 338.80,357.48 339.40,357.44 340.00,357.37 340.60,357.28 341.20,357.16 341.80,357.03 342.40,356.88 343.00,356.71 343.60,356.54 344.20,356.35 344.80,356.16 345.40,355.97 346.00,355.77 346.60,355.57 347.20,355.37 347.80,355.18 348.40,355.00 349.00,354.83 349.60,354.67 350.20,354.52 350.80,354.40 351.40,354.29 352.00,354.20 352.60,354.14 353.20,354.11 353.80,354.10 354.40,354.12 355.00,354.16 355.60,354.22 356.20,354.30 356.80,354.39 357.40,354.49 358.00,354.59 358.60,354.70 359.20,354.81 359.80,354.91 360.40,355.01 361.00,355.10 361.60,355.18 362.20,355.24 362.80,355.28 363.40,355.30 364.00,355.28 364.60,355.21 365.20,355.07 365.80,354.87 366.40,354.63 367.00,354.36 367.60,354.05 368.20,353.71 368.80,353.36 369.40,353.00 370.00,352.64 370.60,352.28 371.20,351.93 371.80,351.60 372.40,351.29 373.00,351.02 373.60,350.79 374.20,350.61 374.80,350.48 375.40,350.41 376.00,350.41 376.60,350.48 377.20,350.61 377.80,350.80 378.40,351.04 379.00,351.34 379.60,351.68 380.20,352.07 380.80,352.50 381.40,352.96 382.00,353.46 382.60,353.98 383.20,354.53 383.80,355.10 384.40,355.68 385.00,356.28 385.60,356.89 386.20,357.50 386.80,358.11 387.40,358.72 388.00,359.32 388.60,359.91 389.20,360.49 389.80,361.05 390.40,361.59 391.00,362.10 391.60,362.58 392.20,363.02 392.80,363.43 393.40,363.80 394.00,364.12 394.60,364.39 395.20,364.61 395.80,364.77 396.40,364.87 397.00,364.90 397.60,364.82 398.20,364.57 398.80,364.18 399.40,363.65 400.00,363.00 400.60,362.24 401.20,361.39 401.80,360.45 402.40,359.44 403.00,358.38 403.60,357.28 404.20,356.14 404.80,354.99 405.40,353.83 406.00,352.68 406.60,351.55 407.20,350.46 407.80,349.41 408.40,348.43 409.00,347.52 409.60,346.70 410.20,345.97 410.80,345.36 411.40,344.88 412.00,344.53 412.60,344.34 413.20,344.30 413.80,344.35 414.40,344.44 415.00,344.59 415.60,344.77 416.20,345.01 416.80,345.28 417.40,345.59 418.00,345.93 418.60,346.31 419.20,346.72 419.80,347.15 420.40,347.61 421.00,348.09 421.60,348.60 422.20,349.11 422.80,349.65 423.40,350.19 424.00,350.74 424.60,351.30 425.20,351.87 425.80,352.43 426.40,353.00 427.00,353.56 427.60,354.11 428.20,354.65 428.80,355.19 429.40,355.70 430.00,356.21 430.60,356.69 431.20,357.15 431.80,357.58 432.40,357.99 433.00,358.37 433.60,358.71 434.20,359.02 434.80,359.29 435.40,359.53 436.00,359.71 436.60,359.86 437.20,359.95 437.80,360.00 438.40,360.00 439.00,359.97 439.60,359.93 440.20,359.87 440.80,359.79 441.40,359.69 442.00,359.58 442.60,359.45 443.20,359.31 443.80,359.15 444.40,358.98 445.00,358.80 445.60,358.61 446.20,358.40 446.80,358.19 447.40,357.97 448.00,357.75 448.60,357.51 449.20,357.27 449.80,357.02 450.40,356.77 451.00,356.52 451.60,356.27 452.20,356.01 452.80,355.75 453.40,355.49 454.00,355.23 454.60,354.98 455.20,354.73 455.80,354.48 456.40,354.23 457.00,353.99 457.60,353.75 458.20,353.53 458.80,353.31 459.40,353.10 460.00,352.89 460.60,352.70 461.20,352.52 461.80,352.35 462.40,352.19 463.00,352.05 463.60,351.92 464.20,351.81 464.80,351.71 465.40,351.63 466.00,351.57 466.60,351.53 467.20,351.50 467.80,351.50 468.40,351.52 469.00,351.55 469.60,351.60 470.20,351.67 470.80,351.76 471.40,351.86 472.00,351.97 472.60,352.10 473.20,352.24 473.80,352.38 474.40,352.54 475.00,352.71 475.60,352.89 476.20,353.07 476.80,353.26 477.40,353.45 478.00,353.65 478.60,353.85 479.20,354.06 479.80,354.26 480.40,354.47 481.00,354.68 481.60,354.88 482.20,355.08 482.80,355.28 483.40,355.47 484.00,355.66 484.60,355.84 485.20,356.02 485.80,356.18 486.40,356.34 487.00,356.49 487.60,356.62 488.20,356.75 488.80,356.86 489.40,356.96 490.00,357.04 490.60,357.11 491.20,357.16 491.80,357.19 492.40,357.20 493.00,357.19 493.60,357.17 494.20,357.14 494.80,357.09 495.40,357.03 496.00,356.96 496.60,356.87 497.20,356.78 497.80,356.68 498.40,356.57 499.00,356.45 499.60,356.32 500.20,356.19 500.80,356.06 501.40,355.92 502.00,355.78 502.60,355.63 503.20,355.49 503.80,355.34 504.40,355.19 505.00,355.05 505.60,354.90 506.20,354.76 506.80,354.63 507.40,354.50 508.00,354.37 508.60,354.25 509.20,354.14 509.80,354.04 510.40,353.94 511.00,353.86 511.60,353.78 512.20,353.72 512.80,353.67 513.40,353.63 514.00,353.61 514.60,353.60 515.20,353.62 515.80,353.66 516.40,353.74 517.00,353.84 517.60,353.95 518.20,354.08 518.80,354.22 519.40,354.36 520.00,354.51 520.60,354.65 521.20,354.79 521.80,354.91 522.40,355.01 523.00,355.10 523.60,355.16 524.20,355.20 524.80,355.20 525.40,355.17 526.00,355.13 526.60,355.06 527.20,354.98 527.80,354.90 528.40,354.80 529.00,354.70 529.60,354.60 530.20,354.50 530.80,354.42 531.40,354.34 532.00,354.27 532.60,354.23 533.20,354.20 533.80,354.20 534.40,354.21 535.00,354.23 535.60,354.26 536.20,354.30 536.80,354.35 537.40,354.41 538.00,354.48 538.60,354.55 539.20,354.64 539.80,354.74 540.40,354.84 541.00,354.96 541.60,355.08 541.70,355.10" stroke="#231f20" stroke-width="1.3" fill="none" stroke-linejoin="round"/>
<path d="M292.00,354.50 292.60,354.50 293.20,354.50 293.80,354.50 294.40,354.50 295.00,354.50 295.60,354.50 296.20,354.50 296.80,354.50 297.40,354.50 298.00,354.51 298.60,354.55 299.20,354.59 299.80,354.66 300.40,354.73 301.00,354.81 301.60,354.90 302.20,355.00 302.80,355.10 303.40,355.20 304.00,355.30 304.60,355.40 305.20,355.49 305.80,355.57 306.40,355.64 307.00,355.71 307.60,355.75 308.20,355.79 308.80,355.80 309.40,355.80 310.00,355.80 310.60,355.80 311.20,355.79 311.80,355.79 312.40,355.79 313.00,355.78 313.60,355.78 314.20,355.77 314.80,355.77 315.40,355.76 316.00,355.75 316.60,355.74 317.20,355.73 317.80,355.72 318.40,355.71 319.00,355.70 319.60,355.69 320.20,355.68 320.80,355.67 321.40,355.65 322.00,355.64 322.60,355.63 323.20,355.61 323.80,355.59 324.40,355.58 325.00,355.56 325.60,355.54 326.20,355.53 326.80,355.51 327.40,355.49 328.00,355.47 328.60,355.45 329.20,355.43 329.80,355.41 330.40,355.39 331.00,355.36 331.60,355.34 332.20,355.32 332.80,355.30 333.40,355.26 334.00,355.21 334.60,355.14 335.20,355.07 335.80,354.98 336.40,354.88 337.00,354.78 337.60,354.68 338.20,354.57 338.80,354.47 339.40,354.36 340.00,354.27 340.60,354.18 341.20,354.09 341.80,354.03 342.40,353.97 343.00,353.93 343.60,353.90 344.20,353.90 344.80,353.94 345.40,354.02 346.00,354.13 346.60,354.27 347.20,354.41 347.80,354.56 348.40,354.71 349.00,354.84 349.60,354.94 350.20,355.02 350.80,355.09 351.40,355.16 352.00,355.23 352.60,355.29 353.20,355.35 353.80,355.41 354.40,355.47 355.00,355.53 355.60,355.58 356.20,355.64 356.80,355.69 357.40,355.74 358.00,355.79 358.60,355.83 359.20,355.88 359.80,355.92 360.40,355.96 361.00,356.00 361.60,356.03 362.20,356.07 362.80,356.10 363.40,356.13 364.00,356.16 364.60,356.18 365.20,356.21 365.80,356.23 366.40,356.26 367.00,356.28 367.60,356.30 368.20,356.32 368.80,356.34 369.40,356.36 370.00,356.38 370.60,356.39 371.20,356.40 371.80,356.40 372.40,356.39 373.00,356.36 373.60,356.29 374.20,356.21 374.80,356.09 375.40,355.95 376.00,355.79 376.60,355.62 377.20,355.42 377.80,355.21 378.40,354.98 379.00,354.74 379.60,354.49 380.20,354.24 380.80,353.97 381.40,353.70 382.00,353.42 382.60,353.15 383.20,352.87 383.80,352.59 384.40,352.32 385.00,352.05 385.60,351.79 386.20,351.54 386.80,351.30 387.40,351.07 388.00,350.85 388.60,350.65 389.20,350.46 389.80,350.30 390.40,350.15 391.00,350.03 391.60,349.93 392.20,349.86 392.80,349.82 393.40,349.80 394.00,349.91 394.60,350.24 395.20,350.75 395.80,351.42 396.40,352.24 397.00,353.17 397.60,354.20 398.20,355.31 398.80,356.47 399.40,357.65 400.00,358.84 400.60,360.02 401.20,361.15 401.80,362.22 402.40,363.21 403.00,364.09 403.60,364.84 404.20,365.43 404.80,365.85 405.40,366.07 406.00,366.07 406.60,365.84 407.20,365.39 407.80,364.76 408.40,363.95 409.00,363.00 409.60,361.92 410.20,360.73 410.80,359.46 411.40,358.13 412.00,356.75 412.60,355.35 413.20,353.95 413.80,352.57 414.40,351.24 415.00,349.97 415.60,348.78 416.20,347.70 416.80,346.75 417.40,345.94 418.00,345.31 418.60,344.86 419.20,344.63 419.80,344.62 420.40,344.81 421.00,345.17 421.60,345.68 422.20,346.33 422.80,347.08 423.40,347.93 424.00,348.85 424.60,349.83 425.20,350.84 425.80,351.87 426.40,352.90 427.00,353.90 427.60,354.86 428.20,355.76 428.80,356.58 429.40,357.30 430.00,357.90 430.60,358.36 431.20,358.67 431.80,358.80 432.40,358.78 433.00,358.72 433.60,358.60 434.20,358.45 434.80,358.27 435.40,358.05 436.00,357.81 436.60,357.55 437.20,357.28 437.80,356.99 438.40,356.70 439.00,356.40 439.60,356.11 440.20,355.83 440.80,355.57 441.40,355.32 442.00,355.10 442.60,354.90 443.20,354.74 443.80,354.61 444.40,354.53 445.00,354.50 445.60,354.49 446.20,354.48 446.80,354.48 447.40,354.47 448.00,354.46 448.60,354.46 449.20,354.45 449.80,354.45 450.40,354.44 451.00,354.44 451.60,354.43 452.20,354.43 452.80,354.42 453.40,354.42 454.00,354.42 454.60,354.41 455.20,354.41 455.80,354.41 456.40,354.41 457.00,354.40 457.60,354.40 458.20,354.40 458.80,354.40 459.40,354.40 460.00,354.40 460.60,354.40 461.20,354.40 461.80,354.40 462.40,354.40 463.00,354.40 463.60,354.40 464.20,354.40 464.80,354.40 465.40,354.40 466.00,354.40 466.60,354.40 467.20,354.40 467.80,354.40 468.40,354.40 469.00,354.40 469.60,354.40 470.20,354.40 470.80,354.40 471.40,354.41 472.00,354.41 472.60,354.41 473.20,354.41 473.80,354.41 474.40,354.41 475.00,354.41 475.60,354.41 476.20,354.41 476.80,354.41 477.40,354.41 478.00,354.42 478.60,354.42 479.20,354.42 479.80,354.42 480.40,354.42 481.00,354.42 481.60,354.42 482.20,354.42 482.80,354.43 483.40,354.43 484.00,354.43 484.60,354.43 485.20,354.43 485.80,354.43 486.40,354.44 487.00,354.44 487.60,354.44 488.20,354.44 488.80,354.45 489.40,354.45 490.00,354.45 490.60,354.45 491.20,354.45 491.80,354.46 492.40,354.46 493.00,354.46 493.60,354.46 494.20,354.47 494.80,354.47 495.40,354.47 496.00,354.48 496.60,354.48 497.20,354.48 497.80,354.49 498.40,354.49 499.00,354.49 499.60,354.50 500.20,354.50 500.80,354.50 501.40,354.51 502.00,354.51 502.60,354.52 503.20,354.52 503.80,354.52 504.40,354.53 505.00,354.53 505.60,354.54 506.20,354.54 506.80,354.55 507.40,354.55 508.00,354.55 508.60,354.56 509.20,354.56 509.80,354.57 510.40,354.57 511.00,354.58 511.60,354.59 512.20,354.59 512.80,354.60 513.40,354.60 514.00,354.61 514.60,354.61 515.20,354.62 515.80,354.63 516.40,354.63 517.00,354.64 517.60,354.64 518.20,354.65 518.80,354.66 519.40,354.66 520.00,354.67 520.60,354.68 521.20,354.68 521.80,354.69 522.40,354.70 523.00,354.71 523.60,354.71 524.20,354.72 524.80,354.73 525.40,354.74 526.00,354.75 526.60,354.75 527.20,354.76 527.80,354.77 528.40,354.78 529.00,354.79 529.60,354.80 530.20,354.80 530.80,354.81 531.40,354.82 532.00,354.83 532.60,354.84 533.20,354.85 533.80,354.86 534.40,354.87 535.00,354.88 535.60,354.89 536.20,354.90 536.80,354.91 537.40,354.92 538.00,354.93 538.60,354.94 539.20,354.95 539.80,354.96 540.40,354.98 541.00,354.99 541.60,355.00 541.70,355.00" stroke="#2b2bff" stroke-width="1.3" fill="none" stroke-dasharray="3.6 2.4"/>
<path d="M292.00,354.48 292.60,354.45 293.20,354.44 293.80,354.42 294.40,354.41 295.00,354.41 295.60,354.40 296.20,354.40 296.80,354.40 297.40,354.40 298.00,354.42 298.60,354.45 299.20,354.51 299.80,354.58 300.40,354.66 301.00,354.76 301.60,354.87 302.20,354.98 302.80,355.09 303.40,355.21 304.00,355.32 304.60,355.43 305.20,355.54 305.80,355.64 306.40,355.72 307.00,355.79 307.60,355.85 308.20,355.88 308.80,355.90 309.40,355.90 310.00,355.89 310.60,355.87 311.20,355.85 311.80,355.82 312.40,355.79 313.00,355.75 313.60,355.71 314.20,355.66 314.80,355.62 315.40,355.57 316.00,355.51 316.60,355.46 317.20,355.41 317.80,355.35 318.40,355.30 319.00,355.24 319.60,355.19 320.20,355.14 320.80,355.09 321.40,355.04 322.00,355.00 322.60,354.96 323.20,354.91 323.80,354.86 324.40,354.81 325.00,354.76 325.60,354.71 326.20,354.65 326.80,354.60 327.40,354.55 328.00,354.49 328.60,354.44 329.20,354.39 329.80,354.34 330.40,354.30 331.00,354.26 331.60,354.22 332.20,354.19 332.80,354.16 333.40,354.13 334.00,354.12 334.60,354.10 335.20,354.10 335.80,354.11 336.40,354.14 337.00,354.19 337.60,354.25 338.20,354.33 338.80,354.43 339.40,354.53 340.00,354.64 340.60,354.76 341.20,354.89 341.80,355.01 342.40,355.14 343.00,355.26 343.60,355.38 344.20,355.49 344.80,355.59 345.40,355.68 346.00,355.76 346.60,355.82 347.20,355.87 347.80,355.89 348.40,355.90 349.00,355.88 349.60,355.83 350.20,355.77 350.80,355.69 351.40,355.61 352.00,355.52 352.60,355.42 353.20,355.34 353.80,355.26 354.40,355.19 355.00,355.14 355.60,355.11 356.20,355.10 356.80,355.12 357.40,355.17 358.00,355.23 358.60,355.30 359.20,355.39 359.80,355.48 360.40,355.57 361.00,355.67 361.60,355.76 362.20,355.84 362.80,355.91 363.40,355.96 364.00,355.99 364.60,356.00 365.20,355.99 365.80,355.96 366.40,355.91 367.00,355.85 367.60,355.78 368.20,355.69 368.80,355.59 369.40,355.48 370.00,355.36 370.60,355.23 371.20,355.09 371.80,354.94 372.40,354.79 373.00,354.63 373.60,354.47 374.20,354.31 374.80,354.14 375.40,353.97 376.00,353.80 376.60,353.63 377.20,353.46 377.80,353.30 378.40,353.14 379.00,352.98 379.60,352.83 380.20,352.69 380.80,352.55 381.40,352.42 382.00,352.30 382.60,352.19 383.20,352.09 383.80,352.01 384.40,351.94 385.00,351.88 385.60,351.84 386.20,351.81 386.80,351.80 387.40,351.85 388.00,352.01 388.60,352.26 389.20,352.60 389.80,353.01 390.40,353.49 391.00,354.03 391.60,354.63 392.20,355.26 392.80,355.92 393.40,356.61 394.00,357.32 394.60,358.03 395.20,358.74 395.80,359.43 396.40,360.11 397.00,360.76 397.60,361.38 398.20,361.94 398.80,362.45 399.40,362.90 400.00,363.28 400.60,363.57 401.20,363.78 401.80,363.89 402.40,363.87 403.00,363.63 403.60,363.18 404.20,362.53 404.80,361.71 405.40,360.75 406.00,359.66 406.60,358.47 407.20,357.20 407.80,355.88 408.40,354.52 409.00,353.15 409.60,351.80 410.20,350.48 410.80,349.23 411.40,348.05 412.00,346.98 412.60,346.04 413.20,345.25 413.80,344.63 414.40,344.21 415.00,344.01 415.60,344.04 416.20,344.24 416.80,344.61 417.40,345.11 418.00,345.74 418.60,346.48 419.20,347.31 419.80,348.23 420.40,349.20 421.00,350.22 421.60,351.27 422.20,352.33 422.80,353.39 423.40,354.43 424.00,355.43 424.60,356.39 425.20,357.27 425.80,358.08 426.40,358.78 427.00,359.37 427.60,359.83 428.20,360.14 428.80,360.29 429.40,360.29 430.00,360.23 430.60,360.12 431.20,359.96 431.80,359.77 432.40,359.54 433.00,359.29 433.60,359.00 434.20,358.70 434.80,358.37 435.40,358.04 436.00,357.69 436.60,357.35 437.20,357.00 437.80,356.66 438.40,356.32 439.00,356.01 439.60,355.70 440.20,355.43 440.80,355.18 441.40,354.96 442.00,354.77 442.60,354.63 443.20,354.53 443.80,354.48 444.40,354.43 445.00,354.38 445.60,354.34 446.20,354.29 446.80,354.25 447.40,354.21 448.00,354.17 448.60,354.13 449.20,354.10 449.80,354.06 450.40,354.03 451.00,354.00 451.60,353.97 452.20,353.95 452.80,353.92 453.40,353.90 454.00,353.88 454.60,353.86 455.20,353.85 455.80,353.83 456.40,353.82 457.00,353.81 457.60,353.81 458.20,353.80 458.80,353.80 459.40,353.80 460.00,353.81 460.60,353.82 461.20,353.84 461.80,353.86 462.40,353.89 463.00,353.92 463.60,353.95 464.20,353.99 464.80,354.02 465.40,354.07 466.00,354.11 466.60,354.16 467.20,354.20 467.80,354.25 468.40,354.30 469.00,354.35 469.60,354.40 470.20,354.45 470.80,354.50 471.40,354.55 472.00,354.60 472.60,354.65 473.20,354.69 473.80,354.74 474.40,354.78 475.00,354.82 475.60,354.85 476.20,354.89 476.80,354.92 477.40,354.94 478.00,354.96 478.60,354.98 479.20,354.99 479.80,355.00 480.40,355.00 481.00,355.00 481.60,355.01 482.20,355.01 482.80,355.01 483.40,355.01 484.00,355.01 484.60,355.02 485.20,355.02 485.80,355.02 486.40,355.02 487.00,355.02 487.60,355.03 488.20,355.03 488.80,355.03 489.40,355.03 490.00,355.03 490.60,355.03 491.20,355.04 491.80,355.04 492.40,355.04 493.00,355.04 493.60,355.04 494.20,355.04 494.80,355.05 495.40,355.05 496.00,355.05 496.60,355.05 497.20,355.05 497.80,355.05 498.40,355.06 499.00,355.06 499.60,355.06 500.20,355.06 500.80,355.06 501.40,355.06 502.00,355.06 502.60,355.06 503.20,355.07 503.80,355.07 504.40,355.07 505.00,355.07 505.60,355.07 506.20,355.07 506.80,355.07 507.40,355.07 508.00,355.07 508.60,355.08 509.20,355.08 509.80,355.08 510.40,355.08 511.00,355.08 511.60,355.08 512.20,355.08 512.80,355.08 513.40,355.08 514.00,355.08 514.60,355.08 515.20,355.08 515.80,355.09 516.40,355.09 517.00,355.09 517.60,355.09 518.20,355.09 518.80,355.09 519.40,355.09 520.00,355.09 520.60,355.09 521.20,355.09 521.80,355.09 522.40,355.09 523.00,355.09 523.60,355.09 524.20,355.09 524.80,355.09 525.40,355.09 526.00,355.09 526.60,355.10 527.20,355.10 527.80,355.10 528.40,355.10 529.00,355.10 529.60,355.10 530.20,355.10 530.80,355.10 531.40,355.10 532.00,355.10 532.60,355.10 533.20,355.10 533.80,355.10 534.40,355.10 535.00,355.10 535.60,355.10 536.20,355.10 536.80,355.10 537.40,355.10 538.00,355.10 538.60,355.10 539.20,355.10 539.80,355.10 540.40,355.10 541.00,355.10 541.60,355.10 541.70,355.10" stroke="#ee1c24" stroke-width="1.2" fill="none" stroke-linejoin="round"/>
<path d="M291.5,341.2 V369.2 H541.7" stroke="#888888" stroke-width="1" fill="none"/>
<path d="M291.5,342.4 H294.5" stroke="#888888" stroke-width="0.8"/>
<text x="290.20" y="345.20" font-family="&quot;Liberation Sans&quot;, sans-serif" font-size="7.9" text-anchor="end" fill="#231f20" stroke="#231f20" stroke-width="0.22">4</text>
<path d="M291.5,348.9 H294.5" stroke="#888888" stroke-width="0.8"/>
<text x="290.20" y="351.70" font-family="&quot;Liberation Sans&quot;, sans-serif" font-size="7.9" text-anchor="end" fill="#231f20" stroke="#231f20" stroke-width="0.22">2</text>
<path d="M291.5,355.2 H294.5" stroke="#888888" stroke-width="0.8"/>
<text x="290.20" y="358.00" font-family="&quot;Liberation Sans&quot;, sans-serif" font-size="7.9" text-anchor="end" fill="#231f20" stroke="#231f20" stroke-width="0.22">0</text>
<path d="M291.5,361.6 H294.5" stroke="#888888" stroke-width="0.8"/>
<text x="290.20" y="364.40" font-family="&quot;Liberation Sans&quot;, sans-serif" font-size="7.9" text-anchor="end" fill="#231f20" stroke="#231f20" stroke-width="0.22">−2</text>
<path d="M291.5,368.4 H294.5" stroke="#888888" stroke-width="0.8"/>
<text x="290.20" y="371.20" font-family="&quot;Liberation Sans&quot;, sans-serif" font-size="7.9" text-anchor="end" fill="#231f20" stroke="#231f20" stroke-width="0.22">−4</text>
<text x="291.80" y="338.9" font-family="&quot;Liberation Sans&quot;, sans-serif" font-size="7.4" text-anchor="start" fill="#231f20" stroke="#231f20" stroke-width="0.22">x</text>
<text x="298.40" y="338.9" font-family="&quot;Liberation Sans&quot;, sans-serif" font-size="7.6" text-anchor="start" fill="#231f20" stroke="#231f20" stroke-width="0.22" textLength="7.7" lengthAdjust="spacingAndGlyphs">10</text>
<text x="307.00" y="334.40" font-family="&quot;Liberation Sans&quot;, sans-serif" font-size="5.0" text-anchor="start" fill="#231f20" stroke="#231f20" stroke-width="0.22">4</text>
<text x="392.8" y="334.8" font-family="&quot;Liberation Sans&quot;, sans-serif" font-size="9.2" text-anchor="start" fill="#231f20" stroke="#231f20" stroke-width="0.22" textLength="29.4" lengthAdjust="spacingAndGlyphs">Tc=10s</text>
<path d="M298.40,369.2 V367.0" stroke="#888888" stroke-width="0.8"/>
<text x="298.40" y="377.70" font-family="&quot;Liberation Sans&quot;, sans-serif" font-size="7.3" text-anchor="middle" fill="#231f20" stroke="#231f20" stroke-width="0.22">120</text>
<path d="M329.70,369.2 V367.0" stroke="#888888" stroke-width="0.8"/>
<text x="329.70" y="377.70" font-family="&quot;Liberation Sans&quot;, sans-serif" font-size="7.3" text-anchor="middle" fill="#231f20" stroke="#231f20" stroke-width="0.22">130</text>
<path d="M361.00,369.2 V367.0" stroke="#888888" stroke-width="0.8"/>
<text x="361.00" y="377.70" font-family="&quot;Liberation Sans&quot;, sans-serif" font-size="7.3" text-anchor="middle" fill="#231f20" stroke="#231f20" stroke-width="0.22">140</text>
<path d="M392.30,369.2 V367.0" stroke="#888888" stroke-width="0.8"/>
<text x="392.30" y="377.70" font-family="&quot;Liberation Sans&quot;, sans-serif" font-size="7.3" text-anchor="middle" fill="#231f20" stroke="#231f20" stroke-width="0.22">150</text>
<path d="M423.60,369.2 V367.0" stroke="#888888" stroke-width="0.8"/>
<text x="423.60" y="377.70" font-family="&quot;Liberation Sans&quot;, sans-serif" font-size="7.3" text-anchor="middle" fill="#231f20" stroke="#231f20" stroke-width="0.22">160</text>
<path d="M454.90,369.2 V367.0" stroke="#888888" stroke-width="0.8"/>
<text x="454.90" y="377.70" font-family="&quot;Liberation Sans&quot;, sans-serif" font-size="7.3" text-anchor="middle" fill="#231f20" stroke="#231f20" stroke-width="0.22">170</text>
<path d="M486.20,369.2 V367.0" stroke="#888888" stroke-width="0.8"/>
<text x="486.20" y="377.70" font-family="&quot;Liberation Sans&quot;, sans-serif" font-size="7.3" text-anchor="middle" fill="#231f20" stroke="#231f20" stroke-width="0.22">180</text>
<path d="M517.50,369.2 V367.0" stroke="#888888" stroke-width="0.8"/>
<text x="517.50" y="377.70" font-family="&quot;Liberation Sans&quot;, sans-serif" font-size="7.3" text-anchor="middle" fill="#231f20" stroke="#231f20" stroke-width="0.22">190</text>
<text x="10.9" y="225.6" font-family="&quot;Liberation Sans&quot;, sans-serif" font-size="8.7" text-anchor="start" fill="#231f20" stroke="#231f20" stroke-width="0.22">(b)</text>
<text x="127.2" y="387.8" font-family="&quot;Liberation Sans&quot;, sans-serif" font-size="7.3" text-anchor="start" fill="#231f20" stroke="#231f20" stroke-width="0.22" textLength="27.0" lengthAdjust="spacingAndGlyphs">Time(s)</text>
<text x="404.1" y="386.2" font-family="&quot;Liberation Sans&quot;, sans-serif" font-size="7.3" text-anchor="start" fill="#231f20" stroke="#231f20" stroke-width="0.22" textLength="25.4" lengthAdjust="spacingAndGlyphs">Time(s)</text>
<path d="M208.9,401.1 H226.9" stroke="#333" stroke-width="1.3"/>
<text x="227.8" y="402.8" font-family="&quot;Liberation Sans&quot;, sans-serif" font-size="6.3" text-anchor="start" fill="#231f20" stroke="#231f20" stroke-width="0.22" textLength="16.9" lengthAdjust="spacingAndGlyphs">Target</text>
<path d="M257.8,401 H274.9" stroke="#2b2bff" stroke-width="1" stroke-dasharray="1 0.7"/>
<text x="276.4" y="402.8" font-family="&quot;Liberation Sans&quot;, sans-serif" font-size="6.3" text-anchor="start" fill="#231f20" stroke="#231f20" stroke-width="0.22" textLength="14.1" lengthAdjust="spacingAndGlyphs">Initial</text>
<path d="M300,400.6 H317.6" stroke="#ee1c24" stroke-width="1"/>
<text x="318.2" y="402.8" font-family="&quot;Liberation Sans&quot;, sans-serif" font-size="6.3" text-anchor="start" fill="#231f20" stroke="#231f20" stroke-width="0.22" textLength="39.4" lengthAdjust="spacingAndGlyphs">Joint inversion</text>
</svg></body></html>
